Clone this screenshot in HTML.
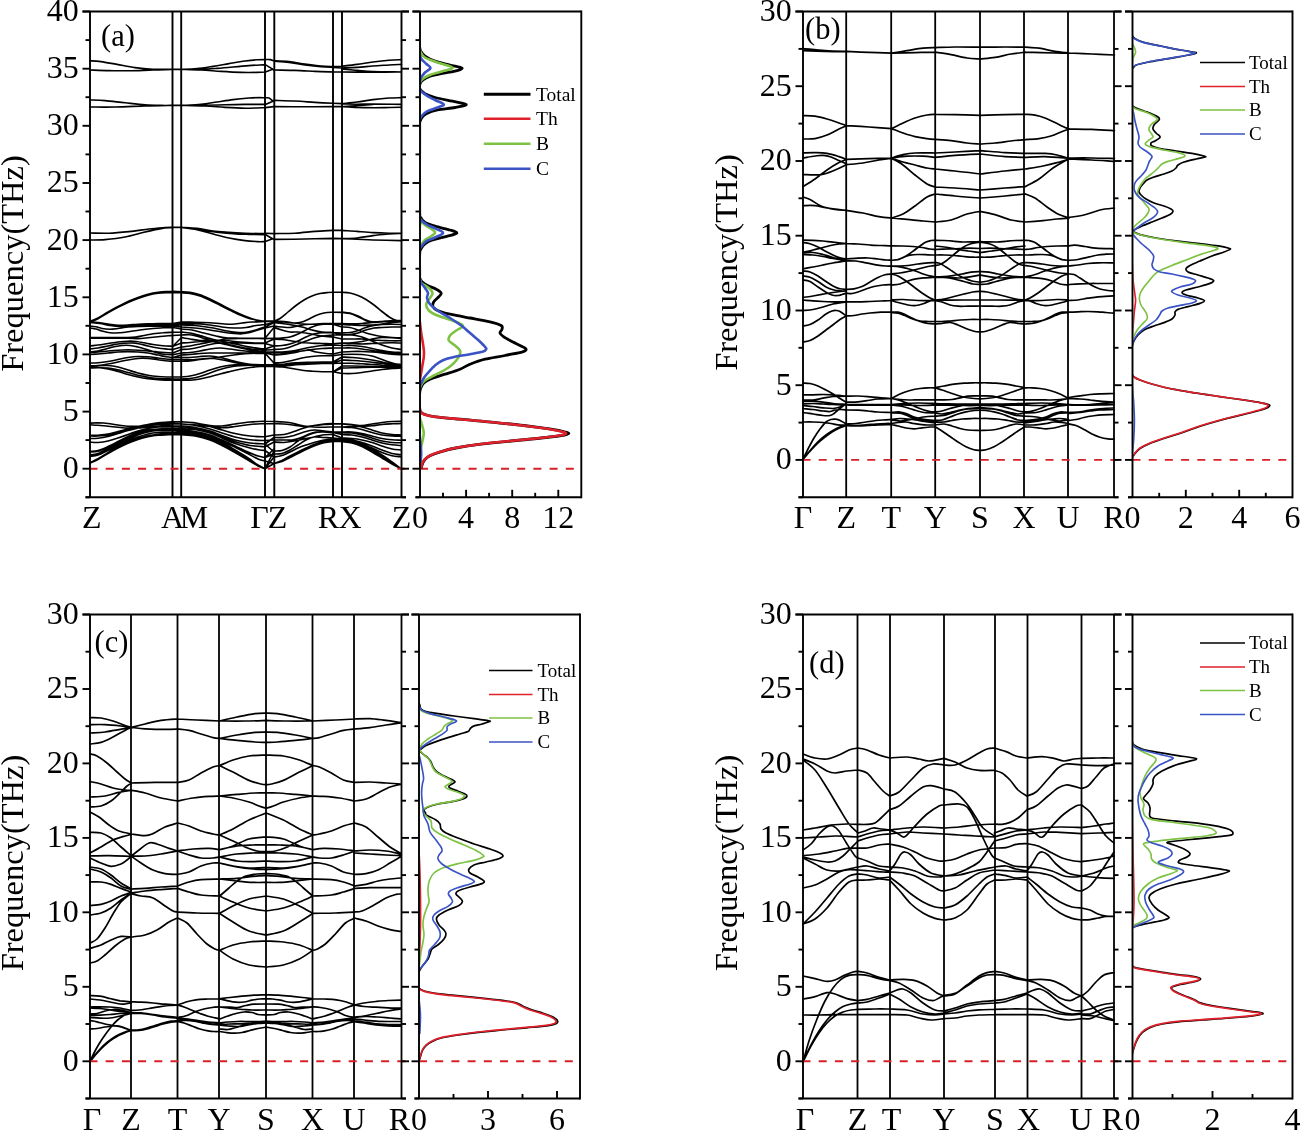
<!DOCTYPE html>
<html lang="en"><head><meta charset="utf-8"><title>Phonon dispersion and DOS</title>
<style>html,body{margin:0;padding:0;background:#fff}svg{display:block}</style></head>
<body>
<svg width="1300" height="1133" viewBox="0 0 1300 1133" font-family='"Liberation Serif", "DejaVu Serif", serif' fill="#000">
<rect width="1300" height="1133" fill="#fff"/>
<path d="M90 60.8C91.8 60.9 96.5 61 101 61.6C105.5 62.2 111.3 63.4 117 64.4C122.7 65.4 129 66.8 135 67.6C141 68.4 146.7 68.9 153 69.2C159.3 69.5 169.3 69.4 172.6 69.4M90 70C93.2 70.1 102.5 70.5 109 70.6C115.5 70.7 121.7 70.9 129 70.8C136.3 70.7 145.7 70.2 153 70C160.3 69.8 169.3 69.5 172.6 69.4M172.6 69.4L181.6 69.4M181.6 69.4C184.2 69.3 191.8 69.1 197 68.6C202.2 68.1 207.7 67.2 213 66.4C218.3 65.6 223.7 64.5 229 63.6C234.3 62.7 240.3 61.6 245 61C249.7 60.4 253.6 60 257 59.8C260.4 59.6 264 59.6 265.4 59.6M181.6 69.4C184.8 69.4 195.1 69.6 201 69.4C206.9 69.2 211.7 68.8 217 68.4C222.3 68 227.7 67.5 233 67C238.3 66.5 243.6 66 249 65.6C254.4 65.2 262.7 64.8 265.4 64.6M181.6 69.4C184.8 69.5 194.4 69.7 201 70C207.6 70.3 214.3 71 221 71.4C227.7 71.8 235 72.2 241 72.4C247 72.6 252.9 72.5 257 72.4C261.1 72.3 264 72.1 265.4 72M265.4 59.6C266.2 59.6 268.6 59.4 270 59.6C271.4 59.8 273 60.6 273.6 60.8M265.4 64.6C266.6 65.4 271.2 68.3 272.6 69.2C274 70.1 273.4 69.9 273.6 70M265.4 72L272.6 69.2M90 100C92.5 100.1 99.2 100.1 105 100.6C110.8 101.1 118.3 102.1 125 102.8C131.7 103.5 139 104.4 145 104.8C151 105.2 156.4 105.3 161 105.4C165.6 105.5 170.7 105.4 172.6 105.4M90 107C94.2 107 105.8 107.2 115 107C124.2 106.8 135.4 106.3 145 106C154.6 105.7 168 105.5 172.6 105.4M172.6 105.4L181.6 105.4M181.6 105.4C184.8 105.2 195.1 105 201 104.4C206.9 103.8 211.7 102.8 217 102C222.3 101.2 227.7 100.3 233 99.6C238.3 98.9 244.7 98.3 249 98C253.3 97.7 256.3 97.6 259 97.6C261.7 97.6 264.3 97.8 265.4 97.8M181.6 105.4C185.5 105.4 197.8 105.3 205 105.2C212.2 105.1 218.3 104.9 225 104.8C231.7 104.7 238.3 104.5 245 104.4C251.7 104.3 262 104.4 265.4 104.4M181.6 105.4C185.5 105.5 197.8 105.7 205 106C212.2 106.3 218.3 107 225 107.4C231.7 107.8 238.3 108.2 245 108.2C251.7 108.2 262 107.7 265.4 107.6M265.4 97.8C266 97.8 267.7 97.4 269 98C270.3 98.6 272.2 100.8 273 101.2C273.8 101.6 273.5 100.7 273.6 100.6M265.4 104.4L273 101.2M265.4 107.6L273.6 106.6M90 233C93.2 233 102.5 233.4 109 233.2C115.5 233 122.3 232.3 129 231.6C135.7 230.9 143 229.7 149 229C155 228.3 161.1 227.9 165 227.6C168.9 227.3 171.3 227.4 172.6 227.4M90 240C92.5 239.9 99.2 240.1 105 239.6C110.8 239.1 118.3 238.3 125 237C131.7 235.7 139 233.4 145 232C151 230.6 156.4 229.3 161 228.6C165.6 227.9 170.7 227.8 172.6 227.6M172.6 227.4L181.6 227.4M181.6 227.4C184.2 227.6 191.8 227.8 197 228.4C202.2 229 207.7 230.3 213 231C218.3 231.7 223.7 232 229 232.4C234.3 232.8 238.9 233 245 233.2C251.1 233.4 262 233.5 265.4 233.6M181.6 227.4C184.2 227.6 191.8 228.1 197 228.8C202.2 229.5 207 230.8 213 231.6C219 232.4 227 233.1 233 233.6C239 234.1 243.6 234.2 249 234.4C254.4 234.6 262.7 234.6 265.4 234.6M181.6 227.4C184.2 227.8 191.8 228.5 197 229.6C202.2 230.7 207.7 232.6 213 234C218.3 235.4 223.7 236.9 229 238C234.3 239.1 240.3 240 245 240.6C249.7 241.2 253.6 241.4 257 241.6C260.4 241.8 264 241.6 265.4 241.6M265.4 233.2L273.6 233.6M265.4 234.6C266.6 235.3 271.2 238 272.6 238.8C274 239.6 273.4 239.1 273.6 239.2M265.4 241.6L272.6 238.8M274.4 60.8C276.8 60.9 283.9 61.1 289 61.6C294.1 62.1 299.7 63.3 305 64C310.3 64.7 316.3 65.6 321 66C325.7 66.4 331 66.5 333 66.6M274.4 61.2C276.8 61.4 283.9 61.8 289 62.4C294.1 63 299.7 64.3 305 65C310.3 65.7 316.3 66.4 321 66.8C325.7 67.2 331 67.3 333 67.4M274.4 70C277.8 70.1 288.2 70.2 295 70.4C301.8 70.6 308.7 71.1 315 71.4C321.3 71.7 330 71.9 333 72M333 66.6L342 66.2M333 67.4L342 68M333 72L342 72M342 66.2C344.5 65.9 351.8 65.1 357 64.4C362.2 63.7 367.7 62.7 373 62C378.3 61.3 384.3 60.6 389 60.2C393.7 59.8 399.3 59.7 401.4 59.6M342 68C344.5 67.9 351.8 67.7 357 67.4C362.2 67.1 367.7 66.4 373 66C378.3 65.6 384.3 65.3 389 65C393.7 64.7 399.3 64.5 401.4 64.4M342 69C344.5 69.2 351.8 70 357 70.4C362.2 70.8 365.6 71.3 373 71.6C380.4 71.9 396.7 71.9 401.4 72M342 72C345.8 72 357.8 72.2 365 72.2C372.2 72.2 378.9 72.2 385 72.2C391.1 72.2 398.7 72 401.4 72M274.4 100.4C277.8 100.5 288.2 100.7 295 101C301.8 101.3 308.7 102 315 102.4C321.3 102.8 330 103.1 333 103.2M274.4 106.6C279.5 106.6 295.2 106.8 305 106.8C314.8 106.8 328.3 106.6 333 106.6M333 103.2L342 103.6M333 106.6L342 106.6M342 103.6C344.5 103.3 351.8 102.7 357 102C362.2 101.3 367.7 100.3 373 99.6C378.3 98.9 384.3 98.3 389 98C393.7 97.7 399.3 97.7 401.4 97.6M342 104C344.5 104 351.8 104.2 357 104.2C362.2 104.2 365.6 104 373 104C380.4 104 396.7 104.3 401.4 104.4M342 106.6C345.8 106.8 357.8 107.4 365 107.6C372.2 107.8 378.9 107.7 385 107.6C391.1 107.5 398.7 107.3 401.4 107.2M342 106.6C344.5 106.4 351.8 106 357 105.6C362.2 105.2 370.3 104.6 373 104.4M274.4 233.6C277.8 233.5 288.2 233.6 295 233.2C301.8 232.8 308.7 231.9 315 231.4C321.3 230.9 330 230.6 333 230.4M274.4 239.4C279.5 239.3 295.2 239.2 305 239C314.8 238.8 328.3 238.5 333 238.4M333 230.4L342 230.4M333 238.4L342 238.6M342 230.4C344.5 230.6 351.8 231 357 231.4C362.2 231.8 367.7 232.3 373 232.6C378.3 232.9 384.3 233.1 389 233.2C393.7 233.3 399.3 233.2 401.4 233.2M342 238.6C344.5 238.7 351.8 239 357 239.2C362.2 239.4 365.6 239.8 373 240C380.4 240.2 396.7 240.5 401.4 240.6M342 238.6C344.5 238.5 351.8 238.5 357 238C362.2 237.5 367.7 236.3 373 235.6C378.3 234.9 384.3 234.4 389 234C393.7 233.6 399.3 233.5 401.4 233.4M89.8 321.5C91.2 320.9 95 319.6 98 318C101 316.4 104.7 313.9 108 312C111.3 310.1 114.7 308.2 118 306.5C121.3 304.8 124.7 303 128 301.5C131.3 300 134.7 298.7 138 297.5C141.3 296.3 144.7 295.1 148 294.2C151.3 293.3 155 292.6 158 292.2C161 291.8 163.5 291.6 166 291.5C168.5 291.4 171.7 291.4 172.8 291.4M89.8 322C91.2 321.4 95 320.2 98 318.7C101 317.2 104.7 314.7 108 312.8C111.3 310.9 114.7 309 118 307.3C121.3 305.6 124.7 303.9 128 302.4C131.3 300.9 134.7 299.6 138 298.4C141.3 297.2 144.7 296.1 148 295.2C151.3 294.3 155 293.6 158 293.2C161 292.8 163.5 292.7 166 292.6C168.5 292.5 171.7 292.5 172.8 292.5M89.8 322C91.2 322.1 95 322.2 98 322.5C101 322.8 104.7 323.6 108 324C111.3 324.4 114.7 325 118 325.2C121.3 325.4 124.7 325.2 128 325C131.3 324.8 134.7 324.4 138 324.2C141.3 324 144.7 323.9 148 323.8C151.3 323.7 153.9 323.7 158 323.6C162.1 323.6 170.3 323.5 172.8 323.5M89.8 322.5C91.5 322.7 96.6 323 100 323.5C103.4 324 106.5 325 110 325.5C113.5 326 117.2 326.4 121 326.5C124.8 326.6 128.5 326.1 133 325.8C137.5 325.6 143 325.2 148 325C153 324.8 158.9 324.8 163 324.8C167.1 324.8 171.2 324.8 172.8 324.8M89.8 326C90.8 326.1 94 326.4 96 326.8C98 327.2 99.7 328.1 102 328.5C104.3 328.9 107.3 329.2 110 329.2C112.7 329.2 115.3 328.8 118 328.5C120.7 328.2 122.7 327.5 126 327.2C129.3 326.9 133.5 326.7 138 326.5C142.5 326.3 147.2 326.3 153 326.2C158.8 326.1 169.5 326 172.8 326M89.8 328C90.8 328.2 94 328.5 96 329C98 329.5 99.7 330.4 102 331C104.3 331.6 107 332.4 110 332.7C113 333 116.7 333 120 332.8C123.3 332.6 126.7 332 130 331.5C133.3 331 136.2 330.5 140 330C143.8 329.5 149.2 328.9 153 328.5C156.8 328.1 159.7 328 163 327.8C166.3 327.6 171.2 327.6 172.8 327.5M89.8 337.5C92.8 337.5 101.6 337.5 108 337.5C114.4 337.5 123.3 337.6 128 337.5C132.7 337.4 133.3 337.3 136 337C138.7 336.7 141.2 336 144 335.5C146.8 335 149.8 334.3 153 333.8C156.2 333.3 159.7 332.9 163 332.7C166.3 332.4 171.2 332.4 172.8 332.3M89.8 338.2C92.8 338.2 101.6 338.2 108 338.2C114.4 338.2 123 338.1 128 338.2C133 338.3 134.7 338.7 138 338.6C141.3 338.5 144.7 338.1 148 337.8C151.3 337.5 154.7 337.1 158 336.8C161.3 336.5 165.5 336 168 335.8C170.5 335.6 172 335.6 172.8 335.5M89.8 346C91.2 345.8 95 345.4 98 345C101 344.6 104.7 344 108 343.5C111.3 343 114.7 342.4 118 342C121.3 341.6 125 341.3 128 341.2C131 341.1 133.3 341.2 136 341.5C138.7 341.8 141.2 342.3 144 342.8C146.8 343.3 149.8 344 153 344.5C156.2 345 159.7 345.5 163 345.8C166.3 346.1 171.2 346.1 172.8 346.2M89.8 349C91.2 348.8 95 348.5 98 348C101 347.5 105 346.6 108 346C111 345.4 113.3 344.7 116 344.2C118.7 343.7 121.3 343.4 124 343.2C126.7 343 129.3 342.9 132 343C134.7 343.1 137.3 343.5 140 344C142.7 344.5 145 345.3 148 346C151 346.7 154.7 347.5 158 348C161.3 348.5 165.5 348.9 168 349.2C170.5 349.4 172 349.4 172.8 349.5M89.8 352C91.2 351.8 95.3 351.5 98 351C100.7 350.5 103.3 349.7 106 349C108.7 348.3 111.3 347.4 114 346.8C116.7 346.2 119.3 345.7 122 345.5C124.7 345.3 127.3 345.2 130 345.5C132.7 345.8 135.3 346.4 138 347C140.7 347.6 143.3 348.4 146 349.2C148.7 350 151.3 351.2 154 352C156.7 352.8 158.9 353.5 162 354C165.1 354.5 171 354.7 172.8 354.8M89.8 352.5C91.2 352.4 95 352.2 98 352C101 351.8 104.7 351.3 108 351C111.3 350.7 114.7 350.4 118 350.2C121.3 350 124.7 349.8 128 349.8C131.3 349.8 134.7 350 138 350.2C141.3 350.4 144.7 350.7 148 351C151.3 351.3 153.9 351.7 158 352C162.1 352.3 170.3 352.8 172.8 353M89.8 354.5C91.2 354.4 95 354.2 98 354C101 353.8 104.7 353.3 108 353C111.3 352.7 114.7 352.2 118 352C121.3 351.8 124.7 351.6 128 351.6C131.3 351.6 134.7 351.8 138 352C141.3 352.2 144.7 352.5 148 353C151.3 353.5 155 354.4 158 355C161 355.6 163.5 356.4 166 356.8C168.5 357.2 171.7 357.4 172.8 357.5M89.8 363C91.2 363 95 363.1 98 362.8C101 362.6 104.7 362.1 108 361.5C111.3 360.9 114.7 360.2 118 359.5C121.3 358.8 124.7 358 128 357.5C131.3 357 134.7 356.6 138 356.5C141.3 356.4 144.7 356.6 148 356.8C151.3 357.1 154.7 357.6 158 358C161.3 358.4 165.5 358.9 168 359.2C170.5 359.4 172 359.4 172.8 359.5M89.8 366C91.2 365.9 95 365.8 98 365.5C101 365.2 104.7 364.6 108 364C111.3 363.4 114.7 362.7 118 362C121.3 361.3 124.7 360.6 128 360C131.3 359.4 134.7 358.8 138 358.5C141.3 358.2 144.7 358.3 148 358.5C151.3 358.7 154.7 359.4 158 359.8C161.3 360.2 165.5 360.8 168 361C170.5 361.2 172 361.2 172.8 361.2M89.8 366.5C91.2 366.4 95 366 98 365.8C101 365.6 104.7 365.3 108 365.5C111.3 365.7 114.7 366.2 118 367C121.3 367.8 124.7 369 128 370C131.3 371 134.7 372.1 138 373C141.3 373.9 144.7 374.6 148 375.2C151.3 375.8 154.7 376.2 158 376.5C161.3 376.8 165.5 376.9 168 377C170.5 377.1 172 377 172.8 377M89.8 367.5C91.2 367.5 95 367.2 98 367.5C101 367.8 104.7 368.3 108 369C111.3 369.7 114.7 370.6 118 371.5C121.3 372.4 124.7 373.6 128 374.5C131.3 375.4 134.7 376.3 138 377C141.3 377.7 144.7 378.3 148 378.8C151.3 379.3 154.7 379.6 158 379.8C161.3 380 165.5 380.1 168 380.2C170.5 380.3 172 380.2 172.8 380.2M89.8 368C91.2 368 95 367.8 98 367.8C101 367.8 104.7 367.7 108 368C111.3 368.3 114.7 369.1 118 369.8C121.3 370.6 124.7 371.6 128 372.5C131.3 373.4 134.7 374.4 138 375.2C141.3 376 144.7 376.6 148 377.2C151.3 377.8 153.9 378.2 158 378.5C162.1 378.8 170.3 378.9 172.8 379M181.5 291.8C182.9 291.9 186.9 291.7 190 292.2C193.1 292.7 196.7 293.7 200 294.8C203.3 295.9 206.7 297.5 210 299C213.3 300.5 216.7 302.3 220 304C223.3 305.7 226.7 307.5 230 309.2C233.3 310.9 236.7 312.5 240 314C243.3 315.5 247.2 317 250 318C252.8 319 254.5 319.7 257 320.2C259.5 320.7 263.7 320.9 265 321M181.5 292.8C182.9 292.9 186.9 292.9 190 293.4C193.1 293.9 196.7 294.9 200 296C203.3 297.1 206.7 298.7 210 300.2C213.3 301.7 216.7 303.5 220 305.2C223.3 306.9 226.7 308.6 230 310.2C233.3 311.8 236.7 313.6 240 315C243.3 316.4 245.8 317.7 250 318.8C254.2 319.9 262.5 321.1 265 321.5M181.5 322C183.8 322 190.2 322.1 195 322.2C199.8 322.3 205.5 322.5 210 322.8C214.5 323.1 218.3 323.6 222 323.8C225.7 324 228.7 324.3 232 324.2C235.3 324.1 238.7 323.4 242 323C245.3 322.6 248.2 322.2 252 322C255.8 321.8 262.8 321.6 265 321.5M181.5 323.5C183.8 323.6 190.2 323.6 195 323.8C199.8 324.1 205.5 324.5 210 325C214.5 325.5 218 326.5 222 327C226 327.5 230 327.9 234 328C238 328.1 242.3 327.9 246 327.5C249.7 327.1 252.8 326 256 325.5C259.2 325 263.5 324.7 265 324.5M181.5 324.8C183.8 324.9 190.2 325.1 195 325.5C199.8 325.9 205.5 326.8 210 327.5C214.5 328.2 218 329.2 222 330C226 330.8 230.3 331.6 234 332C237.7 332.4 241 332.7 244 332.5C247 332.3 249.3 331.7 252 331C254.7 330.3 257.8 329.2 260 328.5C262.2 327.8 264.2 327.2 265 327M181.5 327C183.8 327.2 190.2 327.5 195 328C199.8 328.5 205.5 329.3 210 330C214.5 330.7 218 331.4 222 332C226 332.6 230.7 333.2 234 333.5C237.3 333.8 239.3 334 242 333.8C244.7 333.6 247.3 333.1 250 332.5C252.7 331.9 255.5 330.8 258 330C260.5 329.2 263.8 328.3 265 328M181.5 329C183.2 329.2 188.2 329.3 192 330C195.8 330.7 200 332 204 333C208 334 212.3 335.2 216 336C219.7 336.8 222 337.4 226 337.8C230 338.2 235.2 338.1 240 338.2C244.8 338.3 250.8 338.2 255 338.2C259.2 338.2 263.3 338.2 265 338.2M181.5 332C182.9 332.2 186.9 332.4 190 333C193.1 333.6 196.7 334.6 200 335.5C203.3 336.4 206.7 337.6 210 338.5C213.3 339.4 216.7 340.2 220 341C223.3 341.8 226.7 342.3 230 343C233.3 343.7 236.7 344.3 240 345C243.3 345.7 246.7 346.4 250 347C253.3 347.6 257.5 348.2 260 348.5C262.5 348.8 264.2 348.9 265 349M181.5 335C182.9 335 187.2 334.6 190 334.8C192.8 335.1 195.3 335.8 198 336.5C200.7 337.2 203 338.1 206 339C209 339.9 212.7 341.1 216 342C219.3 342.9 222.7 343.7 226 344.5C229.3 345.3 232.7 346.2 236 347C239.3 347.8 242.7 348.3 246 349C249.3 349.7 252.8 350.5 256 351C259.2 351.5 263.5 351.7 265 351.8M181.5 337.5C182.9 337.8 186.9 338.5 190 339C193.1 339.5 197 340.2 200 340.5C203 340.8 205.3 340.6 208 340.5C210.7 340.4 213 340 216 340C219 340 222 340.2 226 340.5C230 340.8 235.2 341.6 240 342C244.8 342.4 250.8 342.8 255 343C259.2 343.2 263.3 343 265 343M181.5 343C182.9 342.9 186.9 342.8 190 342.5C193.1 342.2 197 341.8 200 341.5C203 341.2 205.3 340.9 208 341C210.7 341.1 213 341.5 216 342C219 342.5 222 343.2 226 344C230 344.8 235.2 346.1 240 347C244.8 347.9 250.8 349 255 349.5C259.2 350 263.3 350.1 265 350.2M181.5 347C182.9 346.8 186.9 346.5 190 346C193.1 345.5 196.7 344.7 200 344C203.3 343.3 207 342.6 210 342C213 341.4 215.3 341 218 340.5C220.7 340 222.3 339.3 226 339C229.7 338.7 233.5 338.6 240 338.5C246.5 338.4 260.8 338.6 265 338.6M181.5 349.5C182.9 349.4 186.9 349.4 190 349C193.1 348.6 196.7 347.8 200 347C203.3 346.2 206.7 345.2 210 344.5C213.3 343.8 216.7 343.3 220 343C223.3 342.7 226.7 342.8 230 342.8C233.3 342.8 235.8 342.9 240 343C244.2 343.1 250.8 343.3 255 343.4C259.2 343.5 263.3 343.5 265 343.5M181.5 353C182.9 352.9 186.9 352.8 190 352.5C193.1 352.2 196.7 351.6 200 351C203.3 350.4 206.7 349.5 210 349C213.3 348.5 216.7 348 220 348C223.3 348 226.7 348.6 230 349C233.3 349.4 236.7 350.1 240 350.5C243.3 350.9 245.8 351.2 250 351.5C254.2 351.8 262.5 351.9 265 352M181.5 355C182.9 354.9 186.9 354.8 190 354.5C193.1 354.2 196.7 353.8 200 353.5C203.3 353.2 206.7 353.1 210 353C213.3 352.9 216.7 353 220 353C223.3 353 226.7 353 230 353C233.3 353 236.7 353 240 353C243.3 353 245.8 353 250 353C254.2 353 262.5 353 265 353M181.5 357.5C182.9 357.5 186.9 357.7 190 357.5C193.1 357.3 196.7 356.8 200 356.5C203.3 356.2 206.7 355.8 210 356C213.3 356.2 216.7 356.8 220 357.5C223.3 358.2 226.7 359.2 230 360C233.3 360.8 236.7 361.8 240 362.5C243.3 363.2 246.7 363.8 250 364.2C253.3 364.6 257.5 365 260 365.2C262.5 365.4 264.2 365.4 265 365.5M181.5 359.5C182.9 359.6 186.9 359.9 190 359.8C193.1 359.7 196.7 359.3 200 359C203.3 358.7 206.7 358.1 210 358.2C213.3 358.3 216.7 358.9 220 359.5C223.3 360.1 226.7 360.8 230 361.5C233.3 362.2 236.7 362.9 240 363.5C243.3 364.1 245.8 364.4 250 364.8C254.2 365.2 262.5 365.6 265 365.8M181.5 361.2C182.9 361.2 186.9 361.3 190 361C193.1 360.7 196.7 359.9 200 359.5C203.3 359.1 206.7 358.9 210 358.5C213.3 358.1 216.7 357.5 220 357C223.3 356.5 226.7 356 230 355.5C233.3 355 236.7 354.5 240 354.2C243.3 353.9 245.8 353.7 250 353.5C254.2 353.3 262.5 353.2 265 353.2M181.5 377C182.9 376.8 186.9 376.6 190 376C193.1 375.4 196.7 374.5 200 373.5C203.3 372.5 206.7 371.1 210 370C213.3 368.9 216.7 367.8 220 367C223.3 366.2 226.7 365.6 230 365.2C233.3 364.8 236.7 364.6 240 364.5C243.3 364.4 245.8 364.4 250 364.5C254.2 364.6 262.5 364.8 265 364.8M181.5 379C182.9 378.9 186.9 378.9 190 378.5C193.1 378.1 196.7 377.4 200 376.5C203.3 375.6 206.7 374.2 210 373C213.3 371.8 216.7 370.5 220 369.5C223.3 368.5 226.7 367.6 230 367C233.3 366.4 236.7 366.1 240 365.8C243.3 365.5 245.8 365.3 250 365.2C254.2 365.1 262.5 365.2 265 365.2M181.5 380.2C182.9 380.2 186.9 380.4 190 380.2C193.1 380 196.7 379.6 200 379C203.3 378.4 206.7 377.6 210 376.8C213.3 376 216.7 374.9 220 374C223.3 373.1 226.7 372.3 230 371.5C233.3 370.7 236.7 369.9 240 369.2C243.3 368.5 246.7 367.9 250 367.5C253.3 367.1 257.5 366.7 260 366.5C262.5 366.3 264.2 366.2 265 366.2M274 321C275 320.6 277.7 320 280 318.5C282.3 317 285.3 314.2 288 312C290.7 309.8 293.3 307.5 296 305.5C298.7 303.5 301.3 301.6 304 300C306.7 298.4 309.3 297.1 312 296C314.7 294.9 317.3 294.1 320 293.5C322.7 292.9 325.8 292.7 328 292.5C330.2 292.3 332.2 292.3 333 292.3M333 292.3L342 292.3M342 292.3C343.3 292.4 347.3 292.5 350 293C352.7 293.5 355.3 294.4 358 295.5C360.7 296.6 363.3 297.9 366 299.5C368.7 301.1 371.3 303 374 305C376.7 307 379.3 309.4 382 311.5C384.7 313.6 387.7 316 390 317.5C392.3 319 394.2 319.8 396 320.5C397.8 321.2 400.2 321.3 401 321.5M274 321.5C275.7 321.6 280.7 321.8 284 322C287.3 322.2 291 323 294 323C297 323 299.7 322.6 302 322C304.3 321.4 305.7 320.6 308 319.5C310.3 318.4 313.3 316.6 316 315.5C318.7 314.4 321.2 313.6 324 313C326.8 312.4 331.5 312.3 333 312.2M333 312.2L342 312M342 312C343.3 312.2 347.3 312.3 350 313C352.7 313.7 355.3 314.8 358 316C360.7 317.2 363.7 319 366 320C368.3 321 369.7 321.6 372 321.8C374.3 322.1 377 321.7 380 321.5C383 321.3 386.5 321 390 320.8C393.5 320.6 399.2 320.6 401 320.5M342 312.5C343.3 312.7 347.3 312.9 350 313.6C352.7 314.3 355.3 315.5 358 316.7C360.7 317.9 363.7 319.8 366 320.7C368.3 321.6 369.7 322.1 372 322.3C374.3 322.5 377 322.2 380 322C383 321.8 386.5 321.5 390 321.3C393.5 321.1 399.2 321.1 401 321M274 321.5C275.7 321.5 280.7 321.2 284 321.5C287.3 321.8 290.7 322.6 294 323C297.3 323.4 300.7 323.8 304 324C307.3 324.2 310.7 324.3 314 324.2C317.3 324.1 320.8 323.6 324 323.5C327.2 323.4 331.5 323.5 333 323.5M274 322.5C275.3 322.7 279 323.1 282 323.5C285 323.9 288.7 324.4 292 325C295.3 325.6 298.7 326.2 302 327C305.3 327.8 308.7 329.2 312 330C315.3 330.8 318.5 331.6 322 332C325.5 332.4 331.2 332.4 333 332.5M274 326C275.3 326.2 279.3 326.8 282 327C284.7 327.2 287.3 327.7 290 327.5C292.7 327.3 295.3 326.5 298 326C300.7 325.5 303 324.8 306 324.5C309 324.2 311.5 324.1 316 324C320.5 323.9 330.2 324.2 333 324.2M274 327.5C275.3 327.9 279.3 329.2 282 330C284.7 330.8 287.3 331.7 290 332C292.7 332.3 295.3 331.8 298 332C300.7 332.2 303 332.5 306 333C309 333.5 312.7 334.4 316 335C319.3 335.6 323.2 336.2 326 336.5C328.8 336.8 331.8 336.9 333 337M274 338.2C275.3 338.2 279.3 338.2 282 338C284.7 337.8 287.3 337.7 290 337C292.7 336.3 295.3 335.2 298 334C300.7 332.8 303.7 331.2 306 330C308.3 328.8 310 327.8 312 327C314 326.2 315.7 325.5 318 325C320.3 324.5 323.5 324.2 326 324C328.5 323.8 331.8 323.8 333 323.8M274 339C275.3 339.1 279 339.2 282 339.5C285 339.8 288.7 340.5 292 341C295.3 341.5 298.7 342.1 302 342.5C305.3 342.9 308.7 343 312 343.2C315.3 343.4 318.5 343.4 322 343.5C325.5 343.6 331.2 343.8 333 343.8M274 346C275.3 345.9 279.3 345.8 282 345.5C284.7 345.2 287.3 344.8 290 344C292.7 343.2 295.3 342.2 298 341C300.7 339.8 303.3 338.2 306 337C308.7 335.8 311.3 334.7 314 334C316.7 333.3 318.8 333.1 322 332.8C325.2 332.6 331.2 332.6 333 332.5M274 349.5C275.3 349.4 279.3 349.4 282 349C284.7 348.6 287.3 347.8 290 347C292.7 346.2 295.3 345 298 344C300.7 343 303.3 342 306 341C308.7 340 311.3 338.8 314 338C316.7 337.2 318.8 336.5 322 336C325.2 335.5 331.2 335.2 333 335M274 352C275.3 352 279 352.2 282 352C285 351.8 288.7 351.5 292 351C295.3 350.5 298.7 349.7 302 349C305.3 348.3 308.7 347.6 312 347C315.3 346.4 318.5 345.8 322 345.5C325.5 345.2 331.2 345.1 333 345M274 353C275.3 353 279 353.1 282 353C285 352.9 288.7 352.5 292 352.2C295.3 351.9 298.7 351.4 302 351C305.3 350.6 308.7 349.9 312 349.5C315.3 349.1 318.5 348.8 322 348.5C325.5 348.2 331.2 348.1 333 348M274 355C275.3 354.9 279 354.8 282 354.5C285 354.2 288.7 353.6 292 353C295.3 352.4 299.3 351.5 302 351C304.7 350.5 305.7 349.8 308 350C310.3 350.2 313 351.4 316 352C319 352.6 323.2 353.2 326 353.5C328.8 353.8 331.8 353.9 333 354M274 363C275.3 362.9 279 362.9 282 362.5C285 362.1 288.7 361.2 292 360.5C295.3 359.8 298.7 358.7 302 358C305.3 357.3 308.7 356.9 312 356.5C315.3 356.1 318.5 355.9 322 355.8C325.5 355.7 331.2 355.8 333 355.8M274 364.5C275.3 364.5 279 364.8 282 364.5C285 364.2 288.7 363.3 292 363C295.3 362.7 298.7 362.6 302 362.5C305.3 362.4 308.7 362.3 312 362.2C315.3 362.1 318.5 362 322 362C325.5 362 331.2 362 333 362M274 366C275.3 366 279 366.1 282 366C285 365.9 288.7 365.4 292 365.2C295.3 364.9 298.7 364.7 302 364.5C305.3 364.3 308.7 364.2 312 364C315.3 363.8 318.5 363.6 322 363.5C325.5 363.4 331.2 363.5 333 363.5M274 366.5C275.3 366.6 279 366.7 282 367C285 367.3 288.7 368 292 368.5C295.3 369 298.7 369.8 302 370.2C305.3 370.6 308.7 370.9 312 371.2C315.3 371.4 318.5 371.6 322 371.7C325.5 371.8 331.2 371.8 333 371.8M274 365.5C277 365.3 285.7 364.6 292 364.2C298.3 363.8 305.2 363.2 312 363C318.8 362.8 329.5 363 333 363M342 323.5C343.7 323.6 348.7 323.8 352 323.8C355.3 323.8 358.7 323.7 362 323.5C365.3 323.3 368.7 322.8 372 322.5C375.3 322.2 378.7 321.8 382 321.5C385.3 321.2 388.8 321 392 320.8C395.2 320.6 399.5 320.6 401 320.5M342 324.5C343.7 324.6 348.7 324.8 352 325C355.3 325.2 358.7 325.5 362 325.5C365.3 325.5 368.7 325.2 372 325C375.3 324.8 378.7 324.4 382 324C385.3 323.6 388.8 322.9 392 322.5C395.2 322.1 399.5 321.9 401 321.8M342 327C343.3 327.1 347.3 327 350 327.5C352.7 328 355.3 329.1 358 330C360.7 330.9 363.3 332.2 366 333C368.7 333.8 371.3 334.4 374 335C376.7 335.6 379 336.1 382 336.5C385 336.9 388.8 337.3 392 337.5C395.2 337.7 399.5 337.8 401 337.8M342 333C343.3 332.9 347.3 332.9 350 332.5C352.7 332.1 355.3 331.3 358 330.5C360.7 329.7 363.3 328.3 366 327.5C368.7 326.7 371.3 326 374 325.5C376.7 325 379 324.7 382 324.5C385 324.3 388.8 324.2 392 324.2C395.2 324.2 399.5 324.4 401 324.5M342 335C343.7 335 348.7 334.7 352 335C355.3 335.3 358.7 336 362 337C365.3 338 368.7 339.7 372 341C375.3 342.3 378.7 343.8 382 345C385.3 346.2 388.8 347.2 392 348C395.2 348.8 399.5 349.2 401 349.5M342 335C343.3 334.9 347.3 334.8 350 334.5C352.7 334.2 355.3 333.8 358 333C360.7 332.2 363.3 330.8 366 330C368.7 329.2 371.3 328.4 374 328C376.7 327.6 379 327.7 382 327.5C385 327.3 388.8 327.1 392 327C395.2 326.9 399.5 327 401 327M342 339C343.7 339 348.7 339 352 339C355.3 339 358.7 338.8 362 339C365.3 339.2 368.7 339.8 372 340C375.3 340.2 378.7 340.4 382 340.5C385.3 340.6 388.8 340.8 392 340.8C395.2 340.9 399.5 340.8 401 340.8M342 343C343.7 343 348.7 343.1 352 342.8C355.3 342.6 358.7 342.1 362 341.5C365.3 340.9 368.7 339.7 372 339C375.3 338.3 378.7 337.7 382 337.5C385.3 337.3 388.8 337.6 392 337.8C395.2 338 399.5 338.4 401 338.5M342 343C343.7 343.1 348.7 343.3 352 343.5C355.3 343.7 358.7 344 362 344C365.3 344 368.7 343.7 372 343.5C375.3 343.3 378.7 343.1 382 343C385.3 342.9 388.8 342.8 392 342.8C395.2 342.8 399.5 343 401 343M342 345.5C343.7 345.5 348.7 345.3 352 345.5C355.3 345.7 358.7 346 362 346.5C365.3 347 368.7 347.8 372 348.5C375.3 349.2 378.7 349.9 382 350.5C385.3 351.1 388.8 351.7 392 352C395.2 352.3 399.5 352.4 401 352.5M342 348C343.7 348 348.7 347.8 352 348C355.3 348.2 358.7 348.6 362 349C365.3 349.4 368.7 350 372 350.5C375.3 351 378.7 351.6 382 352C385.3 352.4 388.8 352.8 392 353C395.2 353.2 399.5 353.4 401 353.5M342 352C343.7 351.9 348.7 351.6 352 351.5C355.3 351.4 358.7 351.4 362 351.5C365.3 351.6 368.7 351.8 372 352C375.3 352.2 378.7 352.6 382 353C385.3 353.4 388.8 353.9 392 354.2C395.2 354.5 399.5 354.7 401 354.8M342 354.5C343.7 354.4 348.7 354.2 352 354.2C355.3 354.2 358.7 354.2 362 354.5C365.3 354.8 369.3 355.4 372 356C374.7 356.6 375.7 357.2 378 358C380.3 358.8 383.3 360.1 386 361C388.7 361.9 391.5 362.9 394 363.5C396.5 364.1 399.8 364.3 401 364.5M342 357C343.7 357.1 348.7 357.2 352 357.5C355.3 357.8 358.7 358.1 362 358.5C365.3 358.9 368.7 359.4 372 360C375.3 360.6 378.7 361.3 382 362C385.3 362.7 388.8 363.5 392 364C395.2 364.5 399.5 365 401 365.2M342 360C343.7 360.1 348.7 360.3 352 360.5C355.3 360.7 358.7 360.9 362 361.2C365.3 361.5 368.7 361.8 372 362.2C375.3 362.6 378.7 363.1 382 363.5C385.3 363.9 388.8 364.4 392 364.8C395.2 365.2 399.5 365.6 401 365.8M342 363C343.7 363 348.7 363.1 352 363.2C355.3 363.3 358.7 363.6 362 363.8C365.3 364 368.7 364.3 372 364.5C375.3 364.7 378.7 364.9 382 365.2C385.3 365.4 388.8 365.8 392 366C395.2 366.2 399.5 366.4 401 366.5M342 366C343.7 366 348.7 366 352 366C355.3 366 358.7 366.1 362 366.2C365.3 366.3 368.7 366.4 372 366.5C375.3 366.6 378.7 366.7 382 366.8C385.3 366.9 388.8 366.9 392 367C395.2 367.1 399.5 367.2 401 367.2M342 368C343.7 368 348.7 367.9 352 367.8C355.3 367.7 358.7 367.6 362 367.5C365.3 367.4 368.7 367.3 372 367.3C375.3 367.3 378.7 367.3 382 367.3C385.3 367.3 388.8 367.3 392 367.3C395.2 367.3 399.5 367.5 401 367.5M342 373.5C343.7 373.5 348.7 373.7 352 373.5C355.3 373.3 358.7 372.9 362 372.5C365.3 372.1 368.7 371.5 372 371C375.3 370.5 378.7 369.9 382 369.5C385.3 369.1 388.8 368.8 392 368.5C395.2 368.2 399.5 368.1 401 368M89.8 423.2C91.2 423.1 95 422.8 98 422.8C101 422.9 104.7 423.1 108 423.5C111.3 423.9 114.7 424.6 118 425C121.3 425.4 124.7 426 128 426.2C131.3 426.4 134.7 426.5 138 426.2C141.3 425.9 144.7 425 148 424.5C151.3 424 153.9 423.4 158 423C162.1 422.6 170.3 422.3 172.8 422.2M89.8 424.8C91.2 424.9 95 425 98 425.2C101 425.4 104.7 425.9 108 426.2C111.3 426.5 114.7 426.9 118 427.2C121.3 427.5 124.7 427.9 128 428C131.3 428.1 134.7 428.2 138 428C141.3 427.8 144.7 427.3 148 427C151.3 426.7 153.9 426.4 158 426.2C162.1 426 170.3 425.9 172.8 425.8M89.8 435.5C91.2 435.4 95 435.4 98 435.2C101 434.9 104.7 434.6 108 434C111.3 433.4 114.7 432.3 118 431.5C121.3 430.7 124.7 429.8 128 429C131.3 428.2 134.7 427.2 138 426.5C141.3 425.8 144.7 425.1 148 424.5C151.3 423.9 154.7 423.2 158 422.8C161.3 422.4 165.5 422.2 168 422C170.5 421.8 172 421.8 172.8 421.8M89.8 436C91.2 436 95 436.2 98 436C101 435.8 104.7 435.5 108 435C111.3 434.5 114.7 433.6 118 432.8C121.3 432 124.7 430.9 128 430C131.3 429.1 134.7 428.4 138 427.6C141.3 426.9 144.7 426.1 148 425.5C151.3 424.9 153.9 424.4 158 424C162.1 423.6 170.3 423.3 172.8 423.2M89.8 438.5C91.2 438.4 95 438.5 98 438.2C101 437.9 104.7 437.3 108 436.5C111.3 435.7 114.7 434.5 118 433.5C121.3 432.5 124.7 431.4 128 430.5C131.3 429.6 134.7 428.8 138 428C141.3 427.2 144.7 426.4 148 425.8C151.3 425.2 153.9 424.8 158 424.5C162.1 424.2 170.3 424.1 172.8 424M89.8 442.2C91.2 442.2 95 442.7 98 442.5C101 442.3 104.7 441.8 108 441C111.3 440.2 114.7 439.1 118 438C121.3 436.9 124.7 435.7 128 434.5C131.3 433.3 134.7 432 138 431C141.3 430 144.7 429.2 148 428.5C151.3 427.8 153.9 427.3 158 427C162.1 426.7 170.3 426.6 172.8 426.5M89.8 451.5C91.2 451.3 95 451.3 98 450.5C101 449.7 104.7 448 108 446.5C111.3 445 114.7 443.2 118 441.5C121.3 439.8 124.7 438 128 436.5C131.3 435 134.7 433.6 138 432.5C141.3 431.4 144.7 430.6 148 430C151.3 429.4 153.9 429.2 158 429C162.1 428.8 170.3 428.6 172.8 428.5M89.8 452C91.2 451.9 95 451.9 98 451.2C101 450.4 104.7 448.9 108 447.5C111.3 446.1 114.7 444.1 118 442.5C121.3 440.9 124.7 439.2 128 437.8C131.3 436.4 134.7 434.9 138 433.8C141.3 432.7 144.7 431.9 148 431.2C151.3 430.5 153.9 430.1 158 429.8C162.1 429.5 170.3 429.3 172.8 429.2M89.8 455C91.2 454.8 95 454.5 98 453.5C101 452.5 104.7 450.6 108 449C111.3 447.4 114.7 445.6 118 444C121.3 442.4 124.7 441 128 439.5C131.3 438 134.7 436.2 138 435C141.3 433.8 144.7 432.8 148 432C151.3 431.2 153.9 430.8 158 430.5C162.1 430.2 170.3 430.1 172.8 430M89.8 456.5C91.2 456.2 95 456 98 455C101 454 104.7 452.1 108 450.5C111.3 448.9 114.7 447.1 118 445.5C121.3 443.9 124.7 442.4 128 441C131.3 439.6 134.7 438.2 138 437C141.3 435.8 144.7 434.8 148 434C151.3 433.2 153.9 432.8 158 432.5C162.1 432.2 170.3 432.1 172.8 432M89.8 463.2C91.2 462.6 95 461.1 98 459.5C101 457.9 104.7 455.4 108 453.5C111.3 451.6 114.7 449.7 118 448C121.3 446.3 124.7 444.6 128 443.2C131.3 441.8 134.7 440.6 138 439.5C141.3 438.4 144.7 437.5 148 436.8C151.3 436.1 154.7 435.5 158 435.2C161.3 434.9 165.5 434.9 168 434.8C170.5 434.7 172 434.8 172.8 434.8M89.8 462.8C91.2 462.1 95 460.5 98 458.8C101 457.1 104.7 454.7 108 452.7C111.3 450.7 114.7 448.8 118 447C121.3 445.2 124.7 443.6 128 442.2C131.3 440.8 134.7 439.6 138 438.5C141.3 437.4 144.7 436.5 148 435.8C151.3 435.1 154.7 434.6 158 434.2C161.3 433.8 165.5 433.8 168 433.7C170.5 433.6 172 433.6 172.8 433.6M181.5 421.8C183.8 422 190.2 422.4 195 423C199.8 423.6 205.5 425 210 425.5C214.5 426 217.8 426.2 222 426C226.2 425.8 230.3 424.7 235 424C239.7 423.3 245 422.5 250 422C255 421.5 262.5 421.3 265 421.2M181.5 424C183.8 424.1 190.2 424.4 195 424.8C199.8 425.2 205.5 426 210 426.5C214.5 427 217.8 427.8 222 427.8C226.2 427.8 230.3 427.1 235 426.5C239.7 425.9 245 425 250 424.5C255 424 262.5 423.7 265 423.5M181.5 421.8C183.8 422 190.2 422 195 422.8C199.8 423.6 205.5 425.3 210 426.5C214.5 427.7 217.8 428.8 222 430C226.2 431.2 230.3 432.5 235 433.5C239.7 434.5 245 435.4 250 436C255 436.6 262.5 436.7 265 436.8M181.5 424C183.8 424.2 190.2 424.7 195 425.5C199.8 426.3 205.5 427.8 210 429C214.5 430.2 217.8 431.7 222 433C226.2 434.3 230.3 435.9 235 437C239.7 438.1 245 439.2 250 439.8C255 440.4 262.5 440.4 265 440.5M181.5 426C183.8 426.2 190.2 426.7 195 427.5C199.8 428.3 205.5 429.7 210 431C214.5 432.3 217.8 434 222 435.5C226.2 437 230.3 438.8 235 440C239.7 441.2 245 442.3 250 443C255 443.7 262.5 443.8 265 444M181.5 427C183.8 427.2 190.2 427.7 195 428.5C199.8 429.3 205.5 430.6 210 432C214.5 433.4 217.8 435.2 222 436.8C226.2 438.4 230.3 440.4 235 441.8C239.7 443.2 245 444.7 250 445.5C255 446.3 262.5 446.6 265 446.8M181.5 428.5C183.8 428.7 190.2 428.8 195 429.5C199.8 430.2 205.5 431.6 210 433C214.5 434.4 217.8 436.2 222 438C226.2 439.8 230.3 441.8 235 443.5C239.7 445.2 245.8 446.9 250 448C254.2 449.1 257.5 449.6 260 450C262.5 450.4 264.2 450.4 265 450.5M181.5 430C183.8 430.2 190.2 430.7 195 431.5C199.8 432.3 205.5 433.6 210 435C214.5 436.4 217.8 438.2 222 440C226.2 441.8 230.7 444 235 446C239.3 448 244.2 450.3 248 452C251.8 453.7 255.2 455.1 258 456C260.8 456.9 263.8 457.2 265 457.5M181.5 431C183.8 431.2 190.2 431.7 195 432.5C199.8 433.3 205.5 434.6 210 436C214.5 437.4 217.8 439.1 222 441C226.2 442.9 230.7 445.1 235 447.2C239.3 449.3 244.2 451.8 248 453.8C251.8 455.8 255.2 457.8 258 459C260.8 460.2 263.8 460.7 265 461M181.5 432C183.8 432.2 190.2 432.6 195 433.5C199.8 434.4 205.5 436 210 437.5C214.5 439 217.8 440.4 222 442.5C226.2 444.6 230.7 447.4 235 450C239.3 452.6 244.2 455.5 248 458C251.8 460.5 255.2 463.2 258 465C260.8 466.8 263.8 468.1 265 468.7M181.5 434.8C183.8 435 190.2 435.1 195 436C199.8 436.9 205.5 438.4 210 440C214.5 441.6 217.8 443.4 222 445.5C226.2 447.6 230.7 450.1 235 452.5C239.3 454.9 244.2 457.8 248 460C251.8 462.2 255.2 464.6 258 466C260.8 467.4 263.8 468.2 265 468.7M181.5 433.5C183.8 433.7 190.2 433.9 195 434.8C199.8 435.7 205.5 437.3 210 438.8C214.5 440.3 217.8 441.9 222 444C226.2 446.1 230.7 448.7 235 451.2C239.3 453.7 244.2 456.6 248 459C251.8 461.4 255.2 463.9 258 465.5C260.8 467.1 263.8 468.2 265 468.7M265 468.7L274 463.5M265 468.7L274 457M265 468.7L274 451M265 457.5L274 454M265 461L274 463.5M265 450.5L274 457M265 444L274 452M265 446.8L274 442M265 457.5L274 449M265 421.2L274 421.5M265 423.5L274 423.7M265 436.8L274 435M265 440.5L274 440M265 444L274 437.5M274 421.5C275.7 421.6 280.7 421.7 284 422C287.3 422.3 290.7 422.8 294 423.5C297.3 424.2 300.7 425.4 304 426C307.3 426.6 310.7 426.8 314 427C317.3 427.2 320.8 427.2 324 427.2C327.2 427.2 331.5 427 333 427M274 423.7C275.7 423.8 280.7 423.8 284 424C287.3 424.2 290.7 424.8 294 425.2C297.3 425.6 300.7 426.4 304 426.5C307.3 426.6 310.7 425.8 314 425.5C317.3 425.2 320.8 424.8 324 424.5C327.2 424.2 331.5 424.1 333 424M274 435C275.7 434.9 280.7 435.1 284 434.5C287.3 433.9 290.7 432.6 294 431.5C297.3 430.4 300.7 429 304 428C307.3 427 310.7 426.2 314 425.5C317.3 424.8 320.8 424.3 324 424C327.2 423.7 331.5 423.6 333 423.5M274 437.5C275.7 437.5 280.7 437.8 284 437.5C287.3 437.2 290.7 436.4 294 435.5C297.3 434.6 300.7 432.9 304 432C307.3 431.1 310.7 430.2 314 430C317.3 429.8 320.8 430.7 324 431C327.2 431.3 331.5 431.8 333 432M274 440C275.7 440 281 440 284 440C287 440 289.3 440.3 292 440C294.7 439.7 297.3 438.9 300 438C302.7 437.1 305.3 435.5 308 434.5C310.7 433.5 313.3 432.5 316 432C318.7 431.5 321.2 431.5 324 431.5C326.8 431.5 331.5 431.9 333 432M274 442C275.7 442.1 280.7 442.7 284 442.5C287.3 442.3 290.7 441.6 294 441C297.3 440.4 300.7 439.7 304 439C307.3 438.3 310.7 437.7 314 437C317.3 436.3 320.8 435.2 324 434.8C327.2 434.4 331.5 434.6 333 434.5M274 451C275.3 450.9 279.3 451.2 282 450.5C284.7 449.8 287.3 448.6 290 447C292.7 445.4 295.3 442.8 298 441C300.7 439.2 303.3 437.3 306 436C308.7 434.7 311.3 433.7 314 433C316.7 432.3 318.8 432.1 322 432C325.2 431.9 331.2 432.4 333 432.5M274 454C275.3 453.9 279.3 454.2 282 453.5C284.7 452.8 287.3 451.4 290 450C292.7 448.6 295.3 446.7 298 445C300.7 443.3 303.3 441.3 306 440C308.7 438.7 311 437.4 314 437C317 436.6 320.8 437.3 324 437.5C327.2 437.7 331.5 437.9 333 438M274 457C275.3 456.8 279.3 456.3 282 455.5C284.7 454.7 287.3 453.2 290 452C292.7 450.8 295.3 449.2 298 448C300.7 446.8 303.3 445.9 306 445C308.7 444.1 311 443.3 314 442.5C317 441.7 320.8 440.6 324 440C327.2 439.4 331.5 439.2 333 439M274 463.5C275.3 463.2 279.3 462.5 282 461.5C284.7 460.5 287.3 458.8 290 457.5C292.7 456.2 295.3 454.8 298 453.5C300.7 452.2 303.3 450.8 306 449.5C308.7 448.2 311 447.1 314 446C317 444.9 320.8 443.6 324 442.8C327.2 442.1 331.5 441.7 333 441.5M274 463.5C275.3 463 279.3 461.8 282 460.5C284.7 459.2 287.3 457.4 290 456C292.7 454.6 295.3 453.3 298 452C300.7 450.7 303.3 449.2 306 448C308.7 446.8 311 445.6 314 444.5C317 443.4 320.8 442.2 324 441.5C327.2 440.8 331.5 440.7 333 440.5M342 423.7C343.7 423.8 348.7 424.2 352 424.5C355.3 424.8 358.7 425.6 362 425.5C365.3 425.4 368.7 424.5 372 424C375.3 423.5 378.7 422.9 382 422.5C385.3 422.1 388.8 421.7 392 421.5C395.2 421.3 399.5 421.2 401 421.2M342 427C343.7 426.9 348.7 426.6 352 426.5C355.3 426.4 358.7 426.3 362 426.2C365.3 426.1 368.7 426.1 372 425.8C375.3 425.5 378.7 424.8 382 424.5C385.3 424.2 388.8 424 392 423.8C395.2 423.6 399.5 423.6 401 423.5M342 424C343.7 424.2 348.7 424.5 352 425C355.3 425.5 358.7 426.2 362 427C365.3 427.8 368.7 429 372 430C375.3 431 378.7 432.2 382 433C385.3 433.8 388.8 434.2 392 434.5C395.2 434.8 399.5 434.9 401 435M342 427C343.7 427.1 348.7 427.1 352 427.5C355.3 427.9 358.7 428.7 362 429.5C365.3 430.3 368.7 431.6 372 432.5C375.3 433.4 378.7 434.4 382 435C385.3 435.6 388.8 435.8 392 436C395.2 436.2 399.5 436.2 401 436.2M342 432C343.7 432 348.7 431.8 352 432C355.3 432.2 358.7 432.8 362 433.5C365.3 434.2 368.7 435.2 372 436C375.3 436.8 378.7 437.9 382 438.5C385.3 439.1 388.8 439.5 392 439.8C395.2 440.1 399.5 440.1 401 440.2M342 432.5C343.7 432.6 348.7 432.6 352 433C355.3 433.4 358.7 434.2 362 435C365.3 435.8 368.7 437 372 438C375.3 439 378.7 440.2 382 441C385.3 441.8 388.8 442.2 392 442.5C395.2 442.8 399.5 442.8 401 442.8M342 434.5C343.7 434.6 348.7 434.6 352 435C355.3 435.4 358.7 436.2 362 437C365.3 437.8 368.7 439 372 440C375.3 441 378.7 442.2 382 443C385.3 443.8 388.8 444.4 392 444.8C395.2 445.2 399.5 445.4 401 445.5M342 438C343.7 438.1 348.7 438.2 352 438.5C355.3 438.8 358.7 439.3 362 440C365.3 440.7 368.7 441.5 372 442.5C375.3 443.5 378.7 444.9 382 446C385.3 447.1 388.8 448.3 392 449C395.2 449.7 399.5 449.8 401 450M342 439C343.7 439.2 348.7 439.4 352 440C355.3 440.6 358.7 441.5 362 442.5C365.3 443.5 368.7 444.8 372 446C375.3 447.2 378.7 448.8 382 450C385.3 451.2 388.8 452.7 392 453.5C395.2 454.3 399.5 454.6 401 454.8M342 440.5C343.7 440.7 348.7 440.9 352 441.5C355.3 442.1 358.7 442.9 362 444C365.3 445.1 368.7 446.6 372 448C375.3 449.4 378.7 451.2 382 452.5C385.3 453.8 388.8 455.1 392 455.8C395.2 456.5 399.5 456.6 401 456.8M342 441.5C343.7 441.7 348.7 441.8 352 442.5C355.3 443.2 358.7 444.2 362 445.5C365.3 446.8 368.7 448.7 372 450.5C375.3 452.3 378.7 454.4 382 456.5C385.3 458.6 388.8 461 392 463C395.2 465 399.5 467.8 401 468.7M342 441.5C343.7 441.8 348.7 442.2 352 443C355.3 443.8 358.7 445 362 446.5C365.3 448 368.7 450.1 372 452C375.3 453.9 378.7 456 382 458C385.3 460 388.8 462.2 392 464C395.2 465.8 399.5 467.9 401 468.7M342 440.5C343.7 440.8 348.7 441.2 352 442C355.3 442.8 358.7 443.8 362 445C365.3 446.2 368.7 447.8 372 449.5C375.3 451.2 378.7 452.9 382 455C385.3 457.1 388.8 459.7 392 462C395.2 464.3 399.5 467.6 401 468.7M172.8 291.4L181.5 291.8M172.8 292.5L181.5 292.8M172.8 323.5L181.5 322M172.8 324.8L181.5 323.5M172.8 326L181.5 324.8M172.8 326L181.5 327M172.8 327.5L181.5 329M172.8 332.3L181.5 332M172.8 335.5L181.5 335M172.8 346.2L181.5 337.5M172.8 346.2L181.5 343M172.8 349.5L181.5 347M172.8 353L181.5 349.5M172.8 354.8L181.5 353M172.8 357.5L181.5 355M172.8 357.5L181.5 357.5M172.8 359.5L181.5 359.5M172.8 361.2L181.5 361.2M172.8 377L181.5 377M172.8 379L181.5 379M172.8 380.2L181.5 380.2M172.8 421.8L181.5 421.8M172.8 422.2L181.5 421.8M172.8 423.2L181.5 424M172.8 424L181.5 424M172.8 425.8L181.5 426M172.8 426.5L181.5 427M172.8 428.5L181.5 428.5M172.8 429.2L181.5 430M172.8 430L181.5 431M172.8 432L181.5 432M172.8 433.6L181.5 433.5M172.8 434.8L181.5 434.8M265 321L274 321M265 321.5L274 321.5M265 321.5L274 321.5M265 324.5L274 322.5M265 327L274 322.5M265 328L274 326M265 338.2L274 327.5M265 338.6L274 338.2M265 343L274 339M265 343.5L274 346M265 349L274 346M265 350.2L274 349.5M265 351.8L274 352M265 352L274 353M265 353L274 355M265 353.2L274 363M265 364.8L274 364.5M265 365.2L274 364.5M265 365.5L274 365.5M265 365.8L274 366M265 366.2L274 366.5M333 292.3L342 292.3M333 292.3L342 292.3M333 312.2L342 312M333 312.2L342 312M333 312.2L342 312.5M333 323.5L342 323.5M333 323.8L342 324.5M333 324.2L342 327M333 332.5L342 333M333 332.5L342 335M333 335L342 335M333 337L342 339M333 343.8L342 343M333 343.8L342 343M333 345L342 345.5M333 348L342 348M333 354L342 352M333 355.8L342 354.5M333 362L342 357M333 363L342 360M333 363.5L342 363M333 371.8L342 366M333 371.8L342 368M333 371.8L342 373.5M333 423.5L342 423.7M333 424L342 424M333 427L342 427M333 427L342 427M333 432L342 432M333 432L342 432.5M333 432.5L342 434.5M333 434.5L342 438M333 438L342 439M333 439L342 440.5M333 439L342 440.5M333 440.5L342 441.5M333 441.5L342 441.5" fill="none" stroke="#000" stroke-width="1.6" stroke-linejoin="round" stroke-linecap="round"/>
<line x1="172.5" y1="11.5" x2="172.5" y2="497.3" stroke="#000" stroke-width="1.9"/>
<line x1="181.2" y1="11.5" x2="181.2" y2="497.3" stroke="#000" stroke-width="1.9"/>
<line x1="265" y1="11.5" x2="265" y2="497.3" stroke="#000" stroke-width="1.9"/>
<line x1="274.3" y1="11.5" x2="274.3" y2="497.3" stroke="#000" stroke-width="1.9"/>
<line x1="333" y1="11.5" x2="333" y2="497.3" stroke="#000" stroke-width="1.9"/>
<line x1="342" y1="11.5" x2="342" y2="497.3" stroke="#000" stroke-width="1.9"/>
<line x1="89.5" y1="468.7" x2="405.5" y2="468.7" stroke="#d8202a" stroke-width="1.9" stroke-dasharray="8 8.2"/>
<line x1="420" y1="468.7" x2="581.3" y2="468.7" stroke="#d8202a" stroke-width="1.9" stroke-dasharray="8 8.2"/>
<clipPath id="cpa"><rect x="420.8" y="11.5" width="161.3" height="485.8"/></clipPath>
<g clip-path="url(#cpa)">
<path d="M419.7 47.5C419.9 48.1 419.9 49.8 420.8 51.2C421.6 52.7 422.6 54.6 425 56.2C427.4 57.9 430.8 59.8 435 61.2C439.2 62.7 445.5 63.9 450 65C454.5 66.1 461.2 67 462 68C462.8 69 458.7 70.3 455 71.2C451.3 72.2 444.2 72.9 440 73.8C435.8 74.6 432.8 75.2 430 76.2C427.2 77.3 424.7 78.6 423 80C421.3 81.4 420.2 83 419.7 84.5C419.1 86 418.8 87.2 419.7 88.8C420.6 90.3 422.4 92.3 425 93.8C427.6 95.2 430.4 96.2 435 97.5C439.6 98.8 447.3 100.1 452.5 101.2C457.7 102.4 465.8 103.5 466.2 104.5C466.7 105.5 459.8 106.6 455 107.5C450.2 108.4 442.3 109 437.5 110C432.7 111 428.8 112.5 426.2 113.8C423.7 115 423.1 116 422 117.5C420.9 119 420.1 120.4 419.7 122.5C419.3 124.6 419.7 115.4 419.7 130C419.7 144.6 419.5 195.4 419.7 210C419.9 224.6 419.9 215.4 420.8 217.5C421.6 219.6 422.6 221 425 222.5C427.4 224 430.8 225 435 226.2C439.2 227.5 446.4 228.9 450 230C453.6 231.1 457.2 232 456.8 233C456.3 234 451.5 235.1 447.5 236.2C443.5 237.4 436.2 238.8 432.5 240C428.8 241.2 426.9 242.3 425 243.8C423.1 245.2 421.9 247.1 421 248.8C420.1 250.4 419.9 249.4 419.7 253.8C419.5 258.1 419.7 271 419.7 275C419.7 279 419.3 276.9 419.7 278C420.1 279.1 420.7 280.5 422 281.8C423.3 283 425.1 284.2 427.5 285.5C429.9 286.8 434 288 436.2 289.2C438.5 290.5 440.8 291.8 441.2 293C441.7 294.2 440 295.3 438.8 296.8C437.5 298.2 434.7 300.1 433.8 301.8C432.8 303.4 432.4 305.3 433 306.8C433.6 308.2 434.7 309.2 437.5 310.5C440.3 311.8 444.6 313 450 314.2C455.4 315.5 463.3 316.8 470 318C476.7 319.2 484.8 320.5 490 321.8C495.2 323 499.2 324.2 501.2 325.5C503.2 326.8 502.2 328 502 329.2C501.8 330.5 499.7 331.8 500 333C500.3 334.2 501.7 335.3 503.8 336.8C505.8 338.2 509.4 340.1 512.5 341.8C515.6 343.4 520.2 345.5 522.5 346.8C524.8 348 526.2 348.4 526.2 349.2C526.2 350.1 526 350.7 522.5 351.8C519 352.8 511.2 354.2 505 355.5C498.8 356.8 490.8 357.8 485 359.2C479.2 360.7 474.2 362.6 470 364.2C465.8 365.9 464.2 367.6 460 369.2C455.8 370.9 450 372.6 445 374.2C440 375.9 433.5 377.8 430 379.2C426.5 380.7 425.2 381.6 423.8 383C422.2 384.4 421.7 385.8 421 387.5C420.3 389.2 419.9 389.6 419.7 393C419.5 396.4 419.5 404.9 419.7 408C419.9 411.1 420 410.7 420.8 411.8C421.5 412.8 421.8 413.4 424.2 414.2C426.7 415.1 429.5 415.9 435.5 416.8C441.5 417.6 451.8 418.4 460.5 419.2C469.2 420.1 477.5 420.7 488 421.8C498.5 422.8 513.2 424.2 523.8 425.5C534.3 426.8 544.5 428.2 551.2 429.2C558 430.3 561.6 431.1 564.5 431.8C567.4 432.4 568.8 432.7 568.8 433.2C568.8 433.8 568.2 434.3 564.5 435C560.8 435.7 554.3 436.6 546.2 437.5C538.2 438.4 526.9 439.4 516 440.5C505.1 441.6 490.8 443 480.8 444.2C470.7 445.5 462.5 446.8 455.8 448C449 449.2 444.7 450.5 440.5 451.8C436.3 453 433 454.2 430.5 455.5C428 456.8 426.5 458 425.2 459.2C424 460.5 423.5 461.5 422.8 463C422 464.5 421.3 467.6 421 468.5" fill="none" stroke="#000" stroke-width="2.8" stroke-linejoin="round"/>
<path d="M419.7 48.8C419.9 49.4 419.9 51 420.8 52.5C421.6 54 422.2 55.8 425 57.5C427.8 59.2 432.9 60.8 437.5 62.5C442.1 64.2 451.7 66 452.5 67.5C453.3 69 446.2 70 442.5 71.2C438.8 72.5 433.2 73.8 430 75C426.8 76.2 424.7 77.4 423 78.8C421.3 80.1 420.2 81.5 419.7 83C419.1 84.5 419.7 65.5 419.7 87.5C419.7 109.5 419.5 192.9 419.7 215C419.9 237.1 420.1 218.3 421 220C421.9 221.7 423.3 223.5 425 225C426.7 226.5 429.6 227.5 431.2 228.8C432.9 230 435 231.2 435 232.5C435 233.8 432.9 235 431.2 236.2C429.6 237.5 426.7 238.5 425 240C423.3 241.5 422.1 243.3 421.2 245C420.4 246.7 420 245 419.7 250C419.4 255 419.7 270.3 419.7 275C419.7 279.7 419.4 276.7 419.7 278C420 279.3 420 281.3 421.5 283C423 284.7 426.9 286.3 428.8 288C430.6 289.7 432.3 291.3 432.5 293C432.7 294.7 431 296.1 430 298C429 299.9 426.5 302.2 426.2 304.2C426 306.3 426.9 308.6 428.8 310.5C430.6 312.4 433.5 313.8 437.5 315.5C441.5 317.2 448.5 319 452.5 320.5C456.5 322 459.6 323.2 461.2 324.2C462.9 325.3 463.3 325.7 462.5 326.8C461.7 327.8 458.3 329 456.2 330.5C454.2 332 451.2 333.8 450 335.5C448.8 337.2 447.9 338.8 448.8 340.5C449.6 342.2 453.1 343.8 455 345.5C456.9 347.2 459.2 348.8 460 350.5C460.8 352.2 460.1 353.8 459.5 355.5C458.9 357.2 457.6 358.8 456.2 360.5C454.9 362.2 453.3 363.8 451.2 365.5C449.2 367.2 446.7 368.8 443.8 370.5C440.8 372.2 436.9 373.8 433.8 375.5C430.6 377.2 427.1 379 425 380.5C422.9 382 422.1 383.1 421.2 384.8C420.4 386.4 420 385.4 419.7 390.5C419.4 395.6 419.4 410.1 419.7 415.5C420 420.9 420.8 420.1 421.5 423C422.2 425.9 423.7 429.7 423.8 433C423.8 436.3 422.7 439.7 422 443C421.3 446.3 420.1 451.3 419.7 453" fill="none" stroke="#7dc242" stroke-width="2.6" stroke-linejoin="round"/>
<path d="M419.7 53.8C420 54.6 420.2 57.1 421.2 58.8C422.3 60.4 424.7 62.2 426.2 63.8C427.8 65.3 430.7 66.5 430.5 68C430.3 69.5 426.5 70.9 425 72.5C423.5 74.1 422.1 75.8 421.2 77.5C420.4 79.2 420 80.8 419.7 82.5C419.4 84.2 419.5 86 419.7 87.5C419.9 89 419.7 89.8 421 91.2C422.3 92.7 425.2 94.8 427.5 96.2C429.8 97.7 432.3 98.6 435 100C437.7 101.4 443.3 103.2 443.8 104.5C444.2 105.8 440.2 106.4 437.5 107.5C434.8 108.6 430 110 427.5 111.2C425 112.5 423.8 113.5 422.5 115C421.2 116.5 420.2 118.3 419.7 120C419.2 121.7 419.7 109.2 419.7 125C419.7 140.8 419.5 199.2 419.7 215C419.9 230.8 419.7 218.3 421 220C422.3 221.7 425 223.5 427.5 225C430 226.5 433.7 227.4 436.2 228.8C438.8 230.1 443.2 231.5 443 233C442.8 234.5 437.8 236.1 435 237.5C432.2 238.9 428.5 239.8 426.2 241.2C424 242.7 422.6 244.6 421.5 246.2C420.4 247.9 420 246.5 419.7 251.2C419.4 256 419.7 270.5 419.7 275C419.7 279.5 419.4 276.7 419.7 278C420 279.3 420.4 281.3 421.2 283C422.1 284.7 423.9 286.3 425 288C426.1 289.7 427.7 291.3 428 293C428.3 294.7 426.7 296.1 427 298C427.3 299.9 428.2 302.2 430 304.2C431.8 306.3 434.2 308.2 437.5 310.5C440.8 312.8 446 315.5 450 318C454 320.5 457.9 323 461.2 325.5C464.6 328 467.1 330.5 470 333C472.9 335.5 476.2 338.2 478.8 340.5C481.2 342.8 483.8 345.3 485 346.8C486.2 348.2 486.7 348.4 486.2 349.2C485.8 350.1 485.2 350.9 482.5 351.8C479.8 352.6 474.6 353.4 470 354.2C465.4 355.1 459.6 355.7 455 356.8C450.4 357.8 445.8 359 442.5 360.5C439.2 362 437.3 363.6 435 365.5C432.7 367.4 430.6 369.7 428.8 371.8C426.9 373.8 425 376 423.8 378C422.5 380 421.9 381.6 421.2 383.5C420.6 385.4 420 381 419.7 389.2C419.4 397.5 419.4 422.4 419.7 433C420 443.6 421.2 447.1 421.2 453C421.2 458.9 420 465.9 419.7 468.5" fill="none" stroke="#3a53c5" stroke-width="2.6" stroke-linejoin="round"/>
<path d="M419.7 320.5C420 322.6 420.5 327.6 421.2 333C422 338.4 423.9 347.2 424 353C424.1 358.8 422.7 363 422 368C421.3 373 420.1 376.3 419.7 383C419.3 389.7 419.5 403.2 419.7 408C419.9 412.8 420.1 410.7 420.8 411.8C421.4 412.8 421.4 413.4 423.8 414.2C426.1 415.1 429 415.9 435 416.8C441 417.6 451.2 418.4 460 419.2C468.8 420.1 477.1 420.7 487.5 421.8C497.9 422.8 512.1 424.2 522.5 425.5C532.9 426.8 543.3 428.2 550 429.2C556.7 430.3 559.8 431.1 562.5 431.8C565.2 432.4 566.2 432.7 566.2 433.2C566.2 433.8 566 434.3 562.5 435C559 435.7 552.9 436.6 545 437.5C537.1 438.4 525.8 439.4 515 440.5C504.2 441.6 490 443 480 444.2C470 445.5 461.7 446.8 455 448C448.3 449.2 444.2 450.5 440 451.8C435.8 453 432.5 454.2 430 455.5C427.5 456.8 426.2 458 425 459.2C423.8 460.5 423.2 461.5 422.5 463C421.8 464.5 421 467.6 420.8 468.5" fill="none" stroke="#e0202a" stroke-width="2.6" stroke-linejoin="round"/>
</g>
<line x1="90" y1="11.5" x2="90" y2="497.3" stroke="#000" stroke-width="1.9"/>
<line x1="401.5" y1="11.5" x2="401.5" y2="497.3" stroke="#000" stroke-width="1.9"/>
<line x1="82.5" y1="11.5" x2="409" y2="11.5" stroke="#000" stroke-width="1.9"/>
<line x1="85.5" y1="497.3" x2="406" y2="497.3" stroke="#000" stroke-width="1.9"/>
<line x1="420" y1="11.5" x2="420" y2="497.3" stroke="#000" stroke-width="1.9"/>
<line x1="581.3" y1="10.6" x2="581.3" y2="498.2" stroke="#000" stroke-width="1.9"/>
<line x1="412.5" y1="11.5" x2="581.3" y2="11.5" stroke="#000" stroke-width="1.9"/>
<line x1="415.5" y1="497.3" x2="581.3" y2="497.3" stroke="#000" stroke-width="1.9"/>
<line x1="82.5" y1="11.5" x2="90" y2="11.5" stroke="#000" stroke-width="1.9"/>
<line x1="401.5" y1="11.5" x2="409" y2="11.5" stroke="#000" stroke-width="1.9"/>
<line x1="412.5" y1="11.5" x2="420" y2="11.5" stroke="#000" stroke-width="1.9"/>
<text x="78.8" y="20.9" font-size="32" text-anchor="end">40</text>
<line x1="85.5" y1="40.1" x2="90" y2="40.1" stroke="#000" stroke-width="1.9"/>
<line x1="401.5" y1="40.1" x2="406" y2="40.1" stroke="#000" stroke-width="1.9"/>
<line x1="415.5" y1="40.1" x2="420" y2="40.1" stroke="#000" stroke-width="1.9"/>
<line x1="82.5" y1="68.7" x2="90" y2="68.7" stroke="#000" stroke-width="1.9"/>
<line x1="401.5" y1="68.7" x2="409" y2="68.7" stroke="#000" stroke-width="1.9"/>
<line x1="412.5" y1="68.7" x2="420" y2="68.7" stroke="#000" stroke-width="1.9"/>
<text x="78.8" y="78.1" font-size="32" text-anchor="end">35</text>
<line x1="85.5" y1="97.2" x2="90" y2="97.2" stroke="#000" stroke-width="1.9"/>
<line x1="401.5" y1="97.2" x2="406" y2="97.2" stroke="#000" stroke-width="1.9"/>
<line x1="415.5" y1="97.2" x2="420" y2="97.2" stroke="#000" stroke-width="1.9"/>
<line x1="82.5" y1="125.8" x2="90" y2="125.8" stroke="#000" stroke-width="1.9"/>
<line x1="401.5" y1="125.8" x2="409" y2="125.8" stroke="#000" stroke-width="1.9"/>
<line x1="412.5" y1="125.8" x2="420" y2="125.8" stroke="#000" stroke-width="1.9"/>
<text x="78.8" y="135.2" font-size="32" text-anchor="end">30</text>
<line x1="85.5" y1="154.4" x2="90" y2="154.4" stroke="#000" stroke-width="1.9"/>
<line x1="401.5" y1="154.4" x2="406" y2="154.4" stroke="#000" stroke-width="1.9"/>
<line x1="415.5" y1="154.4" x2="420" y2="154.4" stroke="#000" stroke-width="1.9"/>
<line x1="82.5" y1="183" x2="90" y2="183" stroke="#000" stroke-width="1.9"/>
<line x1="401.5" y1="183" x2="409" y2="183" stroke="#000" stroke-width="1.9"/>
<line x1="412.5" y1="183" x2="420" y2="183" stroke="#000" stroke-width="1.9"/>
<text x="78.8" y="192.4" font-size="32" text-anchor="end">25</text>
<line x1="85.5" y1="211.5" x2="90" y2="211.5" stroke="#000" stroke-width="1.9"/>
<line x1="401.5" y1="211.5" x2="406" y2="211.5" stroke="#000" stroke-width="1.9"/>
<line x1="415.5" y1="211.5" x2="420" y2="211.5" stroke="#000" stroke-width="1.9"/>
<line x1="82.5" y1="240.1" x2="90" y2="240.1" stroke="#000" stroke-width="1.9"/>
<line x1="401.5" y1="240.1" x2="409" y2="240.1" stroke="#000" stroke-width="1.9"/>
<line x1="412.5" y1="240.1" x2="420" y2="240.1" stroke="#000" stroke-width="1.9"/>
<text x="78.8" y="249.5" font-size="32" text-anchor="end">20</text>
<line x1="85.5" y1="268.7" x2="90" y2="268.7" stroke="#000" stroke-width="1.9"/>
<line x1="401.5" y1="268.7" x2="406" y2="268.7" stroke="#000" stroke-width="1.9"/>
<line x1="415.5" y1="268.7" x2="420" y2="268.7" stroke="#000" stroke-width="1.9"/>
<line x1="82.5" y1="297.3" x2="90" y2="297.3" stroke="#000" stroke-width="1.9"/>
<line x1="401.5" y1="297.3" x2="409" y2="297.3" stroke="#000" stroke-width="1.9"/>
<line x1="412.5" y1="297.3" x2="420" y2="297.3" stroke="#000" stroke-width="1.9"/>
<text x="78.8" y="306.7" font-size="32" text-anchor="end">15</text>
<line x1="85.5" y1="325.8" x2="90" y2="325.8" stroke="#000" stroke-width="1.9"/>
<line x1="401.5" y1="325.8" x2="406" y2="325.8" stroke="#000" stroke-width="1.9"/>
<line x1="415.5" y1="325.8" x2="420" y2="325.8" stroke="#000" stroke-width="1.9"/>
<line x1="82.5" y1="354.4" x2="90" y2="354.4" stroke="#000" stroke-width="1.9"/>
<line x1="401.5" y1="354.4" x2="409" y2="354.4" stroke="#000" stroke-width="1.9"/>
<line x1="412.5" y1="354.4" x2="420" y2="354.4" stroke="#000" stroke-width="1.9"/>
<text x="78.8" y="363.8" font-size="32" text-anchor="end">10</text>
<line x1="85.5" y1="383" x2="90" y2="383" stroke="#000" stroke-width="1.9"/>
<line x1="401.5" y1="383" x2="406" y2="383" stroke="#000" stroke-width="1.9"/>
<line x1="415.5" y1="383" x2="420" y2="383" stroke="#000" stroke-width="1.9"/>
<line x1="82.5" y1="411.6" x2="90" y2="411.6" stroke="#000" stroke-width="1.9"/>
<line x1="401.5" y1="411.6" x2="409" y2="411.6" stroke="#000" stroke-width="1.9"/>
<line x1="412.5" y1="411.6" x2="420" y2="411.6" stroke="#000" stroke-width="1.9"/>
<text x="78.8" y="421" font-size="32" text-anchor="end">5</text>
<line x1="85.5" y1="440.1" x2="90" y2="440.1" stroke="#000" stroke-width="1.9"/>
<line x1="401.5" y1="440.1" x2="406" y2="440.1" stroke="#000" stroke-width="1.9"/>
<line x1="415.5" y1="440.1" x2="420" y2="440.1" stroke="#000" stroke-width="1.9"/>
<line x1="82.5" y1="468.7" x2="90" y2="468.7" stroke="#000" stroke-width="1.9"/>
<line x1="401.5" y1="468.7" x2="409" y2="468.7" stroke="#000" stroke-width="1.9"/>
<line x1="412.5" y1="468.7" x2="420" y2="468.7" stroke="#000" stroke-width="1.9"/>
<text x="78.8" y="478.1" font-size="32" text-anchor="end">0</text>
<line x1="85.5" y1="497.3" x2="90" y2="497.3" stroke="#000" stroke-width="1.9"/>
<line x1="401.5" y1="497.3" x2="406" y2="497.3" stroke="#000" stroke-width="1.9"/>
<line x1="415.5" y1="497.3" x2="420" y2="497.3" stroke="#000" stroke-width="1.9"/>
<text x="420" y="528.3" font-size="32" text-anchor="middle">0</text>
<line x1="466.1" y1="497.3" x2="466.1" y2="489.8" stroke="#000" stroke-width="1.9"/>
<text x="466.1" y="528.3" font-size="32" text-anchor="middle">4</text>
<line x1="512.2" y1="497.3" x2="512.2" y2="489.8" stroke="#000" stroke-width="1.9"/>
<text x="512.2" y="528.3" font-size="32" text-anchor="middle">8</text>
<line x1="558.3" y1="497.3" x2="558.3" y2="489.8" stroke="#000" stroke-width="1.9"/>
<text x="558.3" y="528.3" font-size="32" text-anchor="middle">12</text>
<line x1="443" y1="497.3" x2="443" y2="492.8" stroke="#000" stroke-width="1.9"/>
<line x1="489.1" y1="497.3" x2="489.1" y2="492.8" stroke="#000" stroke-width="1.9"/>
<line x1="535.2" y1="497.3" x2="535.2" y2="492.8" stroke="#000" stroke-width="1.9"/>
<text x="91.7" y="528.3" font-size="32" text-anchor="middle">Z</text>
<text x="172.6" y="528.3" font-size="32" text-anchor="middle">A</text>
<text x="194" y="528.3" font-size="32" text-anchor="middle">M</text>
<text x="259.5" y="528.3" font-size="32" text-anchor="middle">Γ</text>
<text x="277.5" y="528.3" font-size="32" text-anchor="middle">Z</text>
<text x="328.5" y="528.3" font-size="32" text-anchor="middle">R</text>
<text x="350" y="528.3" font-size="32" text-anchor="middle">X</text>
<text x="401.5" y="528.3" font-size="32" text-anchor="middle">Z</text>
<text x="23.3" y="263.5" font-size="32.5" text-anchor="middle" transform="rotate(-90 23.3 263.5)">Frequency(THz)</text>
<text x="101" y="46" font-size="30.5" text-anchor="start">(a)</text>
<line x1="483.8" y1="94.2" x2="530.5" y2="94.2" stroke="#000" stroke-width="3.0"/>
<text x="536" y="100.7" font-size="19.5" text-anchor="start">Total</text>
<line x1="483.8" y1="118.8" x2="530.5" y2="118.8" stroke="#e0202a" stroke-width="2.6"/>
<text x="536" y="125.2" font-size="19.5" text-anchor="start">Th</text>
<line x1="483.8" y1="143.8" x2="530.5" y2="143.8" stroke="#7dc242" stroke-width="2.6"/>
<text x="536" y="150.2" font-size="19.5" text-anchor="start">B</text>
<line x1="483.8" y1="168.8" x2="530.5" y2="168.8" stroke="#3a53c5" stroke-width="2.6"/>
<text x="536" y="175.2" font-size="19.5" text-anchor="start">C</text>
<path d="M803 48.6C806.7 48.9 817.7 50.1 825 50.6C832.3 51.1 843 51.3 846.6 51.4M803 50.6C806.7 50.7 817.7 51.2 825 51.4C832.3 51.6 843 51.6 846.6 51.6M846.6 51.4C850.3 51.6 861.5 52.1 869 52.4C876.5 52.7 887.8 53.1 891.6 53.2M891.6 53.2C894.2 52.8 901.8 51.4 907 50.6C912.2 49.8 918.3 48.7 923 48.2C927.7 47.7 933.3 47.7 935.4 47.6M891.6 53.2C895.5 53.1 907.7 52.8 915 52.6C922.3 52.4 932 52.3 935.4 52.2M935.4 47.6C938.7 47.5 947.5 47.1 955 47C962.5 46.9 976.2 47.2 980.4 47.2M935.4 52.2C938 52.6 945.7 53.6 951 54.6C956.3 55.6 962.1 57.3 967 58C971.9 58.7 978.2 58.8 980.4 59M980.4 47.2C984.5 47.2 997.5 47 1005 47C1012.5 47 1022 47.2 1025.4 47.2M980.4 59C982.8 58.7 989.9 58.2 995 57.4C1000.1 56.6 1005.9 54.9 1011 54C1016.1 53.1 1023 52.5 1025.4 52.2M1025.4 47.2C1027.7 47.4 1034.1 47.5 1039 48.2C1043.9 48.9 1050 50.6 1055 51.4C1060 52.2 1066.7 52.7 1069 53M1025.4 52.2C1030.3 52.3 1047.7 52.8 1055 53C1062.3 53.2 1066.7 53.2 1069 53.2M803 115.6C805 115.7 811 115.6 815 116.2C819 116.8 823 117.9 827 119C831 120.1 835.7 121.9 839 123C842.3 124.1 845.3 125.2 846.6 125.6M803 139C805 138.9 811 139.3 815 138.6C819 137.9 823 136.6 827 135C831 133.4 835.7 130.5 839 129C842.3 127.5 845.3 126.3 846.6 125.8M846.6 125.6C850.3 125.8 861.5 126.5 869 127C876.5 127.5 887.8 128.3 891.6 128.6M891.6 128.6C893.5 127.7 899.1 124.8 903 123C906.9 121.2 911 119.3 915 118C919 116.7 923.6 115.6 927 115C930.4 114.4 934 114.5 935.4 114.4M891.6 128.6C893.5 129.3 899.1 131.7 903 133C906.9 134.3 911 135.7 915 136.6C919 137.5 923.6 138.1 927 138.6C930.4 139.1 934 139.3 935.4 139.4M935.4 114.4C938.7 114.4 947.5 114.4 955 114.6C962.5 114.8 976.2 115.3 980.4 115.4M935.4 139.4C938 139.6 945.7 140 951 140.6C956.3 141.2 962.1 142.4 967 143C971.9 143.6 978.2 143.8 980.4 144M980.4 115.4C984.5 115.3 997.5 114.8 1005 114.6C1012.5 114.4 1022 114.4 1025.4 114.4M980.4 144C982.8 143.8 989.9 143.5 995 143C1000.1 142.5 1005.9 141.6 1011 141C1016.1 140.4 1023 139.8 1025.4 139.6M1025.4 114.4C1027 114.5 1031.7 114.6 1035 115.2C1038.3 115.8 1041.7 116.8 1045 118C1048.3 119.2 1052 121.2 1055 122.6C1058 124 1060.7 125.5 1063 126.6C1065.3 127.7 1068 128.6 1069 129M1025.4 139.6C1027.7 139.4 1034.7 139.2 1039 138.6C1043.3 138 1047.3 137.1 1051 136C1054.7 134.9 1058 133.2 1061 132C1064 130.8 1067.7 129.5 1069 129M803 153C805 152.9 811 152.5 815 152.6C819 152.7 823 152.7 827 153.4C831 154.1 835.7 155.6 839 156.6C842.3 157.6 845.3 158.9 846.6 159.4M803 158C805 157.7 811.7 156.4 815 156C818.3 155.6 820.3 155.2 823 155.4C825.7 155.6 828.3 156.1 831 157C833.7 157.9 836.4 159.4 839 160.6C841.6 161.8 845.3 163.4 846.6 164M803 174.6C806 174.6 815.7 175.4 821 174.6C826.3 173.8 830.7 171.7 835 170C839.3 168.3 844.7 165.5 846.6 164.6M803 186.6C805 185.3 811 181.8 815 179C819 176.2 823 172.7 827 170C831 167.3 835.7 164.4 839 162.6C842.3 160.8 845.3 159.9 846.6 159.4M846.6 159.4C850.3 159.3 861.5 158.8 869 158.6C876.5 158.4 887.8 158.1 891.6 158M846.6 164.6C849.3 164.3 857.6 163.8 863 163C868.4 162.2 874.2 160.8 879 160C883.8 159.2 889.5 158.7 891.6 158.4M891.6 158C893.5 157.4 899.1 155.4 903 154.6C906.9 153.8 909.6 153.3 915 153C920.4 152.7 932 153 935.4 153M891.6 158C894.2 157.7 901.8 156.5 907 156.2C912.2 155.9 918.3 156 923 156.2C927.7 156.4 933.3 157.2 935.4 157.4M891.6 158.4C893.5 159 899.1 160.9 903 162C906.9 163.1 911 164 915 165C919 166 923.6 167.3 927 168C930.4 168.7 934 168.8 935.4 169M891.6 158.4C893.5 159.5 899.1 162.2 903 165C906.9 167.8 911 171.8 915 175C919 178.2 923.6 182 927 184C930.4 186 934 186.5 935.4 187M935.4 153C938.7 152.8 947.5 152.4 955 152C962.5 151.6 976.2 150.8 980.4 150.6M935.4 157.4C938.7 157.1 947.5 156 955 155.4C962.5 154.8 976.2 154.2 980.4 154M935.4 169C938.7 169.3 947.5 170.2 955 171C962.5 171.8 976.2 173.5 980.4 174M935.4 187C938.7 187.2 947.5 187.5 955 188C962.5 188.5 976.2 189.7 980.4 190M980.4 150.6C984.5 150.9 997.5 152.1 1005 152.6C1012.5 153.1 1022 153.3 1025.4 153.4M980.4 154C984.5 154.4 997.5 156 1005 156.6C1012.5 157.2 1022 157.3 1025.4 157.4M980.4 174C984.5 173.5 997.5 171.8 1005 171C1012.5 170.2 1022 169.3 1025.4 169M980.4 190C984.5 189.7 997.5 188.6 1005 188C1012.5 187.4 1022 186.8 1025.4 186.6M1025.4 153.4C1028.7 153.4 1039.7 153.1 1045 153.4C1050.3 153.7 1053 154.1 1057 155C1061 155.9 1067 158 1069 158.6M1025.4 157.4C1028.7 157.3 1037.7 156.4 1045 156.6C1052.3 156.8 1065 158.1 1069 158.4M1025.4 169C1028.3 168.5 1037.7 167.1 1043 166C1048.3 164.9 1052.7 163.8 1057 162.6C1061.3 161.4 1067 159.6 1069 159M1025.4 186.6C1027.7 185.3 1034.4 182.1 1039 179C1043.6 175.9 1049 170.8 1053 168C1057 165.2 1060.3 163.5 1063 162C1065.7 160.5 1068 159.5 1069 159M803 197C804.3 197.5 808 198.5 811 200C814 201.5 817 204.4 821 206C825 207.6 830.7 208.7 835 209.4C839.3 210.1 844.7 210.2 846.6 210.4M803 205.6C805 205.6 811 205.2 815 205.6C819 206 821.7 207.2 827 208C832.3 208.8 843.3 210 846.6 210.4M846.6 210.4C849.3 210.8 857.6 212 863 213C868.4 214 874.2 215.8 879 216.6C883.8 217.4 889.5 217.8 891.6 218M891.6 218C893.5 217.3 899.1 216 903 214C906.9 212 911 208.8 915 206C919 203.2 923.6 199 927 197C930.4 195 934 194.5 935.4 194M891.6 218C894.2 218.2 901.8 218.9 907 219.4C912.2 219.9 918.3 220.6 923 221C927.7 221.4 933.3 221.8 935.4 222M935.4 194C938.7 194.3 947.5 195.3 955 196C962.5 196.7 976.2 197.7 980.4 198M935.4 222C938 221.7 945.7 221.3 951 220C956.3 218.7 962.1 215.4 967 214C971.9 212.6 978.2 211.8 980.4 211.4M980.4 198C984.5 197.7 997.5 196.7 1005 196C1012.5 195.3 1022 194.3 1025.4 194M980.4 211.4C982.8 211.9 989.9 213.2 995 214.6C1000.1 216 1005.9 218.8 1011 220C1016.1 221.2 1023 221.7 1025.4 222M1025.4 194C1027 194.7 1031.4 195.8 1035 198C1038.6 200.2 1043 204.2 1047 207C1051 209.8 1055.3 212.8 1059 214.6C1062.7 216.4 1067.3 217.4 1069 218M1025.4 222C1028.3 221.8 1037.7 221.1 1043 220.6C1048.3 220.1 1052.7 219.4 1057 219C1061.3 218.6 1067 218.3 1069 218.2M1069 53C1072.8 53.2 1084.4 53.7 1092 54C1099.6 54.3 1110.7 54.8 1114.4 55M1069 129C1072.8 129.1 1084.4 129.1 1092 129.4C1099.6 129.7 1110.7 130.4 1114.4 130.6M1069 158C1072.8 158 1084.4 157.9 1092 158C1099.6 158.1 1110.7 158.5 1114.4 158.6M1069 159C1072.8 159.2 1084.4 159.6 1092 160C1099.6 160.4 1110.7 161.2 1114.4 161.4M1069 217.4C1071.5 217 1078.8 216.2 1084 215C1089.2 213.8 1094.9 211.2 1100 210C1105.1 208.8 1112 208.3 1114.4 208M802.8 240.2C804.5 240.2 809.6 240.2 813 240.3C816.4 240.4 819.7 240.7 823 241C826.3 241.3 829.1 241.8 833 242.2C836.9 242.6 844.1 243.3 846.3 243.5M802.8 242.5C804 242.7 807.5 243.1 810 243.8C812.5 244.6 815.3 245.7 818 247C820.7 248.3 823.3 250.1 826 251.5C828.7 252.9 831.7 254.4 834 255.5C836.3 256.6 838 257.2 840 257.8C842 258.4 845.2 258.8 846.3 259M802.8 252.5C804.5 252.1 809.6 250.8 813 250C816.4 249.2 819.7 248.3 823 247.5C826.3 246.7 830 245.6 833 245C836 244.4 838.8 244.1 841 243.8C843.2 243.6 845.4 243.6 846.3 243.5M802.8 252.8C804.5 252.8 809.6 252.2 813 252.5C816.4 252.8 819.7 253.7 823 254.5C826.3 255.3 829.1 256.5 833 257.5C836.9 258.5 844.1 260 846.3 260.5M802.8 254.5C804.5 254.6 809.6 254.7 813 255C816.4 255.3 819.7 255.9 823 256.5C826.3 257.1 829.1 257.8 833 258.5C836.9 259.2 844.1 260.4 846.3 260.8M802.8 268.8C804.5 268.5 809.6 267.6 813 267C816.4 266.4 819.7 265.7 823 265C826.3 264.3 829.1 263.7 833 263C836.9 262.3 844.1 261.2 846.3 260.8M802.8 271C804 271.2 807.5 271.2 810 272C812.5 272.8 815.3 274.4 818 276C820.7 277.6 823.3 279.8 826 281.5C828.7 283.2 831.7 285.3 834 286.5C836.3 287.7 838 288.3 840 288.8C842 289.3 845.2 289.4 846.3 289.5M802.8 276C804 276.2 807.5 276.3 810 277.2C812.5 278.1 815.3 279.9 818 281.5C820.7 283.1 823.3 285.6 826 287C828.7 288.4 831.7 289.4 834 290C836.3 290.6 838 290.6 840 290.8C842 291 845.2 291 846.3 291M802.8 280C804 280.2 807.5 280.3 810 281.5C812.5 282.7 815.3 285.2 818 287C820.7 288.8 823.7 290.9 826 292.2C828.3 293.5 830 294.4 832 295C834 295.6 836.3 295.6 838 295.5C839.7 295.4 840.6 294.9 842 294.5C843.4 294.1 845.6 293.4 846.3 293.2M802.8 297.5C804.5 297.2 809.6 296.6 813 296C816.4 295.4 819.7 294.8 823 294.2C826.3 293.6 829.1 293 833 292.5C836.9 292 844.1 291.2 846.3 291M802.8 300C804.5 300.1 809.6 300.6 813 300.8C816.4 301.1 819.7 301.3 823 301.5C826.3 301.7 829.1 301.8 833 301.8C836.9 301.9 844.1 301.8 846.3 301.8M802.8 310.5C804.5 310.3 809.6 310.1 813 309.5C816.4 308.9 819.7 307.9 823 307C826.3 306.1 829.1 304.9 833 304C836.9 303.1 844.1 302.2 846.3 301.8M802.8 326C804 325.8 807.5 325.5 810 324.5C812.5 323.5 815.3 321.8 818 320C820.7 318.2 823.7 315.5 826 314C828.3 312.5 830.3 311.6 832 311C833.7 310.4 834.7 310.4 836 310.5C837.3 310.6 838.3 310.6 840 311.5C841.7 312.4 845.2 315.2 846.3 316M802.8 342C804 341.8 807.5 341.5 810 340.5C812.5 339.5 815.3 337.8 818 336C820.7 334.2 823.3 332 826 330C828.7 328 831.7 325.8 834 324C836.3 322.2 838 320.8 840 319.5C842 318.2 845.2 316.6 846.3 316M846.3 243.5C848.2 243.6 854 243.8 858 244C862 244.2 866.2 244.8 870 245C873.8 245.2 877.5 245.4 881 245.5C884.5 245.6 889.6 245.8 891.3 245.8M846.3 259C848.2 258.9 854.4 258.4 858 258.2C861.6 258 864.7 257.9 868 258C871.3 258.1 875 258.7 878 259C881 259.3 883.8 259.8 886 260C888.2 260.2 890.4 260.2 891.3 260.3M846.3 260.8C847.9 260.8 852.7 260.7 856 261C859.3 261.3 862.7 262.2 866 262.8C869.3 263.4 872.7 264.3 876 264.8C879.3 265.3 883.5 265.8 886 266C888.5 266.2 890.4 266.2 891.3 266.2M846.3 289.5C847.6 289.4 851.4 289.3 854 288.8C856.6 288.3 859.3 287.6 862 286.5C864.7 285.4 867.3 283.5 870 282C872.7 280.5 875.5 278.7 878 277.5C880.5 276.3 882.8 275.4 885 274.8C887.2 274.2 890.2 274.1 891.3 274M846.3 293.2C847.2 293.2 850 293.7 852 293.5C854 293.3 855.7 292.8 858 292C860.3 291.2 863.3 289.9 866 289C868.7 288.1 871.2 287.2 874 286.5C876.8 285.8 880.1 285.3 883 285C885.9 284.7 889.9 284.6 891.3 284.5M846.3 301.8C848.2 301.8 854 301.9 858 301.8C862 301.8 866.2 301.6 870 301.5C873.8 301.4 877.5 301.2 881 301C884.5 300.8 889.6 300.6 891.3 300.5M846.3 316C847.6 315.9 851.4 315.8 854 315.5C856.6 315.2 859.3 314.4 862 314C864.7 313.6 866.8 313.3 870 313C873.2 312.7 877.5 312.4 881 312.2C884.5 312 889.6 312 891.3 312M891.3 245.8C893.2 245.8 899.4 245.9 903 246C906.6 246.1 909.8 246.2 913 246.5C916.2 246.8 919.2 247.1 922 247.5C924.8 247.9 927.8 248.7 930 249C932.2 249.3 934.2 249.4 935 249.5M1025 249.5C1025.8 249.4 1027.8 249.3 1030 249C1032.2 248.7 1035.2 247.9 1038 247.5C1040.8 247.1 1043.8 246.8 1047 246.5C1050.2 246.2 1053.4 246.1 1057 246C1060.6 245.9 1066.8 245.8 1068.7 245.8M891.3 260.3C892.4 260.2 895.5 260.2 898 259.5C900.5 258.8 903.3 257.5 906 256C908.7 254.5 911.7 252.2 914 250.5C916.3 248.8 918 247.4 920 246C922 244.6 924.2 242.9 926 242C927.8 241.1 929.5 240.8 931 240.5C932.5 240.2 934.3 240.3 935 240.3M1025 240.3C1025.7 240.3 1027.5 240.2 1029 240.5C1030.5 240.8 1032.2 241.1 1034 242C1035.8 242.9 1038 244.6 1040 246C1042 247.4 1043.7 248.8 1046 250.5C1048.3 252.2 1051.3 254.5 1054 256C1056.7 257.5 1059.5 258.8 1062 259.5C1064.5 260.2 1067.6 260.2 1068.7 260.3M891.3 260.3C892.4 260.2 895.9 260.2 898 259.7C900.1 259.2 902 257.9 904 257.2C906 256.4 907.7 255.6 910 255.2C912.3 254.8 915 254.6 918 254.5C921 254.4 925.2 254.7 928 254.8C930.8 254.9 933.8 255 935 255M1025 255C1026.2 255 1029.2 254.9 1032 254.8C1034.8 254.7 1039 254.4 1042 254.5C1045 254.6 1047.7 254.8 1050 255.2C1052.3 255.6 1054 256.4 1056 257.2C1058 257.9 1059.9 259.2 1062 259.7C1064.1 260.2 1067.6 260.2 1068.7 260.3M891.3 266C892.8 266 897.2 266.1 900 266C902.8 265.9 905 265.8 908 265.5C911 265.2 914.7 264.4 918 264C921.3 263.6 925.2 263.1 928 262.8C930.8 262.6 933.8 262.6 935 262.5M1025 262.5C1026.2 262.6 1029.2 262.6 1032 262.8C1034.8 263.1 1038.7 263.6 1042 264C1045.3 264.4 1049 265.2 1052 265.5C1055 265.8 1057.2 265.9 1060 266C1062.8 266.1 1067.2 266 1068.7 266M891.3 266C892.8 266.1 897.2 266.3 900 266.8C902.8 267.3 905.3 268.1 908 268.8C910.7 269.5 913.3 270.3 916 271.2C918.7 272.1 921.5 273.4 924 274.2C926.5 275 929.2 275.8 931 276.2C932.8 276.6 934.3 276.7 935 276.8M1025 276.8C1025.7 276.7 1027.2 276.6 1029 276.2C1030.8 275.8 1033.5 275 1036 274.2C1038.5 273.4 1041.3 272.1 1044 271.2C1046.7 270.3 1049.3 269.5 1052 268.8C1054.7 268.1 1057.2 267.3 1060 266.8C1062.8 266.3 1067.2 266.1 1068.7 266M891.3 274C892.8 273.8 897.2 273.4 900 273C902.8 272.6 905.3 272.1 908 271.5C910.7 270.9 913.3 270.2 916 269.5C918.7 268.8 921.5 268.1 924 267.5C926.5 266.9 929.2 266.3 931 266C932.8 265.7 934.3 265.6 935 265.5M1025 265.5C1025.7 265.6 1027.2 265.7 1029 266C1030.8 266.3 1033.5 266.9 1036 267.5C1038.5 268.1 1041.3 268.8 1044 269.5C1046.7 270.2 1049.3 270.9 1052 271.5C1054.7 272.1 1057.2 272.6 1060 273C1062.8 273.4 1067.2 273.8 1068.7 274M891.3 274C892.4 274.3 895.5 274.8 898 276C900.5 277.2 903.3 279.2 906 281C908.7 282.8 911.3 285 914 287C916.7 289 919.3 291.2 922 293C924.7 294.8 927.8 296.8 930 298C932.2 299.2 934.2 299.7 935 300M1025 300C1025.8 299.7 1027.8 299.2 1030 298C1032.2 296.8 1035.3 294.8 1038 293C1040.7 291.2 1043.3 289 1046 287C1048.7 285 1051.3 282.8 1054 281C1056.7 279.2 1059.5 277.2 1062 276C1064.5 274.8 1067.6 274.3 1068.7 274M891.3 285C892.8 284.8 897.2 284.7 900 284C902.8 283.3 905.3 281.9 908 281C910.7 280.1 913.3 279.3 916 278.8C918.7 278.3 920.8 278.1 924 277.8C927.2 277.5 933.2 277.3 935 277.2M1025 277.2C1026.8 277.3 1032.8 277.5 1036 277.8C1039.2 278.1 1041.3 278.3 1044 278.8C1046.7 279.3 1049.3 280.1 1052 281C1054.7 281.9 1057.2 283.3 1060 284C1062.8 284.7 1067.2 284.8 1068.7 285M891.3 300.5C892.4 300.8 895.2 301.8 898 302.5C900.8 303.2 905 304.5 908 305C911 305.5 913.3 305.8 916 305.5C918.7 305.2 921.7 304.2 924 303.5C926.3 302.8 928.2 301.6 930 301C931.8 300.4 934.2 300.2 935 300M1025 300C1025.8 300.2 1028.2 300.4 1030 301C1031.8 301.6 1033.7 302.8 1036 303.5C1038.3 304.2 1041.3 305.2 1044 305.5C1046.7 305.8 1049 305.5 1052 305C1055 304.5 1059.2 303.2 1062 302.5C1064.8 301.8 1067.6 300.8 1068.7 300.5M891.3 300C893.2 299.9 898.5 299.4 903 299.5C907.5 299.6 912.7 300.3 918 300.5C923.3 300.7 932.2 300.5 935 300.5M1025 300.5C1027.8 300.5 1036.7 300.7 1042 300.5C1047.3 300.3 1052.5 299.6 1057 299.5C1061.5 299.4 1066.8 299.9 1068.7 300M891.3 312C892.4 312 895.9 311.9 898 312.2C900.1 312.5 901.7 313 904 314C906.3 315 909.3 316.8 912 318C914.7 319.2 917.3 320.6 920 321.5C922.7 322.4 925.5 323.1 928 323.5C930.5 323.9 933.8 323.9 935 324M1025 324C1026.2 323.9 1029.5 323.9 1032 323.5C1034.5 323.1 1037.3 322.4 1040 321.5C1042.7 320.6 1045.3 319.2 1048 318C1050.7 316.8 1053.7 315 1056 314C1058.3 313 1059.9 312.5 1062 312.2C1064.1 311.9 1067.6 312 1068.7 312M891.3 312.5C892.4 312.6 895.9 312.8 898 313.2C900.1 313.6 901.7 314.3 904 315.2C906.3 316.1 909.3 317.8 912 318.8C914.7 319.8 917.3 320.6 920 321C922.7 321.4 925.5 321.4 928 321.5C930.5 321.6 933.8 321.5 935 321.5M1025 321.5C1026.2 321.5 1029.5 321.6 1032 321.5C1034.5 321.4 1037.3 321.4 1040 321C1042.7 320.6 1045.3 319.8 1048 318.8C1050.7 317.8 1053.7 316.1 1056 315.2C1058.3 314.3 1059.9 313.6 1062 313.2C1064.1 312.8 1067.6 312.6 1068.7 312.5M935 240.3C936.5 240.3 941 240.3 944 240.5C947 240.7 949.8 240.9 953 241.2C956.2 241.4 959.7 241.9 963 242C966.3 242.1 970.2 241.9 973 241.8C975.8 241.7 978.8 241.6 980 241.5M980 241.5C981.2 241.6 984.2 241.7 987 241.8C989.8 241.9 993.7 242.1 997 242C1000.3 241.9 1003.8 241.4 1007 241.2C1010.2 240.9 1013 240.7 1016 240.5C1019 240.3 1023.5 240.3 1025 240.3M935 265.5C935.8 265.3 938.2 265.2 940 264.5C941.8 263.8 943.7 262.7 946 261C948.3 259.3 951.3 256.7 954 254.5C956.7 252.3 959.3 249.8 962 248C964.7 246.2 967 245 970 244C973 243 978.3 242.5 980 242.2M980 242.2C981.7 242.5 987 243 990 244C993 245 995.3 246.2 998 248C1000.7 249.8 1003.3 252.3 1006 254.5C1008.7 256.7 1011.7 259.3 1014 261C1016.3 262.7 1018.2 263.8 1020 264.5C1021.8 265.2 1024.2 265.3 1025 265.5M935 246C937.2 246.2 944.2 246.9 948 247.5C951.8 248.1 954.7 248.9 958 249.5C961.3 250.1 964.3 250.5 968 251C971.7 251.5 978 252.2 980 252.5M980 252.5C982 252.2 988.3 251.5 992 251C995.7 250.5 998.7 250.1 1002 249.5C1005.3 248.9 1008.2 248.1 1012 247.5C1015.8 246.9 1022.8 246.2 1025 246M935 249.5C937.2 249.4 943.8 249.2 948 249C952.2 248.8 956.3 248.6 960 248.5C963.7 248.4 966.7 248.2 970 248.2C973.3 248.2 978.3 248.4 980 248.5M980 248.5C981.7 248.4 986.7 248.2 990 248.2C993.3 248.2 996.3 248.4 1000 248.5C1003.7 248.6 1007.8 248.8 1012 249C1016.2 249.2 1022.8 249.4 1025 249.5M935 255C936.5 255 940.8 254.9 944 255C947.2 255.1 950.7 255.2 954 255.5C957.3 255.8 960.8 256.2 964 256.5C967.2 256.8 970.3 257.1 973 257.2C975.7 257.3 978.8 257.2 980 257.2M980 257.2C981.2 257.2 984.3 257.3 987 257.2C989.7 257.1 992.8 256.8 996 256.5C999.2 256.2 1002.7 255.8 1006 255.5C1009.3 255.2 1012.8 255.1 1016 255C1019.2 254.9 1023.5 255 1025 255M935 262.5C935.8 262.7 938.2 262.8 940 263.5C941.8 264.2 944 265.8 946 267C948 268.2 950 269.7 952 271C954 272.3 956 273.8 958 275C960 276.2 961.7 277 964 278C966.3 279 969.3 280.3 972 281C974.7 281.7 978.7 282 980 282.2M980 282.2C981.3 282 985.3 281.7 988 281C990.7 280.3 993.7 279 996 278C998.3 277 1000 276.2 1002 275C1004 273.8 1006 272.3 1008 271C1010 269.7 1012 268.2 1014 267C1016 265.8 1018.2 264.2 1020 263.5C1021.8 262.8 1024.2 262.7 1025 262.5M935 276.8C936.5 276.8 941 276.7 944 276.5C947 276.3 950 275.9 953 275.5C956 275.1 959 274.6 962 274C965 273.4 968 272.6 971 272.2C974 271.8 978.5 271.6 980 271.5M980 271.5C981.5 271.6 986 271.8 989 272.2C992 272.6 995 273.4 998 274C1001 274.6 1004 275.1 1007 275.5C1010 275.9 1013 276.3 1016 276.5C1019 276.7 1023.5 276.8 1025 276.8M935 277.2C936.5 277.2 940.8 277.2 944 277.5C947.2 277.8 950.7 278.3 954 279C957.3 279.7 960.8 280.7 964 281.5C967.2 282.3 970.3 283.5 973 284C975.7 284.5 978.8 284.4 980 284.5M980 284.5C981.2 284.4 984.3 284.5 987 284C989.7 283.5 992.8 282.3 996 281.5C999.2 280.7 1002.7 279.7 1006 279C1009.3 278.3 1012.8 277.8 1016 277.5C1019.2 277.2 1023.5 277.2 1025 277.2M935 277C937.2 277 944.2 277 948 277.2C951.8 277.4 954.7 278 958 278C961.3 278 964.3 277.7 968 277.2C971.7 276.7 978 275.4 980 275M980 275C982 275.4 988.3 276.7 992 277.2C995.7 277.7 998.7 278 1002 278C1005.3 278 1008.2 277.4 1012 277.2C1015.8 277 1022.8 277 1025 277M935 300C936.5 299.8 940.8 299.6 944 299C947.2 298.4 950.7 297.3 954 296.5C957.3 295.7 960.8 294.8 964 294C967.2 293.2 970.3 292.4 973 292C975.7 291.6 978.8 291.4 980 291.3M980 291.3C981.2 291.4 984.3 291.6 987 292C989.7 292.4 992.8 293.2 996 294C999.2 294.8 1002.7 295.7 1006 296.5C1009.3 297.3 1012.8 298.4 1016 299C1019.2 299.6 1023.5 299.8 1025 300M935 300.5C937.2 300.4 943.2 300.3 948 300.2C952.8 300.1 958.7 300 964 300C969.3 300 977.3 300 980 300M980 300C982.7 300 990.7 300 996 300C1001.3 300 1007.2 300.1 1012 300.2C1016.8 300.3 1022.8 300.4 1025 300.5M935 300.5C936.2 300.8 939.5 301.2 942 302C944.5 302.8 947.3 304.3 950 305C952.7 305.7 955 306 958 306.2C961 306.4 964.3 306.2 968 306.2C971.7 306.2 978 306 980 306M980 306C982 306 988.3 306.2 992 306.2C995.7 306.2 999 306.4 1002 306.2C1005 306 1007.3 305.7 1010 305C1012.7 304.3 1015.5 302.8 1018 302C1020.5 301.2 1023.8 300.8 1025 300.5M935 321.5C936.2 321.5 939.5 321.6 942 321.5C944.5 321.4 947 321.2 950 321C953 320.8 956.7 320.2 960 320C963.3 319.8 966.7 319.6 970 319.5C973.3 319.4 978.3 319.5 980 319.5M980 319.5C981.7 319.5 986.7 319.4 990 319.5C993.3 319.6 996.7 319.8 1000 320C1003.3 320.2 1007 320.8 1010 321C1013 321.2 1015.5 321.4 1018 321.5C1020.5 321.6 1023.8 321.5 1025 321.5M935 324C936.2 323.9 939.5 323.8 942 323.5C944.5 323.2 947.3 322.2 950 322.5C952.7 322.8 955.3 324 958 325C960.7 326 963.3 327.5 966 328.5C968.7 329.5 971.7 330.6 974 331.2C976.3 331.8 979 331.9 980 332M980 332C981 331.9 983.7 331.8 986 331.2C988.3 330.6 991.3 329.5 994 328.5C996.7 327.5 999.3 326 1002 325C1004.7 324 1007.3 322.8 1010 322.5C1012.7 322.2 1015.5 323.2 1018 323.5C1020.5 323.8 1023.8 323.9 1025 324M1069 245.8C1070 245.7 1072.3 245.1 1075 245.2C1077.7 245.3 1081.5 246 1085 246.5C1088.5 247 1091.2 247.8 1096 248.2C1100.8 248.6 1111 248.7 1114 248.8M1069 260.3C1070.5 260.2 1074.8 260 1078 259.5C1081.2 259 1084.7 257.9 1088 257.2C1091.3 256.4 1095 255.5 1098 255C1101 254.5 1103.3 254.4 1106 254.2C1108.7 254 1112.7 254 1114 254M1069 266C1070.5 265.8 1074.8 265.4 1078 265C1081.2 264.6 1084.7 263.9 1088 263.5C1091.3 263.1 1093.7 262.9 1098 262.8C1102.3 262.7 1111.3 262.8 1114 262.8M1069 274C1069.8 274.1 1072.2 273.8 1074 274.5C1075.8 275.2 1078 276.8 1080 278C1082 279.2 1084 280.8 1086 282C1088 283.2 1089.7 284.3 1092 285.5C1094.3 286.7 1097.3 288.2 1100 289C1102.7 289.8 1105.7 290.2 1108 290.5C1110.3 290.8 1113 290.9 1114 291M1069 284.5C1070.8 284.4 1076.5 284 1080 283.8C1083.5 283.6 1086.7 283.6 1090 283.5C1093.3 283.4 1096 283.5 1100 283.5C1104 283.5 1111.7 283.5 1114 283.5M1069 300.5C1070.5 300.4 1074.8 300.4 1078 300C1081.2 299.6 1084.7 298.7 1088 298.2C1091.3 297.7 1093.7 297.2 1098 296.8C1102.3 296.4 1111.3 296 1114 295.8M1069 312.2C1070.5 312.1 1074.8 311.9 1078 311.8C1081.2 311.7 1084.7 311.5 1088 311.5C1091.3 311.5 1095 311.6 1098 311.8C1101 312 1103.3 312.3 1106 312.5C1108.7 312.7 1112.7 313.1 1114 313.2M802.8 383C804 383.1 807.5 383 810 383.5C812.5 384 815.3 384.9 818 386C820.7 387.1 823.3 388.6 826 390C828.7 391.4 831.7 393.1 834 394.5C836.3 395.9 838 397.2 840 398.5C842 399.8 845.2 401.6 846.3 402.2M802.8 394.8C804.5 394.8 809.6 394.9 813 394.8C816.4 394.8 819.7 394.5 823 394.5C826.3 394.5 829.1 394.5 833 394.8C836.9 395.1 844.1 396 846.3 396.2M802.8 400C804.5 400 809.6 400.3 813 400C816.4 399.7 819.7 398.8 823 398.2C826.3 397.6 829.1 396.8 833 396.5C836.9 396.2 844.1 396.2 846.3 396.2M802.8 401.5C804.5 401.4 809.6 401.1 813 401.2C816.4 401.3 819.7 401.8 823 402.2C826.3 402.6 829.1 403.1 833 403.5C836.9 403.9 844.1 404.3 846.3 404.5M802.8 404C804.5 403.9 809.6 403.5 813 403.5C816.4 403.5 819.7 403.8 823 404C826.3 404.2 829.1 404.3 833 404.5C836.9 404.7 844.1 404.9 846.3 405M802.8 405.5C804.5 405.7 809.6 406.1 813 406.5C816.4 406.9 819.7 407.5 823 407.8C826.3 408.1 830.2 408.6 833 408.5C835.8 408.4 837.8 407.8 840 407C842.2 406.2 845.2 404.1 846.3 403.5M802.8 408.5C804.5 408.7 809.6 409.1 813 409.5C816.4 409.9 820.2 410.7 823 411C825.8 411.3 828 411.7 830 411.5C832 411.3 833.2 410.3 835 410C836.8 409.7 839.1 409.5 841 409.5C842.9 409.5 845.4 409.9 846.3 410M802.8 412.5C804.5 412.8 809.6 413.5 813 414C816.4 414.5 820.2 415.2 823 415.5C825.8 415.8 828.2 415.8 830 415.5C831.8 415.2 832.7 414.4 834 413.5C835.3 412.6 836.5 411.2 838 410C839.5 408.8 841.6 407.1 843 406C844.4 404.9 845.8 403.9 846.3 403.5M802.8 422C804.5 422 809.6 421.9 813 422C816.4 422.1 820 422.2 823 422.5C826 422.8 828.5 423.1 831 423.5C833.5 423.9 835.5 424.5 838 424.8C840.5 425.1 844.9 425.1 846.3 425.2M802.8 459.8C803.7 458 806.1 452.6 808 449C809.9 445.4 812 441.3 814 438C816 434.7 818 431.7 820 429C822 426.3 824.2 423.6 826 422C827.8 420.4 829.3 420 831 419.5C832.7 419 834.3 418.9 836 419.2C837.7 419.4 839.3 420.2 841 421C842.7 421.8 845.4 423.5 846.3 424M802.8 459.8C803.7 458.7 806.1 455.3 808 453C809.9 450.7 812 448.2 814 446C816 443.8 818 441.8 820 440C822 438.2 824 436.5 826 435C828 433.5 830 432.2 832 431C834 429.8 835.6 428.8 838 427.8C840.4 426.8 844.9 425.3 846.3 424.8M802.8 459.8C803.7 458.8 806.1 455.6 808 453.5C809.9 451.4 812 449.1 814 447C816 444.9 818 443 820 441.2C822 439.4 824 437.7 826 436.2C828 434.7 830 433.2 832 432C834 430.8 835.6 429.9 838 428.8C840.4 427.7 844.9 426.1 846.3 425.5M846.3 396.2C848.2 396.2 854 395.9 858 396C862 396.1 866.2 396.5 870 396.8C873.8 397.1 877.5 397.5 881 397.8C884.5 398.1 889.6 398.4 891.3 398.5M846.3 402.2C848.2 402.1 854.4 402.1 858 401.8C861.6 401.5 864.7 401 868 400.5C871.3 400 874.1 399.3 878 399C881.9 398.7 889.1 398.6 891.3 398.5M846.3 404.5C848.2 404.5 854 404.5 858 404.5C862 404.5 864.5 404.5 870 404.5C875.5 404.5 887.8 404.5 891.3 404.5M846.3 405C848.2 405 854 405.2 858 405.2C862 405.2 864.5 405.2 870 405.2C875.5 405.2 887.8 405 891.3 405M846.3 410C848.2 410 854.4 410 858 410.2C861.6 410.4 864.7 410.7 868 411C871.3 411.3 874.1 411.8 878 412C881.9 412.2 889.1 412.4 891.3 412.5M846.3 424C847.9 423.9 852.7 423.8 856 423.5C859.3 423.2 862.7 422.5 866 422C869.3 421.5 872.7 420.9 876 420.5C879.3 420.1 883.5 420 886 419.8C888.5 419.6 890.4 419.6 891.3 419.5M846.3 425.2C847.9 425.2 852.7 425.6 856 425.5C859.3 425.4 862.7 425.1 866 424.8C869.3 424.6 872.7 424.2 876 424C879.3 423.8 883.5 423.6 886 423.5C888.5 423.4 890.4 423.5 891.3 423.5M846.3 425.5C848.2 425.6 854.4 426 858 426C861.6 426 864.7 425.7 868 425.5C871.3 425.3 874.1 425 878 424.8C881.9 424.6 889.1 424.6 891.3 424.5M891.3 398.5C892.8 397.8 896.9 395.3 900 394C903.1 392.7 906.7 391.4 910 390.5C913.3 389.6 917 388.9 920 388.5C923 388.1 925.5 387.9 928 387.8C930.5 387.7 933.8 387.8 935 387.8M1025 387.8C1026.2 387.8 1029.5 387.7 1032 387.8C1034.5 387.9 1037 388.1 1040 388.5C1043 388.9 1046.7 389.6 1050 390.5C1053.3 391.4 1056.9 392.7 1060 394C1063.1 395.3 1067.2 397.8 1068.7 398.5M891.3 398.5C892.8 398.7 896.9 399.2 900 399.5C903.1 399.8 906.7 399.9 910 400C913.3 400.1 915.8 399.8 920 399.8C924.2 399.8 932.5 399.8 935 399.8M1025 399.8C1027.5 399.8 1035.8 399.8 1040 399.8C1044.2 399.8 1046.7 400.1 1050 400C1053.3 399.9 1056.9 399.8 1060 399.5C1063.1 399.2 1067.2 398.7 1068.7 398.5M891.3 398.5C892.8 398.8 897.2 399.7 900 400.5C902.8 401.3 905.3 402.4 908 403.5C910.7 404.6 913.3 405.9 916 407C918.7 408.1 921.7 409.2 924 410C926.3 410.8 928.2 411.2 930 411.5C931.8 411.8 934.2 411.8 935 411.8M1025 411.8C1025.8 411.8 1028.2 411.8 1030 411.5C1031.8 411.2 1033.7 410.8 1036 410C1038.3 409.2 1041.3 408.1 1044 407C1046.7 405.9 1049.3 404.6 1052 403.5C1054.7 402.4 1057.2 401.3 1060 400.5C1062.8 399.7 1067.2 398.8 1068.7 398.5M891.3 404.5C893.2 404.3 898.5 403.8 903 403.5C907.5 403.2 912.7 403 918 403C923.3 403 932.2 403.4 935 403.5M1025 403.5C1027.8 403.4 1036.7 403 1042 403C1047.3 403 1052.5 403.2 1057 403.5C1061.5 403.8 1066.8 404.3 1068.7 404.5M891.3 405C893.2 405 898.5 404.9 903 405C907.5 405.1 912.7 405.5 918 405.5C923.3 405.5 932.2 405.1 935 405M1025 405C1027.8 405.1 1036.7 405.5 1042 405.5C1047.3 405.5 1052.5 405.1 1057 405C1061.5 404.9 1066.8 405 1068.7 405M891.3 405C892.8 405.2 897.2 405.5 900 406C902.8 406.5 905.3 407.2 908 408C910.7 408.8 913.3 409.8 916 410.5C918.7 411.2 920.8 412.1 924 412.5C927.2 412.9 933.2 412.9 935 413M1025 413C1026.8 412.9 1032.8 412.9 1036 412.5C1039.2 412.1 1041.3 411.2 1044 410.5C1046.7 409.8 1049.3 408.8 1052 408C1054.7 407.2 1057.2 406.5 1060 406C1062.8 405.5 1067.2 405.2 1068.7 405M891.3 412.5C892.8 412.4 897.5 411.8 900 412C902.5 412.2 903.7 412.7 906 413.5C908.3 414.3 911.3 416.1 914 417C916.7 417.9 919.3 418.5 922 419C924.7 419.5 927.8 419.8 930 420C932.2 420.2 934.2 420.4 935 420.5M1025 420.5C1025.8 420.4 1027.8 420.2 1030 420C1032.2 419.8 1035.3 419.5 1038 419C1040.7 418.5 1043.3 417.9 1046 417C1048.7 416.1 1051.7 414.3 1054 413.5C1056.3 412.7 1057.5 412.2 1060 412C1062.5 411.8 1067.2 412.4 1068.7 412.5M891.3 413C892.8 413 897.5 412.9 900 413.2C902.5 413.5 903.7 414.1 906 415C908.3 415.9 911.3 417.6 914 418.5C916.7 419.4 919.3 420 922 420.5C924.7 421 927.8 421.2 930 421.5C932.2 421.8 934.2 421.9 935 422M1025 422C1025.8 421.9 1027.8 421.8 1030 421.5C1032.2 421.2 1035.3 421 1038 420.5C1040.7 420 1043.3 419.4 1046 418.5C1048.7 417.6 1051.7 415.9 1054 415C1056.3 414.1 1057.5 413.5 1060 413.2C1062.5 412.9 1067.2 413 1068.7 413M891.3 419.5C892.8 419.3 897.2 418.6 900 418.5C902.8 418.4 905.3 418.8 908 419C910.7 419.2 913.3 419.6 916 420C918.7 420.4 920.8 421 924 421.5C927.2 422 933.2 422.8 935 423M1025 423C1026.8 422.8 1032.8 422 1036 421.5C1039.2 421 1041.3 420.4 1044 420C1046.7 419.6 1049.3 419.2 1052 419C1054.7 418.8 1057.2 418.4 1060 418.5C1062.8 418.6 1067.2 419.3 1068.7 419.5M891.3 423.5C892.4 423.3 895.5 422.8 898 422.5C900.5 422.2 903.3 421.8 906 422C908.7 422.2 911 423 914 423.5C917 424 920.5 424.6 924 424.8C927.5 425.1 933.2 425 935 425M1025 425C1026.8 425 1032.5 425.1 1036 424.8C1039.5 424.6 1043 424 1046 423.5C1049 423 1051.3 422.2 1054 422C1056.7 421.8 1059.5 422.2 1062 422.5C1064.5 422.8 1067.6 423.3 1068.7 423.5M891.3 424.5C892.4 424.8 895.5 425.4 898 426C900.5 426.6 903.3 427.5 906 428C908.7 428.5 911.3 428.8 914 428.8C916.7 428.8 919.3 428.1 922 427.8C924.7 427.5 927.8 427.2 930 427C932.2 426.8 934.2 426.8 935 426.8M1025 426.8C1025.8 426.8 1027.8 426.8 1030 427C1032.2 427.2 1035.3 427.5 1038 427.8C1040.7 428.1 1043.3 428.8 1046 428.8C1048.7 428.8 1051.3 428.5 1054 428C1056.7 427.5 1059.5 426.6 1062 426C1064.5 425.4 1067.6 424.8 1068.7 424.5M891.3 420C892.8 420.2 897.2 421 900 421C902.8 421 905 420.5 908 420C911 419.5 914.7 418.6 918 418C921.3 417.4 925.2 416.8 928 416.5C930.8 416.2 933.8 416.2 935 416.2M1025 416.2C1026.2 416.2 1029.2 416.2 1032 416.5C1034.8 416.8 1038.7 417.4 1042 418C1045.3 418.6 1049 419.5 1052 420C1055 420.5 1057.2 421 1060 421C1062.8 421 1067.2 420.2 1068.7 420M935 387.8C936.5 387.5 940.8 386.6 944 386C947.2 385.4 950.7 384.7 954 384.2C957.3 383.7 960.8 383.4 964 383.2C967.2 383 970.3 382.9 973 382.8C975.7 382.7 978.8 382.8 980 382.8M980 382.8C981.2 382.8 984.3 382.7 987 382.8C989.7 382.9 992.8 383 996 383.2C999.2 383.4 1002.7 383.7 1006 384.2C1009.3 384.7 1012.8 385.4 1016 386C1019.2 386.6 1023.5 387.5 1025 387.8M935 387.8C936.2 388.2 939.5 389.2 942 390C944.5 390.8 947.3 391.9 950 392.8C952.7 393.7 955.3 394.7 958 395.5C960.7 396.3 963.3 397 966 397.5C968.7 398 971.7 398.3 974 398.5C976.3 398.7 979 398.8 980 398.8M980 398.8C981 398.8 983.7 398.7 986 398.5C988.3 398.3 991.3 398 994 397.5C996.7 397 999.3 396.3 1002 395.5C1004.7 394.7 1007.3 393.7 1010 392.8C1012.7 391.9 1015.5 390.8 1018 390C1020.5 389.2 1023.8 388.2 1025 387.8M935 399.8C936.5 399.8 941.2 399.9 944 399.8C946.8 399.8 949.3 399.8 952 399.5C954.7 399.2 957.3 398.4 960 397.8C962.7 397.2 965.7 396.5 968 396.2C970.3 395.9 972 395.8 974 395.8C976 395.8 979 396 980 396M980 396C981 396 984 395.8 986 395.8C988 395.8 989.7 395.9 992 396.2C994.3 396.5 997.3 397.2 1000 397.8C1002.7 398.4 1005.3 399.2 1008 399.5C1010.7 399.8 1013.2 399.8 1016 399.8C1018.8 399.9 1023.5 399.8 1025 399.8M935 403.5C937.2 403.6 943.2 403.7 948 403.8C952.8 403.9 958.7 404 964 404C969.3 404 977.3 404 980 404M980 404C982.7 404 990.7 404 996 404C1001.3 404 1007.2 403.9 1012 403.8C1016.8 403.7 1022.8 403.6 1025 403.5M935 405C937.2 405 943.2 405.1 948 405.2C952.8 405.3 958.7 405.4 964 405.5C969.3 405.6 977.3 405.5 980 405.5M980 405.5C982.7 405.5 990.7 405.6 996 405.5C1001.3 405.4 1007.2 405.3 1012 405.2C1016.8 405.1 1022.8 405 1025 405M935 411.8C936.2 411.7 939.5 411.6 942 411C944.5 410.4 947.3 409.2 950 408.5C952.7 407.8 955.3 407.1 958 406.5C960.7 405.9 962.3 405.4 966 405.2C969.7 404.9 977.7 405 980 405M980 405C982.3 405 990.3 404.9 994 405.2C997.7 405.4 999.3 405.9 1002 406.5C1004.7 407.1 1007.3 407.8 1010 408.5C1012.7 409.2 1015.5 410.4 1018 411C1020.5 411.6 1023.8 411.7 1025 411.8M935 413C936.2 413.2 939.5 414.1 942 414C944.5 413.9 947.3 413.1 950 412.5C952.7 411.9 955 411.2 958 410.5C961 409.8 964.3 409 968 408.5C971.7 408 978 407.7 980 407.5M980 407.5C982 407.7 988.3 408 992 408.5C995.7 409 999 409.8 1002 410.5C1005 411.2 1007.3 411.9 1010 412.5C1012.7 413.1 1015.5 413.9 1018 414C1020.5 414.1 1023.8 413.2 1025 413M935 416.2C936.5 416.1 941.2 416 944 415.5C946.8 415 949.3 413.8 952 413C954.7 412.2 957.3 411.2 960 410.5C962.7 409.8 964.7 409.4 968 409C971.3 408.6 978 408.2 980 408M980 408C982 408.2 988.7 408.6 992 409C995.3 409.4 997.3 409.8 1000 410.5C1002.7 411.2 1005.3 412.2 1008 413C1010.7 413.8 1013.2 415 1016 415.5C1018.8 416 1023.5 416.1 1025 416.2M935 420.5C936.2 420.4 939.5 420.6 942 420C944.5 419.4 947.3 418 950 417C952.7 416 955.3 414.9 958 414C960.7 413.1 963.3 412.4 966 411.8C968.7 411.2 971.7 410.8 974 410.5C976.3 410.2 979 410.2 980 410.2M980 410.2C981 410.2 983.7 410.2 986 410.5C988.3 410.8 991.3 411.2 994 411.8C996.7 412.4 999.3 413.1 1002 414C1004.7 414.9 1007.3 416 1010 417C1012.7 418 1015.5 419.4 1018 420C1020.5 420.6 1023.8 420.4 1025 420.5M935 422C936.5 422 941.2 422.2 944 422C946.8 421.8 949 421 952 420.5C955 420 958.7 419.3 962 419C965.3 418.7 969 418.6 972 418.5C975 418.4 978.7 418.5 980 418.5M980 418.5C981.3 418.5 985 418.4 988 418.5C991 418.6 994.7 418.7 998 419C1001.3 419.3 1005 420 1008 420.5C1011 421 1013.2 421.8 1016 422C1018.8 422.2 1023.5 422 1025 422M935 425C936.5 424.8 941.2 423.8 944 424C946.8 424.2 949.3 425.2 952 426C954.7 426.8 957.3 427.8 960 428.5C962.7 429.2 964.7 429.7 968 430C971.3 430.3 978 430.4 980 430.5M980 430.5C982 430.4 988.7 430.3 992 430C995.3 429.7 997.3 429.2 1000 428.5C1002.7 427.8 1005.3 426.8 1008 426C1010.7 425.2 1013.2 424.2 1016 424C1018.8 423.8 1023.5 424.8 1025 425M935 426.8C936.2 427.5 939.5 429.4 942 431C944.5 432.6 947.3 434.7 950 436.5C952.7 438.3 955.3 440.3 958 442C960.7 443.7 963.3 445.5 966 446.8C968.7 448.1 971.7 449.2 974 449.8C976.3 450.4 979 450.4 980 450.5M980 450.5C981 450.4 983.7 450.4 986 449.8C988.3 449.2 991.3 448.1 994 446.8C996.7 445.5 999.3 443.7 1002 442C1004.7 440.3 1007.3 438.3 1010 436.5C1012.7 434.7 1015.5 432.6 1018 431C1020.5 429.4 1023.8 427.5 1025 426.8M1069 397.5C1070.8 397.2 1076.5 396.3 1080 395.8C1083.5 395.3 1086.7 394.8 1090 394.5C1093.3 394.2 1096 394 1100 393.8C1104 393.6 1111.7 393.6 1114 393.5M1069 398.5C1070.8 398.6 1076.5 398.8 1080 399C1083.5 399.2 1086.7 399.6 1090 400C1093.3 400.4 1096 400.8 1100 401.2C1104 401.6 1111.7 402 1114 402.2M1069 404.5C1070.8 404.6 1076.5 404.8 1080 404.8C1083.5 404.8 1086.7 404.7 1090 404.5C1093.3 404.3 1096 403.8 1100 403.5C1104 403.2 1111.7 402.7 1114 402.5M1069 405C1070.8 405 1074.8 405.2 1080 405.2C1085.2 405.2 1094.3 405.1 1100 405C1105.7 404.9 1111.7 404.6 1114 404.5M1069 412.5C1070.8 412.4 1076.5 412.2 1080 411.8C1083.5 411.4 1086.7 410.5 1090 410C1093.3 409.5 1096 409.1 1100 408.8C1104 408.5 1111.7 408.1 1114 408M1069 413.5C1070.8 413.3 1076.5 412.9 1080 412.5C1083.5 412.1 1086.7 411.4 1090 411C1093.3 410.6 1096 410.2 1100 410C1104 409.8 1111.7 409.6 1114 409.5M1069 420.5C1070.2 420.3 1073.5 420 1076 419.5C1078.5 419 1081.3 418.1 1084 417.5C1086.7 416.9 1089 416.4 1092 416C1095 415.6 1098.3 415.1 1102 414.8C1105.7 414.6 1112 414.6 1114 414.5M1069 424C1070.2 424.2 1073.5 424.6 1076 425.5C1078.5 426.4 1081.3 428.1 1084 429.5C1086.7 430.9 1089.3 432.7 1092 434C1094.7 435.3 1097.3 436.4 1100 437.2C1102.7 438 1105.7 438.5 1108 438.8C1110.3 439.1 1113 439.1 1114 439.2" fill="none" stroke="#000" stroke-width="1.7" stroke-linejoin="round" stroke-linecap="round"/>
<line x1="846.2" y1="11.5" x2="846.2" y2="497.3" stroke="#000" stroke-width="1.8"/>
<line x1="891.2" y1="11.5" x2="891.2" y2="497.3" stroke="#000" stroke-width="1.8"/>
<line x1="935.2" y1="11.5" x2="935.2" y2="497.3" stroke="#000" stroke-width="1.8"/>
<line x1="980" y1="11.5" x2="980" y2="497.3" stroke="#000" stroke-width="1.8"/>
<line x1="1024" y1="11.5" x2="1024" y2="497.3" stroke="#000" stroke-width="1.8"/>
<line x1="1068" y1="11.5" x2="1068" y2="497.3" stroke="#000" stroke-width="1.8"/>
<line x1="802.5" y1="459.9" x2="1118" y2="459.9" stroke="#d8202a" stroke-width="1.9" stroke-dasharray="8 8.2"/>
<line x1="1132.5" y1="459.9" x2="1292.5" y2="459.9" stroke="#d8202a" stroke-width="1.9" stroke-dasharray="8 8.2"/>
<clipPath id="cpb"><rect x="1133.3" y="11.5" width="160" height="485.8"/></clipPath>
<g clip-path="url(#cpb)">
<path d="M1132.2 33C1132.2 33.4 1131.6 34.4 1132.2 35.4C1132.8 36.4 1133.5 37.8 1135.6 39C1137.7 40.2 1140.4 41.4 1144.6 42.6C1148.8 43.8 1154.6 44.8 1160.6 46C1166.6 47.2 1175.2 49 1180.6 50C1186 51 1190.4 51.5 1193 52C1195.6 52.5 1196.9 52.5 1196.2 53C1195.5 53.5 1193.6 54.1 1189 55C1184.4 55.9 1175.3 57.4 1168.6 58.6C1161.9 59.8 1154 60.9 1148.6 62C1143.2 63.1 1139 64 1136.4 65C1133.8 66 1133.9 67 1133.2 68C1132.5 69 1132.4 65.2 1132.2 71C1132 76.8 1132.2 97.3 1132.2 103C1132.2 108.7 1131.6 104.2 1132.2 105C1132.8 105.8 1134 107 1136 108C1138 109 1141.3 110 1144 111C1146.7 112 1149.7 113 1152 114C1154.3 115 1156.8 116.1 1158 117C1159.2 117.9 1159.6 118.6 1159.4 119.4C1159.2 120.2 1157.9 121.1 1157 122C1156.1 122.9 1154.7 123.8 1154 125C1153.3 126.2 1152.7 127.7 1153 129C1153.3 130.3 1154.9 131.8 1156 133C1157.1 134.2 1159 135.2 1159.6 136C1160.2 136.8 1160.4 137.2 1159.6 138C1158.8 138.8 1156.4 140.2 1155 141C1153.6 141.8 1151.5 142.2 1151 143C1150.5 143.8 1150.5 145.1 1152 146C1153.5 146.9 1156 147.8 1160 148.6C1164 149.4 1170.7 150.2 1176 151C1181.3 151.8 1187.3 152.6 1192 153.4C1196.7 154.2 1201.8 155.4 1204 156C1206.2 156.6 1206.3 156.5 1205 157C1203.7 157.5 1199.5 158.2 1196 159C1192.5 159.8 1187 161 1184 162C1181 163 1179.3 164 1178 165C1176.7 166 1177 167 1176 168C1175 169 1174 170 1172 171C1170 172 1167 173 1164 174C1161 175 1156.8 176 1154 177C1151.2 178 1148.8 178.8 1147 180C1145.2 181.2 1144.2 182.7 1143 184C1141.8 185.3 1140.7 186.7 1140 188C1139.3 189.3 1138.8 190.8 1139 192C1139.2 193.2 1139.8 193.8 1141 195C1142.2 196.2 1143.8 197.7 1146 199C1148.2 200.3 1151 201.8 1154 203C1157 204.2 1161.2 205 1164 206C1166.8 207 1169.5 208.1 1171 209C1172.5 209.9 1173.2 210.5 1173 211.4C1172.8 212.3 1171.8 213.5 1170 214.6C1168.2 215.7 1165 216.8 1162 218C1159 219.2 1155.3 220.7 1152 222C1148.7 223.3 1144.8 224.8 1142 226C1139.2 227.2 1136.6 228.6 1135 229.4C1133.4 230.2 1132.4 230.6 1132.2 231C1132 231.4 1132.7 231.4 1134 232C1135.3 232.6 1136.3 233.6 1140 234.6C1143.7 235.6 1149.3 236.9 1156 238C1162.7 239.1 1172 240.4 1180 241.4C1188 242.4 1197.3 243.4 1204 244.2C1210.7 245 1215.8 245.5 1220 246.2C1224.2 246.9 1227.3 247.7 1229 248.2C1230.7 248.7 1230.8 248.8 1230 249.4C1229.2 250 1227 250.9 1224 252C1221 253.1 1216 254.5 1212 256C1208 257.5 1203.7 259.4 1200 261C1196.3 262.6 1192.3 264.1 1190 265.4C1187.7 266.7 1186.3 267.5 1186 268.6C1185.7 269.7 1186 270.9 1188 272C1190 273.1 1194.7 274 1198 275C1201.3 276 1205.4 277.1 1208 278C1210.6 278.9 1213.3 279.5 1213.6 280.4C1213.9 281.3 1212.6 282.3 1210 283.4C1207.4 284.5 1202 285.9 1198 287C1194 288.1 1188.7 289.1 1186 290C1183.3 290.9 1182 291.8 1182 292.6C1182 293.4 1183.3 294.1 1186 295C1188.7 295.9 1194.9 297.1 1198 298C1201.1 298.9 1204.1 299.7 1204.4 300.6C1204.7 301.5 1202.7 302.4 1200 303.4C1197.3 304.4 1191.7 305.6 1188 306.6C1184.3 307.6 1180.2 308.5 1178 309.4C1175.8 310.3 1175.5 311.1 1175 312C1174.5 312.9 1175.5 313.8 1175 315C1174.5 316.2 1173.8 317.7 1172 319C1170.2 320.3 1167 321.4 1164 322.6C1161 323.8 1157.3 324.8 1154 326C1150.7 327.2 1146.7 328.5 1144 330C1141.3 331.5 1139.6 333.3 1138 335C1136.4 336.7 1135.4 338.2 1134.4 340C1133.4 341.8 1132.6 344.2 1132.2 346C1131.8 347.8 1132.2 346.7 1132.2 351C1132.2 355.3 1132.2 368.1 1132.2 372C1132.2 375.9 1131.8 373.5 1132.2 374.4C1132.6 375.3 1133 376.2 1134.4 377.2C1135.8 378.2 1137.6 379 1140.6 380.2C1143.6 381.4 1147.2 382.7 1152.6 384.2C1158 385.7 1165.4 387.7 1172.8 389.2C1180.2 390.7 1188.8 391.9 1196.8 393.2C1204.8 394.5 1213 395.6 1221 396.8C1229 398 1238.3 399.2 1245 400.2C1251.7 401.2 1257.3 402.1 1261.2 402.8C1265.1 403.5 1267 404.1 1268.4 404.6C1269.8 405.1 1270.1 405.3 1269.6 406C1269.1 406.7 1268 407.8 1265.2 408.8C1262.4 409.8 1257.5 411 1252.8 412.2C1248.1 413.4 1242.2 414.9 1236.8 416.2C1231.4 417.5 1225.6 418.9 1220.6 420.2C1215.6 421.5 1210.9 422.9 1206.6 424.2C1202.3 425.5 1198.9 426.7 1194.6 428.2C1190.3 429.7 1185.6 431.5 1180.6 433.2C1175.6 434.9 1169.6 436.5 1164.6 438.2C1159.6 439.9 1154.4 441.5 1150.4 443.2C1146.4 444.9 1142.9 446.5 1140.4 448.2C1137.9 449.9 1136.6 451.5 1135.2 453.2C1133.8 454.9 1132.7 456.9 1132.2 458.2C1131.7 459.5 1132.2 460.5 1132.2 461" fill="none" stroke="#000" stroke-width="1.7" stroke-linejoin="round"/>
<path d="M1132.2 43C1132.8 44.5 1135.6 48.7 1135.6 52C1135.6 55.3 1132.8 54.3 1132.2 63C1131.6 71.7 1132.2 96.8 1132.2 104C1132.2 111.2 1131.6 105.2 1132.2 106C1132.8 106.8 1134 108.1 1136 109C1138 109.9 1141.3 110.6 1144 111.6C1146.7 112.6 1149.9 113.9 1152 115C1154.1 116.1 1155.6 117.2 1156.4 118C1157.2 118.8 1157.6 119.2 1157 120C1156.4 120.8 1154.2 122 1153 123C1151.8 124 1150.7 124.8 1150 126C1149.3 127.2 1148.7 128.7 1149 130C1149.3 131.3 1150.9 132.8 1151.6 134C1152.3 135.2 1153.4 136 1153 137C1152.6 138 1150.2 139 1149 140C1147.8 141 1146.1 142.2 1145.6 143C1145.1 143.8 1144.9 144.3 1146 145C1147.1 145.7 1149 146.6 1152 147.4C1155 148.2 1159.7 149.1 1164 150C1168.3 150.9 1174.7 151.8 1178 152.6C1181.3 153.4 1182.9 153.9 1184 154.6C1185.1 155.3 1185.4 155.9 1184.4 156.6C1183.4 157.3 1180.7 157.8 1178 158.6C1175.3 159.4 1170.7 160.5 1168 161.4C1165.3 162.3 1163.5 163.1 1162 164C1160.5 164.9 1160.2 165.8 1159 167C1157.8 168.2 1156.5 169.7 1155 171C1153.5 172.3 1151.7 173.7 1150 175C1148.3 176.3 1146.3 177.7 1145 179C1143.7 180.3 1143 181.5 1142 183C1141 184.5 1139.7 186.5 1139 188C1138.3 189.5 1137.7 190.7 1137.6 192C1137.5 193.3 1137.7 194.7 1138.4 196C1139.1 197.3 1140.7 198.5 1142 200C1143.3 201.5 1144.8 203.5 1146 205C1147.2 206.5 1148.7 207.7 1149 209C1149.3 210.3 1148.8 211.5 1148 213C1147.2 214.5 1145.7 216.3 1144 218C1142.3 219.7 1139.7 221.5 1138 223C1136.3 224.5 1135 225.9 1134 227C1133 228.1 1132.5 228.7 1132.2 229.4C1131.9 230.1 1131.7 230.4 1132.2 231C1132.7 231.6 1133 232.2 1135 233C1137 233.8 1139.8 234.8 1144 235.8C1148.2 236.8 1153.3 237.9 1160 239C1166.7 240.1 1176.3 241.5 1184 242.6C1191.7 243.7 1200.7 244.6 1206 245.4C1211.3 246.2 1214.1 246.8 1216 247.4C1217.9 248 1218.3 248.4 1217.6 249C1216.9 249.6 1214.9 250.1 1212 251C1209.1 251.9 1204.3 253.1 1200 254.6C1195.7 256.1 1190.7 258.2 1186 260C1181.3 261.8 1176.3 263.6 1172 265.4C1167.7 267.2 1163 269 1160 270.6C1157 272.2 1155.8 273.3 1154 275C1152.2 276.7 1150.7 279 1149 281C1147.3 283 1145.4 285 1144 287C1142.6 289 1141.2 291 1140.4 293C1139.6 295 1139.3 297 1139.4 299C1139.5 301 1140.2 303.2 1141 305C1141.8 306.8 1143.4 308.3 1144.4 310C1145.4 311.7 1146.6 313.5 1147 315C1147.4 316.5 1147.7 317.6 1147 319C1146.3 320.4 1144.5 321.7 1143 323.4C1141.5 325.1 1139.4 327.1 1138 329C1136.6 330.9 1135.4 333 1134.4 335C1133.4 337 1132.6 339 1132.2 341C1131.8 343 1132.2 346 1132.2 347" fill="none" stroke="#7dc242" stroke-width="1.65" stroke-linejoin="round"/>
<path d="M1132.2 33C1132.2 33.4 1131.7 34.4 1132.2 35.4C1132.7 36.4 1133 37.8 1135 39C1137 40.2 1139.8 41.4 1144 42.6C1148.2 43.8 1154 44.8 1160 46C1166 47.2 1174.7 49 1180 50C1185.3 51 1189.5 51.5 1192 52C1194.5 52.5 1195.7 52.5 1195 53C1194.3 53.5 1192.5 54.1 1188 55C1183.5 55.9 1174.7 57.4 1168 58.6C1161.3 59.8 1153.3 60.9 1148 62C1142.7 63.1 1138.6 64 1136 65C1133.4 66 1132.8 67 1132.2 68C1131.6 69 1132.2 64.8 1132.2 71C1132.2 77.2 1132 98 1132.2 105C1132.4 112 1133.1 110.3 1133.6 113C1134.1 115.7 1134.4 118.3 1135 121C1135.6 123.7 1136.3 126.3 1137 129C1137.7 131.7 1138.8 134.7 1139 137C1139.2 139.3 1137.8 141.3 1138 143C1138.2 144.7 1138.7 145.7 1140 147C1141.3 148.3 1144.2 149.7 1146 151C1147.8 152.3 1150 154 1151 155C1152 156 1152.2 156 1152 157C1151.8 158 1150.3 159.7 1149.6 161C1148.9 162.3 1148.6 163.5 1148 165C1147.4 166.5 1147 168.3 1146 170C1145 171.7 1143.3 173.5 1142 175C1140.7 176.5 1139.2 177.7 1138 179C1136.8 180.3 1135.7 181.5 1135 183C1134.3 184.5 1133.9 186.3 1134 188C1134.1 189.7 1134.6 191.3 1135.6 193C1136.6 194.7 1137.9 196.3 1140 198C1142.1 199.7 1145.5 201.3 1148 203C1150.5 204.7 1153.4 206.6 1155 208C1156.6 209.4 1157.4 210.2 1157.6 211.4C1157.8 212.6 1157.1 213.7 1156 215C1154.9 216.3 1153 217.7 1151 219C1149 220.3 1146.3 221.5 1144 223C1141.7 224.5 1139 226.5 1137 228C1135 229.5 1133 231.2 1132.2 232C1131.4 232.8 1131.6 232 1132.2 233C1132.8 234 1134.4 236.2 1136 238C1137.6 239.8 1139.7 241.8 1142 244C1144.3 246.2 1148.1 249 1150 251C1151.9 253 1153.1 254.3 1153.6 256C1154.1 257.7 1153.3 259.5 1153 261C1152.7 262.5 1151.8 263.7 1152 265C1152.2 266.3 1152.7 267.8 1154 269C1155.3 270.2 1157 271.2 1160 272C1163 272.8 1168 273.2 1172 274C1176 274.8 1180.5 275.8 1184 276.6C1187.5 277.4 1191.1 278.3 1193 279C1194.9 279.7 1195.8 280.2 1195.6 281C1195.4 281.8 1194.6 283 1192 284C1189.4 285 1183.2 286 1180 287C1176.8 288 1174.3 289.2 1173 290C1171.7 290.8 1171.2 291.2 1172 292C1172.8 292.8 1175 294 1178 295C1181 296 1186.9 297.1 1190 298C1193.1 298.9 1196.1 299.8 1196.4 300.6C1196.7 301.4 1194.7 302.2 1192 303C1189.3 303.8 1184 304.6 1180 305.4C1176 306.2 1171 307.1 1168 308C1165 308.9 1163.4 309.8 1162 311C1160.6 312.2 1160.6 313.5 1159.6 315C1158.6 316.5 1157.8 318.3 1156 320C1154.2 321.7 1151.3 323.3 1149 325C1146.7 326.7 1144 328.3 1142 330C1140 331.7 1138.3 333.3 1137 335C1135.7 336.7 1134.8 338.2 1134 340C1133.2 341.8 1132.5 344.2 1132.2 346C1131.9 347.8 1132.2 344.8 1132.2 351C1132.2 357.2 1132 374.7 1132.2 383C1132.4 391.3 1133.2 394.7 1133.6 401C1134 407.3 1134.4 414.3 1134.4 421C1134.4 427.7 1134 435.3 1133.6 441C1133.2 446.7 1132.4 452.7 1132.2 455" fill="none" stroke="#3a53c5" stroke-width="1.65" stroke-linejoin="round"/>
<path d="M1132.2 261C1132.4 264.3 1132.7 275.3 1133.2 281C1133.7 286.7 1134.6 291.7 1135 295C1135.4 298.3 1135.7 298.3 1135.6 301C1135.5 303.7 1134.8 307 1134.4 311C1134 315 1133.6 320.3 1133.2 325C1132.8 329.7 1132.4 331.2 1132.2 339C1132 346.8 1132.2 366.2 1132.2 372C1132.2 377.8 1131.9 373.2 1132.2 374C1132.5 374.8 1132.7 376 1134 377C1135.3 378 1137 378.8 1140 380C1143 381.2 1146.7 382.5 1152 384C1157.3 385.5 1164.7 387.5 1172 389C1179.3 390.5 1188 391.7 1196 393C1204 394.3 1212 395.4 1220 396.6C1228 397.8 1237.3 399 1244 400C1250.7 401 1256.2 401.8 1260 402.6C1263.8 403.4 1265.7 404 1267 404.6C1268.3 405.2 1268.5 405.3 1268 406C1267.5 406.7 1266.7 407.6 1264 408.6C1261.3 409.6 1256.7 410.8 1252 412C1247.3 413.2 1241.3 414.7 1236 416C1230.7 417.3 1225 418.7 1220 420C1215 421.3 1210.3 422.7 1206 424C1201.7 425.3 1198.3 426.5 1194 428C1189.7 429.5 1185 431.3 1180 433C1175 434.7 1169 436.3 1164 438C1159 439.7 1154 441.3 1150 443C1146 444.7 1142.5 446.3 1140 448C1137.5 449.7 1136.3 451.3 1135 453C1133.7 454.7 1132.7 456.7 1132.2 458C1131.7 459.3 1132.2 460.5 1132.2 461" fill="none" stroke="#e0202a" stroke-width="1.65" stroke-linejoin="round"/>
</g>
<line x1="803" y1="11.5" x2="803" y2="497.3" stroke="#000" stroke-width="1.9"/>
<line x1="1114" y1="11.5" x2="1114" y2="497.3" stroke="#000" stroke-width="1.8"/>
<line x1="795.5" y1="11.5" x2="1121.5" y2="11.5" stroke="#000" stroke-width="1.9"/>
<line x1="798.5" y1="497.3" x2="1118.5" y2="497.3" stroke="#000" stroke-width="1.9"/>
<line x1="1132.5" y1="11.5" x2="1132.5" y2="497.3" stroke="#000" stroke-width="1.9"/>
<line x1="1292.5" y1="10.6" x2="1292.5" y2="498.2" stroke="#000" stroke-width="1.9"/>
<line x1="1125" y1="11.5" x2="1292.5" y2="11.5" stroke="#000" stroke-width="1.9"/>
<line x1="1128" y1="497.3" x2="1292.5" y2="497.3" stroke="#000" stroke-width="1.9"/>
<line x1="795.5" y1="11.5" x2="803" y2="11.5" stroke="#000" stroke-width="1.9"/>
<line x1="1114" y1="11.5" x2="1121.5" y2="11.5" stroke="#000" stroke-width="1.9"/>
<line x1="1125" y1="11.5" x2="1132.5" y2="11.5" stroke="#000" stroke-width="1.9"/>
<text x="791.8" y="20.9" font-size="32" text-anchor="end">30</text>
<line x1="798.5" y1="48.9" x2="803" y2="48.9" stroke="#000" stroke-width="1.9"/>
<line x1="1114" y1="48.9" x2="1118.5" y2="48.9" stroke="#000" stroke-width="1.9"/>
<line x1="1128" y1="48.9" x2="1132.5" y2="48.9" stroke="#000" stroke-width="1.9"/>
<line x1="795.5" y1="86.2" x2="803" y2="86.2" stroke="#000" stroke-width="1.9"/>
<line x1="1114" y1="86.2" x2="1121.5" y2="86.2" stroke="#000" stroke-width="1.9"/>
<line x1="1125" y1="86.2" x2="1132.5" y2="86.2" stroke="#000" stroke-width="1.9"/>
<text x="791.8" y="95.6" font-size="32" text-anchor="end">25</text>
<line x1="798.5" y1="123.6" x2="803" y2="123.6" stroke="#000" stroke-width="1.9"/>
<line x1="1114" y1="123.6" x2="1118.5" y2="123.6" stroke="#000" stroke-width="1.9"/>
<line x1="1128" y1="123.6" x2="1132.5" y2="123.6" stroke="#000" stroke-width="1.9"/>
<line x1="795.5" y1="161" x2="803" y2="161" stroke="#000" stroke-width="1.9"/>
<line x1="1114" y1="161" x2="1121.5" y2="161" stroke="#000" stroke-width="1.9"/>
<line x1="1125" y1="161" x2="1132.5" y2="161" stroke="#000" stroke-width="1.9"/>
<text x="791.8" y="170.4" font-size="32" text-anchor="end">20</text>
<line x1="798.5" y1="198.3" x2="803" y2="198.3" stroke="#000" stroke-width="1.9"/>
<line x1="1114" y1="198.3" x2="1118.5" y2="198.3" stroke="#000" stroke-width="1.9"/>
<line x1="1128" y1="198.3" x2="1132.5" y2="198.3" stroke="#000" stroke-width="1.9"/>
<line x1="795.5" y1="235.7" x2="803" y2="235.7" stroke="#000" stroke-width="1.9"/>
<line x1="1114" y1="235.7" x2="1121.5" y2="235.7" stroke="#000" stroke-width="1.9"/>
<line x1="1125" y1="235.7" x2="1132.5" y2="235.7" stroke="#000" stroke-width="1.9"/>
<text x="791.8" y="245.1" font-size="32" text-anchor="end">15</text>
<line x1="798.5" y1="273.1" x2="803" y2="273.1" stroke="#000" stroke-width="1.9"/>
<line x1="1114" y1="273.1" x2="1118.5" y2="273.1" stroke="#000" stroke-width="1.9"/>
<line x1="1128" y1="273.1" x2="1132.5" y2="273.1" stroke="#000" stroke-width="1.9"/>
<line x1="795.5" y1="310.5" x2="803" y2="310.5" stroke="#000" stroke-width="1.9"/>
<line x1="1114" y1="310.5" x2="1121.5" y2="310.5" stroke="#000" stroke-width="1.9"/>
<line x1="1125" y1="310.5" x2="1132.5" y2="310.5" stroke="#000" stroke-width="1.9"/>
<text x="791.8" y="319.9" font-size="32" text-anchor="end">10</text>
<line x1="798.5" y1="347.8" x2="803" y2="347.8" stroke="#000" stroke-width="1.9"/>
<line x1="1114" y1="347.8" x2="1118.5" y2="347.8" stroke="#000" stroke-width="1.9"/>
<line x1="1128" y1="347.8" x2="1132.5" y2="347.8" stroke="#000" stroke-width="1.9"/>
<line x1="795.5" y1="385.2" x2="803" y2="385.2" stroke="#000" stroke-width="1.9"/>
<line x1="1114" y1="385.2" x2="1121.5" y2="385.2" stroke="#000" stroke-width="1.9"/>
<line x1="1125" y1="385.2" x2="1132.5" y2="385.2" stroke="#000" stroke-width="1.9"/>
<text x="791.8" y="394.6" font-size="32" text-anchor="end">5</text>
<line x1="798.5" y1="422.6" x2="803" y2="422.6" stroke="#000" stroke-width="1.9"/>
<line x1="1114" y1="422.6" x2="1118.5" y2="422.6" stroke="#000" stroke-width="1.9"/>
<line x1="1128" y1="422.6" x2="1132.5" y2="422.6" stroke="#000" stroke-width="1.9"/>
<line x1="795.5" y1="459.9" x2="803" y2="459.9" stroke="#000" stroke-width="1.9"/>
<line x1="1114" y1="459.9" x2="1121.5" y2="459.9" stroke="#000" stroke-width="1.9"/>
<line x1="1125" y1="459.9" x2="1132.5" y2="459.9" stroke="#000" stroke-width="1.9"/>
<text x="791.8" y="469.3" font-size="32" text-anchor="end">0</text>
<line x1="798.5" y1="497.3" x2="803" y2="497.3" stroke="#000" stroke-width="1.9"/>
<line x1="1114" y1="497.3" x2="1118.5" y2="497.3" stroke="#000" stroke-width="1.9"/>
<line x1="1128" y1="497.3" x2="1132.5" y2="497.3" stroke="#000" stroke-width="1.9"/>
<text x="1132.5" y="528.3" font-size="32" text-anchor="middle">0</text>
<line x1="1185.8" y1="497.3" x2="1185.8" y2="489.8" stroke="#000" stroke-width="1.9"/>
<text x="1185.8" y="528.3" font-size="32" text-anchor="middle">2</text>
<line x1="1239.2" y1="497.3" x2="1239.2" y2="489.8" stroke="#000" stroke-width="1.9"/>
<text x="1239.2" y="528.3" font-size="32" text-anchor="middle">4</text>
<text x="1292.5" y="528.3" font-size="32" text-anchor="middle">6</text>
<line x1="1159.2" y1="497.3" x2="1159.2" y2="492.8" stroke="#000" stroke-width="1.9"/>
<line x1="1212.5" y1="497.3" x2="1212.5" y2="492.8" stroke="#000" stroke-width="1.9"/>
<line x1="1265.8" y1="497.3" x2="1265.8" y2="492.8" stroke="#000" stroke-width="1.9"/>
<text x="803" y="528.3" font-size="32" text-anchor="middle">Γ</text>
<text x="846.2" y="528.3" font-size="32" text-anchor="middle">Z</text>
<text x="891.2" y="528.3" font-size="32" text-anchor="middle">T</text>
<text x="935.2" y="528.3" font-size="32" text-anchor="middle">Y</text>
<text x="980" y="528.3" font-size="32" text-anchor="middle">S</text>
<text x="1024" y="528.3" font-size="32" text-anchor="middle">X</text>
<text x="1068" y="528.3" font-size="32" text-anchor="middle">U</text>
<text x="1114" y="528.3" font-size="32" text-anchor="middle">R</text>
<text x="736.8" y="262.5" font-size="32.5" text-anchor="middle" transform="rotate(-90 736.8 262.5)">Frequency(THz)</text>
<text x="805" y="39" font-size="30.5" text-anchor="start">(b)</text>
<line x1="1200" y1="62.5" x2="1245" y2="62.5" stroke="#000" stroke-width="1.7"/>
<text x="1249" y="68.8" font-size="19" text-anchor="start">Total</text>
<line x1="1200" y1="86.5" x2="1245" y2="86.5" stroke="#e0202a" stroke-width="1.7"/>
<text x="1249" y="92.8" font-size="19" text-anchor="start">Th</text>
<line x1="1200" y1="110" x2="1245" y2="110" stroke="#7dc242" stroke-width="1.7"/>
<text x="1249" y="116.3" font-size="19" text-anchor="start">B</text>
<line x1="1200" y1="134" x2="1245" y2="134" stroke="#3a53c5" stroke-width="1.7"/>
<text x="1249" y="140.3" font-size="19" text-anchor="start">C</text>
<path d="M90 717.6C91.8 717.7 97.2 717.4 101 718C104.8 718.6 109 719.7 113 721C117 722.3 121.9 724.5 125 725.6C128.1 726.7 130.3 727.1 131.4 727.4M90 724.6C92.5 724.6 99.8 724.4 105 724.6C110.2 724.8 116.6 725.5 121 726C125.4 726.5 129.7 727.2 131.4 727.4M90 733C92.5 732.8 100.2 732.6 105 732C109.8 731.4 114.6 730.4 119 729.6C123.4 728.8 129.3 727.8 131.4 727.4M90 744C91.8 743.7 97.2 743.6 101 742.4C104.8 741.2 109 739 113 737C117 735 121.9 732 125 730.4C128.1 728.8 130.3 727.9 131.4 727.4M131.4 727.4C133.7 726.8 140.1 725.2 145 724C149.9 722.8 155.6 721.2 161 720.4C166.4 719.6 174.8 719.2 177.6 719M131.4 727.4C133.7 727.6 139.4 728.5 145 728.8C150.6 729.1 159.6 729.4 165 729.4C170.4 729.4 175.5 729.1 177.6 729M90 754C91.2 754.3 94.2 754.5 97 756C99.8 757.5 103.7 760.3 107 763C110.3 765.7 114 769.3 117 772C120 774.7 122.6 777.2 125 779C127.4 780.8 130.3 782.3 131.4 783M90 781.6C91.8 782 97.2 782.9 101 784C104.8 785.1 109 787 113 788C117 789 121.9 789.6 125 790C128.1 790.4 130.3 790.3 131.4 790.4M90 797C92.5 796.8 100.2 796.8 105 796C109.8 795.2 114.6 793.3 119 792.4C123.4 791.5 129.3 790.7 131.4 790.4M90 807C91.8 806.8 97.5 807 101 806C104.5 805 107.7 803.3 111 801C114.3 798.7 118.3 794.5 121 792C123.7 789.5 125.3 787.4 127 786C128.7 784.6 130.7 783.8 131.4 783.4M131.4 783C135.3 782.9 147.3 782.5 155 782.4C162.7 782.3 173.8 782.4 177.6 782.4M131.4 790.4C133.7 790.8 140.1 791.7 145 793C149.9 794.3 155.6 796.7 161 798C166.4 799.3 174.8 800.5 177.6 801M177.6 719C180.8 719.2 190 719.7 197 720C204 720.3 215.8 720.8 219.6 721M312.8 721C316.6 720.8 328.4 720.3 335.4 720C342.4 719.7 351.6 719.2 354.8 719M177.6 729C179.5 729.2 185.1 729.6 189 730.4C192.9 731.2 197 732.8 201 734C205 735.2 209.9 736.9 213 737.6C216.1 738.3 218.5 738.3 219.6 738.4M312.8 738.4C313.9 738.3 316.3 738.3 319.4 737.6C322.5 736.9 327.4 735.2 331.4 734C335.4 732.8 339.5 731.2 343.4 730.4C347.3 729.6 352.9 729.2 354.8 729M219.6 721C222.5 720.3 231.1 718.2 237 717C242.9 715.8 250.1 714.3 255 713.6C259.9 712.9 264.5 713.1 266.4 713M266 713C267.9 713.1 272.5 712.9 277.4 713.6C282.3 714.3 289.5 715.8 295.4 717C301.3 718.2 309.9 720.3 312.8 721M219.6 721C223.8 721 237.2 721.1 245 721C252.8 720.9 262.8 720.5 266.4 720.4M266 720.4C269.6 720.5 279.6 720.9 287.4 721C295.2 721.1 308.6 721 312.8 721M219.6 738.4C222.5 737.8 231.1 736 237 735C242.9 734 250.1 732.9 255 732.4C259.9 731.9 264.5 732.1 266.4 732M266 732C267.9 732.1 272.5 731.9 277.4 732.4C282.3 732.9 289.5 734 295.4 735C301.3 736 309.9 737.8 312.8 738.4M219.6 738.4C222.5 738.7 231.1 739.8 237 740.4C242.9 741 250.1 741.7 255 742C259.9 742.3 264.5 742.3 266.4 742.4M266 742.4C267.9 742.3 272.5 742.3 277.4 742C282.3 741.7 289.5 741 295.4 740.4C301.3 739.8 309.9 738.7 312.8 738.4M177.6 782.4C179.5 782 185.1 781.6 189 780C192.9 778.4 197 775.2 201 773C205 770.8 209.9 768.2 213 767C216.1 765.8 218.5 765.8 219.6 765.6M312.8 765.6C313.9 765.8 316.3 765.8 319.4 767C322.5 768.2 327.4 770.8 331.4 773C335.4 775.2 339.5 778.4 343.4 780C347.3 781.6 352.9 782 354.8 782.4M177.6 801C180.2 800.5 187.8 798.8 193 798C198.2 797.2 204.6 796.7 209 796.4C213.4 796.1 217.8 796.1 219.6 796M312.8 796C314.6 796.1 319 796.1 323.4 796.4C327.8 796.7 334.2 797.2 339.4 798C344.6 798.8 352.2 800.5 354.8 801M219.6 765.6C221.8 764.7 228.1 761.6 233 760C237.9 758.4 243.4 756.8 249 756C254.6 755.2 263.5 755.2 266.4 755M266 755C268.9 755.2 277.8 755.2 283.4 756C289 756.8 294.5 758.4 299.4 760C304.3 761.6 310.6 764.7 312.8 765.6M219.6 765.6C221.8 766.7 228.1 769.5 233 772C237.9 774.5 244.3 778.4 249 780.4C253.7 782.4 258.1 783.3 261 784C263.9 784.7 265.5 784.5 266.4 784.6M266 784.6C266.9 784.5 268.5 784.7 271.4 784C274.3 783.3 278.7 782.4 283.4 780.4C288.1 778.4 294.5 774.5 299.4 772C304.3 769.5 310.6 766.7 312.8 765.6M219.6 796C222.5 795.7 231.1 794.9 237 794.4C242.9 793.9 250.1 793.2 255 793C259.9 792.8 264.5 793 266.4 793M266 793C267.9 793 272.5 792.8 277.4 793C282.3 793.2 289.5 793.9 295.4 794.4C301.3 794.9 309.9 795.7 312.8 796M219.6 796C221.8 796.3 228.1 797 233 798C237.9 799 244.7 800.7 249 802C253.3 803.3 256.1 804.9 259 806C261.9 807.1 265.2 808 266.4 808.4M266 808.4C267.2 808 270.5 807.1 273.4 806C276.3 804.9 279.1 803.3 283.4 802C287.7 800.7 294.5 799 299.4 798C304.3 797 310.6 796.3 312.8 796M354.4 719C357 718.9 364.7 718.4 370 718.6C375.3 718.8 380.9 719.8 386 720.4C391.1 721 398 722.1 400.4 722.4M354.4 729C357 728.8 364.7 728.3 370 727.6C375.3 726.9 380.9 725.8 386 725C391.1 724.2 398 723.2 400.4 722.8M354.4 782.4C357 782.3 364.7 781.9 370 782C375.3 782.1 380.9 782.7 386 783C391.1 783.3 398 783.8 400.4 784M354.4 801C356.3 800.7 362.1 800.3 366 799C369.9 797.7 374 795 378 793C382 791 386.3 788.4 390 787C393.7 785.6 398.7 784.8 400.4 784.4M90 812C91.5 812.8 95.8 814.8 99 817C102.2 819.2 105.7 822.7 109 825C112.3 827.3 115.3 829.5 119 831C122.7 832.5 129.3 833.5 131.4 834M90 832.4C91.8 832.5 97.5 832.1 101 833C104.5 833.9 107.7 835.7 111 838C114.3 840.3 117.6 844 121 847C124.4 850 129.7 854.5 131.4 856M90 853C91.8 852 97.2 849.2 101 847C104.8 844.8 109 841.8 113 840C117 838.2 121.9 836.9 125 836C128.1 835.1 130.3 834.7 131.4 834.4M90 856C93.2 855.9 102.1 855.5 109 855.6C115.9 855.7 127.7 856.3 131.4 856.4M90 858C91.8 858.8 97.5 861.6 101 863C104.5 864.4 107.7 866.2 111 866.4C114.3 866.6 118.3 865.1 121 864C123.7 862.9 125.3 861.3 127 860C128.7 858.7 130.7 857 131.4 856.4M90 867C91.8 867.3 97.5 867.7 101 869C104.5 870.3 107.7 872.7 111 875C114.3 877.3 117.6 880.7 121 883C124.4 885.3 129.7 888 131.4 889M90 869C91.8 869.5 97.5 870.5 101 872C104.5 873.5 107.7 875.7 111 878C114.3 880.3 117.6 884.1 121 886C124.4 887.9 129.7 889 131.4 889.6M90 882C91.8 882 97.5 881.6 101 882C104.5 882.4 107.7 883.3 111 884.4C114.3 885.5 117.6 887.1 121 888.4C124.4 889.7 129.7 891.4 131.4 892M90 905.6C91.8 905.4 97.5 905.2 101 904.4C104.5 903.6 107.7 902.4 111 901C114.3 899.6 117.6 897.4 121 896C124.4 894.6 129.7 893 131.4 892.4M90 915C91.8 914.7 97.5 914.2 101 913C104.5 911.8 107.7 910.2 111 908C114.3 905.8 117.6 902.5 121 900C124.4 897.5 129.7 894.2 131.4 893M90 943C91.2 942.3 94.5 941.5 97 939C99.5 936.5 102.3 932.2 105 928C107.7 923.8 110.3 918.3 113 914C115.7 909.7 117.9 905.5 121 902C124.1 898.5 129.7 894.5 131.4 893M90 948.4C91.8 947.8 97.5 946.4 101 945C104.5 943.6 107.7 941.4 111 940C114.3 938.6 117.6 936.9 121 936.4C124.4 935.9 129.7 936.9 131.4 937M90 963C91.2 962.7 94.5 962.3 97 961C99.5 959.7 102 957.5 105 955C108 952.5 111.7 948.7 115 946C118.3 943.3 122.3 940.5 125 939C127.7 937.5 130.3 937.3 131.4 937M131.4 834C133.7 834.3 141.4 835.7 145 835.6C148.6 835.5 149.7 835 153 833.6C156.3 832.2 160.9 828.8 165 827C169.1 825.2 175.5 823.7 177.6 823M131.4 856C132.7 855 136.1 852.2 139 850C141.9 847.8 146 844 149 843C152 842 153.7 843.1 157 844C160.3 844.9 165.6 847.2 169 848.4C172.4 849.6 176.2 850.6 177.6 851M131.4 856C133.7 856 140.1 856.3 145 856C149.9 855.7 155.6 854.8 161 854C166.4 853.2 174.8 851.5 177.6 851M131.4 856.4C133 857.5 137.4 860.7 141 863C144.6 865.3 149 868.2 153 870C157 871.8 160.9 872.9 165 873.6C169.1 874.3 175.5 874.3 177.6 874.4M131.4 889C133.7 888.9 140.1 888.7 145 888.4C149.9 888.1 155.6 887.4 161 887C166.4 886.6 174.8 886.2 177.6 886M131.4 893C133.7 892.7 140.1 891.6 145 891C149.9 890.4 155.6 890 161 889.6C166.4 889.2 174.8 888.6 177.6 888.4M131.4 893.6C133 894 137.4 895.3 141 896C144.6 896.7 149 896.3 153 898C157 899.7 161.7 903.8 165 906C168.3 908.2 170.9 910 173 911C175.1 912 176.8 911.8 177.6 912M131.4 937C133.7 936.7 140.7 936.2 145 935C149.3 933.8 153 932.2 157 930C161 927.8 165.6 924 169 922C172.4 920 176.2 918.7 177.6 918M177.6 823C179.5 823.5 185.1 824.7 189 826C192.9 827.3 197 829.7 201 831C205 832.3 209.9 833.3 213 834C216.1 834.7 218.5 834.8 219.6 835M312.8 835C313.9 834.8 316.3 834.7 319.4 834C322.5 833.3 327.4 832.3 331.4 831C335.4 829.7 339.5 827.3 343.4 826C347.3 824.7 352.9 823.5 354.8 823M177.6 851C180.2 850.7 187.8 849.4 193 849C198.2 848.6 204.6 848.3 209 848.4C213.4 848.5 217.8 849.4 219.6 849.6M312.8 849.6C314.6 849.4 319 848.5 323.4 848.4C327.8 848.3 334.2 848.6 339.4 849C344.6 849.4 352.2 850.7 354.8 851M177.6 851C179.5 851.7 185.1 853.8 189 855C192.9 856.2 197 857.5 201 858C205 858.5 209.9 858.2 213 858C216.1 857.8 218.5 857.2 219.6 857M312.8 857C313.9 857.2 316.3 857.8 319.4 858C322.5 858.2 327.4 858.5 331.4 858C335.4 857.5 339.5 856.2 343.4 855C347.3 853.8 352.9 851.7 354.8 851M177.6 874.4C179.5 874 185.1 873.4 189 872C192.9 870.6 197 867.5 201 866C205 864.5 209.9 863.5 213 863C216.1 862.5 218.5 863 219.6 863M312.8 863C313.9 863 316.3 862.5 319.4 863C322.5 863.5 327.4 864.5 331.4 866C335.4 867.5 339.5 870.6 343.4 872C347.3 873.4 352.9 874 354.8 874.4M177.6 886C179.5 885.3 185.1 883.1 189 882C192.9 880.9 195.9 880.1 201 879.6C206.1 879.1 216.5 879.1 219.6 879M312.8 879C315.9 879.1 326.3 879.1 331.4 879.6C336.5 880.1 339.5 880.9 343.4 882C347.3 883.1 352.9 885.3 354.8 886M177.6 888.4C179.5 889 185.1 890.9 189 892C192.9 893.1 195.9 894.3 201 895C206.1 895.7 216.5 895.8 219.6 896M312.8 896C315.9 895.8 326.3 895.7 331.4 895C336.5 894.3 339.5 893.1 343.4 892C347.3 890.9 352.9 889 354.8 888.4M177.6 912C180.8 912.2 190 912.8 197 913C204 913.2 215.8 913.3 219.6 913.4M312.8 913.4C316.6 913.3 328.4 913.2 335.4 913C342.4 912.8 351.6 912.2 354.8 912M177.6 918C179.2 918.8 183.8 920.3 187 923C190.2 925.7 193.7 930.5 197 934C200.3 937.5 204 941.5 207 944C210 946.5 212.9 947.9 215 949C217.1 950.1 218.8 950.2 219.6 950.4M312.8 950.4C313.6 950.2 315.3 950.1 317.4 949C319.5 947.9 322.4 946.5 325.4 944C328.4 941.5 332.1 937.5 335.4 934C338.7 930.5 342.2 925.7 345.4 923C348.6 920.3 353.2 918.8 354.8 918M219.6 835C221.8 834 228.1 831.5 233 829C237.9 826.5 243.4 822.7 249 820C254.6 817.3 263.5 814.2 266.4 813M266 813C268.9 814.2 277.8 817.3 283.4 820C289 822.7 294.5 826.5 299.4 829C304.3 831.5 310.6 834 312.8 835M219.6 835C221.8 836 228.8 839 233 841C237.2 843 241 845.3 245 847C249 848.7 253.4 850.2 257 851C260.6 851.8 264.8 851.5 266.4 851.6M266 851.6C267.6 851.5 271.8 851.8 275.4 851C279 850.2 283.4 848.7 287.4 847C291.4 845.3 295.2 843 299.4 841C303.6 839 310.6 836 312.8 835M219.6 849.6C221.8 849 228.1 847.8 233 846C237.9 844.2 243.4 840.5 249 839C254.6 837.5 263.5 837.3 266.4 837M266 837C268.9 837.3 277.8 837.5 283.4 839C289 840.5 294.5 844.2 299.4 846C304.3 847.8 310.6 849 312.8 849.6M219.6 849.6C222.5 849 231.4 846.8 237 846C242.6 845.2 248.1 845.2 253 845C257.9 844.8 264.2 845 266.4 845M266 845C268.2 845 274.5 844.8 279.4 845C284.3 845.2 289.8 845.2 295.4 846C301 846.8 309.9 849 312.8 849.6M219.6 857C222.5 856.5 231.4 854.7 237 854C242.6 853.3 248.1 853.2 253 853C257.9 852.8 264.2 853 266.4 853M266 853C268.2 853 274.5 852.8 279.4 853C284.3 853.2 289.8 853.3 295.4 854C301 854.7 309.9 856.5 312.8 857M219.6 857C222.5 857.7 231.4 860.2 237 861C242.6 861.8 248.1 861.6 253 861.6C257.9 861.6 264.2 861.1 266.4 861M266 861C268.2 861.1 274.5 861.6 279.4 861.6C284.3 861.6 289.8 861.8 295.4 861C301 860.2 309.9 857.7 312.8 857M219.6 863C221.8 863.5 228.1 865.2 233 866C237.9 866.8 243.4 867.7 249 868C254.6 868.3 263.5 867.7 266.4 867.6M266 867.6C268.9 867.7 277.8 868.3 283.4 868C289 867.7 294.5 866.8 299.4 866C304.3 865.2 310.6 863.5 312.8 863M219.6 863C222.5 863.7 231.4 866 237 867C242.6 868 248.1 868.6 253 869C257.9 869.4 264.2 869.5 266.4 869.6M266 869.6C268.2 869.5 274.5 869.4 279.4 869C284.3 868.6 289.8 868 295.4 867C301 866 309.9 863.7 312.8 863M219.6 879C222.5 878.9 231.4 878.8 237 878.4C242.6 878 248.1 876.9 253 876.4C257.9 875.9 264.2 875.7 266.4 875.6M266 875.6C268.2 875.7 274.5 875.9 279.4 876.4C284.3 876.9 289.8 878 295.4 878.4C301 878.8 309.9 878.9 312.8 879M219.6 879C222.5 879.3 231.4 880.4 237 881C242.6 881.6 248.1 882.2 253 882.4C257.9 882.6 264.2 882.4 266.4 882.4M266 882.4C268.2 882.4 274.5 882.6 279.4 882.4C284.3 882.2 289.8 881.6 295.4 881C301 880.4 309.9 879.3 312.8 879M219.6 896C221.2 894.7 226.1 890.5 229 888C231.9 885.5 234.3 882.9 237 881C239.7 879.1 241.7 877.6 245 876.4C248.3 875.2 253.4 874.5 257 874C260.6 873.5 264.8 873.7 266.4 873.6M266 873.6C267.6 873.7 271.8 873.5 275.4 874C279 874.5 284.1 875.2 287.4 876.4C290.7 877.6 292.7 879.1 295.4 881C298.1 882.9 300.5 885.5 303.4 888C306.3 890.5 311.2 894.7 312.8 896M219.6 896C221.8 897 228.1 900 233 902C237.9 904 243.4 906.5 249 908C254.6 909.5 263.5 910.5 266.4 911M266 911C268.9 910.5 277.8 909.5 283.4 908C289 906.5 294.5 904 299.4 902C304.3 900 310.6 897 312.8 896M219.6 913.4C221.8 912.2 228.1 908.4 233 906C237.9 903.6 243.4 900.7 249 899C254.6 897.3 263.5 896.5 266.4 896M266 896C268.9 896.5 277.8 897.3 283.4 899C289 900.7 294.5 903.6 299.4 906C304.3 908.4 310.6 912.2 312.8 913.4M219.6 913.4C221.8 914.8 228.1 919.1 233 922C237.9 924.9 243.4 928.8 249 931C254.6 933.2 263.5 934.3 266.4 935M266 935C268.9 934.3 277.8 933.2 283.4 931C289 928.8 294.5 924.9 299.4 922C304.3 919.1 310.6 914.8 312.8 913.4M219.6 950.4C221.8 949.5 228.1 946.4 233 945C237.9 943.6 243.4 942.7 249 942C254.6 941.3 263.5 941.2 266.4 941M266 941C268.9 941.2 277.8 941.3 283.4 942C289 942.7 294.5 943.6 299.4 945C304.3 946.4 310.6 949.5 312.8 950.4M219.6 950.4C221.8 951.8 228.1 956.6 233 959C237.9 961.4 243.4 963.7 249 965C254.6 966.3 263.5 966.7 266.4 967M266 967C268.9 966.7 277.8 966.3 283.4 965C289 963.7 294.5 961.4 299.4 959C304.3 956.6 310.6 951.8 312.8 950.4M354.4 823C356.3 823.7 362.1 824.7 366 827C369.9 829.3 374 833.7 378 837C382 840.3 386.3 844.3 390 847C393.7 849.7 398.7 852 400.4 853M354.4 851C357 850.8 364.7 850 370 850C375.3 850 380.9 850.3 386 851C391.1 851.7 398 853.5 400.4 854M354.4 853C357 853.2 364.7 853.7 370 854C375.3 854.3 380.9 854.7 386 855C391.1 855.3 398 855.5 400.4 855.6M354.4 874.4C356.3 874.3 362.1 874.3 366 873.6C369.9 872.9 374 871.8 378 870C382 868.2 386.3 865.2 390 863C393.7 860.8 398.7 858 400.4 857M354.4 886C356.3 885.7 362.1 885.2 366 884.4C369.9 883.6 374 881.9 378 881C382 880.1 386.3 879.5 390 879C393.7 878.5 398.7 878.2 400.4 878M354.4 888.4C357 888.3 364.7 887.7 370 887.6C375.3 887.5 380.9 887.6 386 887.6C391.1 887.6 398 887.6 400.4 887.6M354.4 912C355.7 911.8 358.7 912.2 362 911C365.3 909.8 370 907.2 374 905C378 902.8 382.3 899.8 386 898C389.7 896.2 393.6 895.1 396 894.4C398.4 893.7 399.7 894.1 400.4 894M354.4 918C356.3 918.5 362.1 919.7 366 921C369.9 922.3 374 924.6 378 926C382 927.4 386.3 928.7 390 929.6C393.7 930.5 398.7 931.1 400.4 931.4M89.8 995.5C91.5 995.6 96.6 995.7 100 996.2C103.4 996.7 106.7 997.7 110 998.5C113.3 999.3 116.5 1000.2 120 1000.8C123.5 1001.3 129.3 1001.6 131.2 1001.8M89.8 999C91.5 999.2 96.6 999.5 100 1000C103.4 1000.5 106.7 1001.3 110 1002C113.3 1002.7 117.5 1003.7 120 1004C122.5 1004.3 123.1 1004.2 125 1004C126.9 1003.8 130.2 1003.2 131.2 1003M89.8 1007C91.5 1007 96.6 1006.8 100 1006.8C103.4 1006.8 106.7 1006.8 110 1007C113.3 1007.2 116.5 1007.4 120 1008C123.5 1008.6 129.3 1010.1 131.2 1010.5M89.8 1008C91.5 1008.1 96.6 1008.2 100 1008.5C103.4 1008.8 106.7 1009.3 110 1009.8C113.3 1010.3 116.5 1011 120 1011.5C123.5 1012 129.3 1012.3 131.2 1012.5M89.8 1014C91 1013.9 94.5 1014 97 1013.5C99.5 1013 102.3 1011.7 105 1011C107.7 1010.3 110.3 1009.7 113 1009.5C115.7 1009.3 118 1009.5 121 1010C124 1010.5 129.5 1012.3 131.2 1012.8M89.8 1015.5C91.5 1015.5 96.6 1015.4 100 1015.2C103.4 1015 106.7 1014.8 110 1014.5C113.3 1014.2 116.5 1013.8 120 1013.5C123.5 1013.2 129.3 1013.1 131.2 1013M89.8 1017.5C91.5 1017.6 96.6 1018.1 100 1018.2C103.4 1018.3 107 1018.3 110 1018C113 1017.7 115.5 1017 118 1016.5C120.5 1016 122.8 1015.5 125 1015C127.2 1014.5 130.2 1013.8 131.2 1013.5M89.8 1020.5C91 1020.7 94.5 1021.2 97 1021.8C99.5 1022.4 102.3 1023.4 105 1024C107.7 1024.6 110.3 1025 113 1025.5C115.7 1026 118.7 1026.4 121 1027C123.3 1027.6 125.3 1028.5 127 1029C128.7 1029.5 130.5 1030 131.2 1030.2M89.8 1029C91 1028.9 94.5 1028.8 97 1028.5C99.5 1028.2 102.3 1027.4 105 1027C107.7 1026.6 110.7 1026.2 113 1026C115.3 1025.8 117 1025.7 119 1026C121 1026.3 123 1027.3 125 1028C127 1028.7 130.2 1029.8 131.2 1030.2M89.8 1062C90.5 1060.5 92.5 1056 94 1053C95.5 1050 97.2 1047 99 1044C100.8 1041 103 1037.8 105 1035C107 1032.2 109 1029.4 111 1027C113 1024.6 115 1022.3 117 1020.5C119 1018.7 121.2 1017.2 123 1016C124.8 1014.8 126.6 1014 128 1013.5C129.4 1013 130.7 1012.9 131.2 1012.8M89.8 1062C90.7 1060.8 93.1 1057.3 95 1055C96.9 1052.7 99 1050.1 101 1048C103 1045.9 105 1044.2 107 1042.5C109 1040.8 111 1039.3 113 1038C115 1036.7 117 1035.5 119 1034.5C121 1033.5 123 1032.7 125 1032C127 1031.3 130.2 1030.5 131.2 1030.2M89.8 1062C90.7 1060.9 93.1 1057.7 95 1055.5C96.9 1053.3 99 1050.8 101 1048.8C103 1046.8 105 1045 107 1043.3C109 1041.6 111 1040.1 113 1038.8C115 1037.5 117 1036.2 119 1035.2C121 1034.2 123 1033.4 125 1032.6C127 1031.8 130.2 1030.9 131.2 1030.6M131.2 1001.8C132.8 1001.9 137.4 1002 141 1002.2C144.6 1002.4 149 1002.7 153 1003C157 1003.3 160.9 1003.9 165 1004.2C169.1 1004.5 175.7 1004.9 177.8 1005M131.2 1010.5C132.5 1010.4 136 1010.3 139 1010C142 1009.7 145.7 1009 149 1008.5C152.3 1008 155.7 1007.3 159 1006.8C162.3 1006.3 165.9 1005.8 169 1005.5C172.1 1005.2 176.3 1005.1 177.8 1005M131.2 1012.5C132.8 1012.5 137.4 1012.5 141 1012.8C144.6 1013.1 149 1013.9 153 1014.5C157 1015.1 160.9 1015.7 165 1016.2C169.1 1016.7 175.7 1017.3 177.8 1017.5M131.2 1013.5C132.8 1013.5 137.4 1013.2 141 1013.5C144.6 1013.8 149 1014.4 153 1015C157 1015.6 160.9 1016.5 165 1017C169.1 1017.5 175.7 1018 177.8 1018.2M131.2 1030.2C132.5 1030.1 136.4 1030.2 139 1029.8C141.6 1029.4 144.3 1028.7 147 1028C149.7 1027.3 152.3 1026.3 155 1025.5C157.7 1024.7 160.3 1023.7 163 1023C165.7 1022.3 168.5 1021.6 171 1021.2C173.5 1020.8 176.7 1020.9 177.8 1020.8M131.2 1030.6C132.5 1030.6 136.4 1030.8 139 1030.5C141.6 1030.2 144.3 1029.7 147 1029C149.7 1028.3 152.3 1027.3 155 1026.5C157.7 1025.7 160.3 1024.7 163 1024C165.7 1023.3 168.5 1022.6 171 1022.2C173.5 1021.8 176.7 1021.7 177.8 1021.6M177.8 1005C179.2 1004.5 183 1002.9 186 1002C189 1001.1 192.3 1000.3 196 999.8C199.7 999.3 204 999.2 208 999C212 998.8 217.8 998.8 219.8 998.8M312.6 998.8C314.6 998.8 320.4 998.8 324.4 999C328.4 999.2 332.7 999.3 336.4 999.8C340.1 1000.3 343.4 1001.1 346.4 1002C349.4 1002.9 353.2 1004.5 354.6 1005M177.8 1005C178.8 1005.3 181.6 1006.1 184 1007C186.4 1007.9 189.3 1009.1 192 1010.2C194.7 1011.3 197.3 1012.5 200 1013.5C202.7 1014.5 204.7 1015.3 208 1016.2C211.3 1017.1 217.8 1018.5 219.8 1019M312.6 1019C314.6 1018.5 321.1 1017.1 324.4 1016.2C327.7 1015.3 329.7 1014.5 332.4 1013.5C335.1 1012.5 337.7 1011.3 340.4 1010.2C343.1 1009.1 346 1007.9 348.4 1007C350.8 1006.1 353.6 1005.3 354.6 1005M177.8 1017.5C179.2 1017.2 183.3 1016.7 186 1015.8C188.7 1014.9 191.3 1013.2 194 1012.2C196.7 1011.2 199 1010.3 202 1009.5C205 1008.7 209 1008 212 1007.5C215 1007 218.5 1006.9 219.8 1006.8M312.6 1006.8C313.9 1006.9 317.4 1007 320.4 1007.5C323.4 1008 327.4 1008.7 330.4 1009.5C333.4 1010.3 335.7 1011.2 338.4 1012.2C341.1 1013.2 343.7 1014.9 346.4 1015.8C349.1 1016.7 353.2 1017.2 354.6 1017.5M177.8 1018.2C179.5 1018.3 184.6 1018.6 188 1019C191.4 1019.4 194.7 1020 198 1020.5C201.3 1021 204.4 1021.6 208 1022C211.6 1022.4 217.8 1022.8 219.8 1023M312.6 1023C314.6 1022.8 320.8 1022.4 324.4 1022C328 1021.6 331.1 1021 334.4 1020.5C337.7 1020 341 1019.4 344.4 1019C347.8 1018.6 352.9 1018.3 354.6 1018.2M177.8 1020.8C179.2 1020.8 183.3 1020.4 186 1020.5C188.7 1020.6 191.3 1020.8 194 1021.2C196.7 1021.6 199 1022.2 202 1022.8C205 1023.3 209 1024.1 212 1024.5C215 1024.9 218.5 1024.9 219.8 1025M312.6 1025C313.9 1024.9 317.4 1024.9 320.4 1024.5C323.4 1024.1 327.4 1023.3 330.4 1022.8C333.4 1022.2 335.7 1021.6 338.4 1021.2C341.1 1020.8 343.7 1020.6 346.4 1020.5C349.1 1020.4 353.2 1020.8 354.6 1020.8M177.8 1021.6C178.8 1021.8 181.6 1022.3 184 1023C186.4 1023.7 189.3 1025 192 1026C194.7 1027 197.3 1028.2 200 1029C202.7 1029.8 205.7 1030.4 208 1030.8C210.3 1031.2 212 1031.4 214 1031.5C216 1031.6 218.8 1031.5 219.8 1031.5M312.6 1031.5C313.6 1031.5 316.4 1031.6 318.4 1031.5C320.4 1031.4 322.1 1031.2 324.4 1030.8C326.7 1030.4 329.7 1029.8 332.4 1029C335.1 1028.2 337.7 1027 340.4 1026C343.1 1025 346 1023.7 348.4 1023C350.8 1022.3 353.6 1021.8 354.6 1021.6M177.8 1019C179.5 1019.2 184.3 1019.5 188 1020C191.7 1020.5 196 1021.3 200 1022C204 1022.7 208.7 1023.6 212 1024C215.3 1024.4 218.5 1024.4 219.8 1024.5M312.6 1024.5C313.9 1024.4 317.1 1024.4 320.4 1024C323.7 1023.6 328.4 1022.7 332.4 1022C336.4 1021.3 340.7 1020.5 344.4 1020C348.1 1019.5 352.9 1019.2 354.6 1019M219.8 998.8C221.5 998.6 226.3 997.9 230 997.5C233.7 997.1 238 996.6 242 996.2C246 995.8 250 995.4 254 995.2C258 995 264 994.9 266 994.8M266.4 994.8C268.4 994.9 274.4 995 278.4 995.2C282.4 995.4 286.4 995.8 290.4 996.2C294.4 996.6 298.7 997.1 302.4 997.5C306.1 997.9 310.9 998.6 312.6 998.8M219.8 998.8C221.2 999.1 225.3 1000.2 228 1000.8C230.7 1001.4 233.3 1002 236 1002.2C238.7 1002.4 241.3 1002.3 244 1002C246.7 1001.7 249.3 1000.7 252 1000.2C254.7 999.7 257.7 999.2 260 999C262.3 998.8 265 999 266 999M266.4 999C267.4 999 270.1 998.8 272.4 999C274.7 999.2 277.7 999.7 280.4 1000.2C283.1 1000.7 285.7 1001.7 288.4 1002C291.1 1002.3 293.7 1002.4 296.4 1002.2C299.1 1002 301.7 1001.4 304.4 1000.8C307.1 1000.2 311.2 999.1 312.6 998.8M219.8 1006.8C221.5 1006.9 227 1007.1 230 1007.2C233 1007.3 235.3 1007.8 238 1007.5C240.7 1007.2 243.3 1006 246 1005.5C248.7 1005 250.7 1004.5 254 1004.2C257.3 1004 264 1004 266 1004M266.4 1004C268.4 1004 275.1 1004 278.4 1004.2C281.7 1004.5 283.7 1005 286.4 1005.5C289.1 1006 291.7 1007.2 294.4 1007.5C297.1 1007.8 299.4 1007.3 302.4 1007.2C305.4 1007.1 310.9 1006.9 312.6 1006.8M219.8 1007C221.2 1007.2 225.3 1007.7 228 1008C230.7 1008.3 233.3 1008.8 236 1009C238.7 1009.2 241.3 1009.3 244 1009.5C246.7 1009.7 248.3 1009.9 252 1010C255.7 1010.1 263.7 1010 266 1010M266.4 1010C268.7 1010 276.7 1010.1 280.4 1010C284.1 1009.9 285.7 1009.7 288.4 1009.5C291.1 1009.3 293.7 1009.2 296.4 1009C299.1 1008.8 301.7 1008.3 304.4 1008C307.1 1007.7 311.2 1007.2 312.6 1007M219.8 1019C221.2 1018.5 225.3 1016.9 228 1016C230.7 1015.1 233.3 1014.2 236 1013.5C238.7 1012.8 241.3 1012.2 244 1012C246.7 1011.8 249.7 1012.1 252 1012.5C254.3 1012.9 255.7 1014.1 258 1014.5C260.3 1014.9 264.7 1014.8 266 1014.8M266.4 1014.8C267.7 1014.8 272.1 1014.9 274.4 1014.5C276.7 1014.1 278.1 1012.9 280.4 1012.5C282.7 1012.1 285.7 1011.8 288.4 1012C291.1 1012.2 293.7 1012.8 296.4 1013.5C299.1 1014.2 301.7 1015.1 304.4 1016C307.1 1016.9 311.2 1018.5 312.6 1019M219.8 1023C221.2 1022.8 225 1022.2 228 1022C231 1021.8 234.7 1021.6 238 1021.5C241.3 1021.4 244.7 1021.5 248 1021.5C251.3 1021.5 255 1021.5 258 1021.5C261 1021.5 264.7 1021.2 266 1021.2M266.4 1021.2C267.7 1021.2 271.4 1021.5 274.4 1021.5C277.4 1021.5 281.1 1021.5 284.4 1021.5C287.7 1021.5 291.1 1021.4 294.4 1021.5C297.7 1021.6 301.4 1021.8 304.4 1022C307.4 1022.2 311.2 1022.8 312.6 1023M219.8 1024.5C221.5 1024.4 226.3 1024.1 230 1024C233.7 1023.9 238 1024 242 1023.8C246 1023.6 250 1023.2 254 1023C258 1022.8 264 1022.8 266 1022.8M266.4 1022.8C268.4 1022.8 274.4 1022.8 278.4 1023C282.4 1023.2 286.4 1023.6 290.4 1023.8C294.4 1024 298.7 1023.9 302.4 1024C306.1 1024.1 310.9 1024.4 312.6 1024.5M219.8 1025C221.2 1025.2 225 1025.8 228 1026C231 1026.2 234.7 1026.7 238 1026.5C241.3 1026.3 244.7 1025.5 248 1025C251.3 1024.5 255 1023.8 258 1023.5C261 1023.2 264.7 1023.1 266 1023M266.4 1023C267.7 1023.1 271.4 1023.2 274.4 1023.5C277.4 1023.8 281.1 1024.5 284.4 1025C287.7 1025.5 291.1 1026.3 294.4 1026.5C297.7 1026.7 301.4 1026.2 304.4 1026C307.4 1025.8 311.2 1025.2 312.6 1025M219.8 1031.5C220.8 1031.7 223.6 1032.2 226 1032.5C228.4 1032.8 231.3 1033.2 234 1033.2C236.7 1033.2 239.3 1033 242 1032.5C244.7 1032 247.3 1031.2 250 1030.5C252.7 1029.8 255.3 1029 258 1028.5C260.7 1028 264.7 1027.4 266 1027.2M266.4 1027.2C267.7 1027.4 271.7 1028 274.4 1028.5C277.1 1029 279.7 1029.8 282.4 1030.5C285.1 1031.2 287.7 1032 290.4 1032.5C293.1 1033 295.7 1033.2 298.4 1033.2C301.1 1033.2 304 1032.8 306.4 1032.5C308.8 1032.2 311.6 1031.7 312.6 1031.5M219.8 1029C221.2 1029.1 225.3 1029.8 228 1029.5C230.7 1029.2 233.3 1028.2 236 1027.5C238.7 1026.8 241.3 1025.8 244 1025C246.7 1024.2 248.3 1023.6 252 1023C255.7 1022.4 263.7 1021.5 266 1021.2M266.4 1021.2C268.7 1021.5 276.7 1022.4 280.4 1023C284.1 1023.6 285.7 1024.2 288.4 1025C291.1 1025.8 293.7 1026.8 296.4 1027.5C299.1 1028.2 301.7 1029.2 304.4 1029.5C307.1 1029.8 311.2 1029.1 312.6 1029M354.2 1005C355.8 1004.7 360.4 1003.6 364 1003C367.6 1002.4 372 1001.9 376 1001.5C380 1001.1 383.9 1000.7 388 1000.5C392.1 1000.3 398.7 1000.2 400.8 1000.2M354.2 1005C355.8 1005.2 360.4 1006.1 364 1006.5C367.6 1006.9 372 1007 376 1007.2C380 1007.4 383.9 1007.6 388 1007.8C392.1 1008 398.7 1008.1 400.8 1008.2M354.2 1017C355.8 1016.8 360.4 1016.6 364 1016C367.6 1015.4 372 1014.3 376 1013.5C380 1012.7 383.9 1011.8 388 1011C392.1 1010.2 398.7 1009.3 400.8 1009M354.2 1017.5C356.2 1017.3 362 1016.6 366 1016.5C370 1016.4 374 1016.8 378 1017C382 1017.2 386.2 1017.7 390 1018C393.8 1018.3 399 1018.7 400.8 1018.8M354.2 1019C355.8 1019.2 360.4 1019.6 364 1020C367.6 1020.4 372 1021 376 1021.2C380 1021.5 383.9 1021.5 388 1021.5C392.1 1021.5 398.7 1021.5 400.8 1021.5M354.2 1020.8C355.8 1021 360.4 1021.5 364 1022C367.6 1022.5 372 1023.4 376 1023.8C380 1024.2 383.9 1024.3 388 1024.5C392.1 1024.7 398.7 1024.7 400.8 1024.7M354.2 1021.6C355.8 1021.8 360.4 1022.4 364 1023C367.6 1023.6 372 1024.5 376 1025C380 1025.5 383.9 1025.8 388 1026C392.1 1026.2 398.7 1026.2 400.8 1026.2" fill="none" stroke="#000" stroke-width="1.7" stroke-linejoin="round" stroke-linecap="round"/>
<line x1="131" y1="614.5" x2="131" y2="1098.5" stroke="#000" stroke-width="1.8"/>
<line x1="177.5" y1="614.5" x2="177.5" y2="1098.5" stroke="#000" stroke-width="1.8"/>
<line x1="219" y1="614.5" x2="219" y2="1098.5" stroke="#000" stroke-width="1.8"/>
<line x1="266" y1="614.5" x2="266" y2="1098.5" stroke="#000" stroke-width="1.8"/>
<line x1="312.5" y1="614.5" x2="312.5" y2="1098.5" stroke="#000" stroke-width="1.8"/>
<line x1="354" y1="614.5" x2="354" y2="1098.5" stroke="#000" stroke-width="1.8"/>
<line x1="89.5" y1="1061.3" x2="405.5" y2="1061.3" stroke="#d8202a" stroke-width="1.9" stroke-dasharray="8 8.2"/>
<line x1="419" y1="1061.3" x2="580" y2="1061.3" stroke="#d8202a" stroke-width="1.9" stroke-dasharray="8 8.2"/>
<clipPath id="cpc"><rect x="419.8" y="614.5" width="161" height="484"/></clipPath>
<g clip-path="url(#cpc)">
<path d="M418.7 702C418.9 702.5 419.4 703.8 419.8 705C420.2 706.2 420 707.9 421 709C422 710.1 423.2 710.8 426 711.6C428.8 712.4 433.3 712.9 438 713.6C442.7 714.3 448 715.2 454 716C460 716.8 468.3 717.8 474 718.6C479.7 719.4 485.4 720.1 488 720.6C490.6 721.1 490.6 721 489.6 721.6C488.6 722.2 484.8 723.2 482 724C479.2 724.8 475 725.6 473 726.4C471 727.2 470.8 728.1 470 729C469.2 729.9 469.7 730.8 468 731.6C466.3 732.4 463.3 733 460 734C456.7 735 452 736.3 448 737.6C444 738.9 439.7 740.3 436 741.6C432.3 742.9 428.5 744.4 426 745.6C423.5 746.8 422 748.1 421 749C420 749.9 419.7 750.2 420 751C420.3 751.8 421.7 752.8 423 754C424.3 755.2 426.7 756.7 428 758C429.3 759.3 430.2 760.5 431 762C431.8 763.5 432 765.3 433 767C434 768.7 435.2 770.5 437 772C438.8 773.5 441.5 774.7 444 776C446.5 777.3 450.2 778.6 452 779.6C453.8 780.6 455 781.3 455 782C455 782.7 453 783.3 452 784C451 784.7 449.3 785.3 449 786C448.7 786.7 448.8 787.3 450 788C451.2 788.7 453.7 789.5 456 790.4C458.3 791.3 462.2 792.7 464 793.6C465.8 794.5 467.2 795.1 467 796C466.8 796.9 465.5 798.1 463 799C460.5 799.9 456.2 800.8 452 801.6C447.8 802.4 442 803.1 438 804C434 804.9 430.3 806 428 807C425.7 808 424.4 809 424 810C423.6 811 425.3 812.2 425.6 813C425.9 813.8 424.3 813.8 426 815C427.7 816.2 433.7 818.5 436 820C438.3 821.5 439.2 822.5 440 824C440.8 825.5 440 827.5 441 829C442 830.5 443.2 831.5 446 833C448.8 834.5 453.3 836.2 458 838C462.7 839.8 468.7 842.2 474 844C479.3 845.8 485.7 847.5 490 849C494.3 850.5 497.8 851.8 500 853C502.2 854.2 503.3 855 503 856C502.7 857 500.8 858 498 859C495.2 860 490 861 486 862C482 863 476.8 863.8 474 865C471.2 866.2 469.7 867.7 469 869C468.3 870.3 468.5 871.7 470 873C471.5 874.3 475.7 875.7 478 877C480.3 878.3 483.3 879.9 484 881C484.7 882.1 484.3 882.6 482 883.6C479.7 884.6 474 885.8 470 887C466 888.2 460.3 889.8 458 891C455.7 892.2 455.7 892.8 456 894C456.3 895.2 458.9 896.7 460 898C461.1 899.3 462.6 900.3 462.4 901.6C462.2 902.9 461.4 904.2 459 905.6C456.6 907 451.3 908.4 448 910C444.7 911.6 440.9 913.5 439 915C437.1 916.5 436.4 917.3 436.4 919C436.4 920.7 437.7 923.2 439 925C440.3 926.8 442.8 928.5 444 930C445.2 931.5 446 932.5 446 934C446 935.5 445.2 937.3 444 939C442.8 940.7 441 942.3 439 944C437 945.7 433.5 947.3 432 949C430.5 950.7 430.7 952.3 430 954C429.3 955.7 429 957.3 428 959C427 960.7 425.3 962.3 424 964C422.7 965.7 421.3 967.3 420.4 969C419.5 970.7 419 971.2 418.7 974C418.4 976.8 418.7 983.8 418.7 986C418.7 988.2 418.3 986.8 418.7 987.4C419.1 988 419.6 989 421.2 989.8C422.8 990.6 424.9 991.3 428.4 992C431.9 992.7 436.7 993.5 442.4 994.2C448.1 994.9 455.1 995.5 462.4 996.2C469.7 996.9 479 997.8 486.4 998.6C493.8 999.4 501.5 1000.3 506.6 1001C511.7 1001.7 514.1 1002.1 516.8 1003C519.5 1003.9 520.6 1005.1 523 1006.2C525.4 1007.3 527.6 1008.4 531 1009.6C534.4 1010.8 539.5 1011.9 543.2 1013.2C546.9 1014.5 551 1015.9 553.4 1017.2C555.8 1018.5 557.2 1019.9 557.6 1021C558 1022.1 557.8 1022.8 556 1023.6C554.2 1024.4 551.7 1025.1 546.8 1025.8C541.9 1026.5 533.8 1027.1 526.4 1027.8C519 1028.5 510.2 1029.2 502.2 1030C494.2 1030.8 485.5 1031.6 478.2 1032.4C470.9 1033.2 464.2 1034.1 458.2 1035C452.2 1035.9 446.5 1036.7 442.2 1037.8C437.9 1038.9 434.9 1040.1 432.2 1041.4C429.5 1042.7 427.8 1043.9 426.2 1045.4C424.6 1046.9 423.5 1048.4 422.6 1050.2C421.7 1052 421.2 1054 420.6 1056C420 1058 419 1061 418.7 1062" fill="none" stroke="#000" stroke-width="1.7" stroke-linejoin="round"/>
<path d="M418.7 706C418.9 706.3 419.2 707.2 419.8 708C420.4 708.8 420.3 710 422 711C423.7 712 426.7 713 430 714C433.3 715 438.5 716.1 442 717C445.5 717.9 449.3 718.9 451 719.6C452.7 720.3 453.1 720.3 452.4 721C451.7 721.7 448.4 723.1 447 724C445.6 724.9 444.8 725.4 444 726.4C443.2 727.4 443.3 728.7 442 730C440.7 731.3 438.3 732.5 436 734C433.7 735.5 430.3 737.3 428 739C425.7 740.7 423.3 742.3 422 744C420.7 745.7 420.3 747.8 420 749C419.7 750.2 419.9 750.2 420.4 751C420.9 751.8 421.8 752.8 423 754C424.2 755.2 426.4 756.7 427.6 758C428.8 759.3 429.6 760.5 430.4 762C431.2 763.5 431.5 765.3 432.4 767C433.3 768.7 434.2 770.5 436 772C437.8 773.5 440.7 774.7 443 776C445.3 777.3 448.5 778.7 450 779.6C451.5 780.5 452.2 780.9 452 781.6C451.8 782.3 450.2 783.2 449 784C447.8 784.8 445.3 785.7 445 786.4C444.7 787.1 445.5 787.6 447 788.4C448.5 789.2 451.5 790.1 454 791C456.5 791.9 460.3 793.2 462 794C463.7 794.8 464.6 795.2 464.4 796C464.2 796.8 463.2 798.1 461 799C458.8 799.9 455 800.8 451 801.6C447 802.4 441 803.1 437 804C433 804.9 429.3 806 427 807C424.7 808 423.6 809 423 810C422.4 811 423.3 812.2 423.6 813C423.9 813.8 423.8 813.7 425 815C426.2 816.3 429.8 818.8 431 821C432.2 823.2 430.8 826 432 828C433.2 830 435 831.2 438 833C441 834.8 445.7 837 450 839C454.3 841 459.5 843 464 845C468.5 847 473.8 849.3 477 851C480.2 852.7 482 854 483 855C484 856 484.5 856.1 483 857C481.5 857.9 478.2 859.3 474 860.4C469.8 861.5 463 862.4 458 863.6C453 864.8 448 866 444 867.6C440 869.2 436.4 870.9 434 873C431.6 875.1 430.6 877.5 429.6 880C428.6 882.5 428.2 885.3 428 888C427.8 890.7 428.2 893.7 428.4 896C428.6 898.3 429.4 899.7 429 902C428.6 904.3 426.9 907.3 426 910C425.1 912.7 424.1 915.3 423.6 918C423.1 920.7 422.9 923.3 423 926C423.1 928.7 424 931.3 424 934C424 936.7 423.5 939 423 942C422.5 945 421.5 948.7 421 952C420.5 955.3 420.2 959 419.8 962C419.4 965 418.9 968.7 418.7 970" fill="none" stroke="#7dc242" stroke-width="1.65" stroke-linejoin="round"/>
<path d="M418.7 705C418.9 705.3 419.2 706.1 419.8 707C420.4 707.9 420.3 709.3 422 710.4C423.7 711.5 426.3 712.5 430 713.6C433.7 714.7 439.8 715.9 444 717C448.2 718.1 453 719.2 455 720C457 720.8 456.8 720.9 456 721.6C455.2 722.3 451.5 723.5 450 724.4C448.5 725.3 447.5 726 447 727C446.5 728 447.8 729.2 447 730.4C446.2 731.6 444.2 733 442 734.4C439.8 735.8 436.7 737.4 434 739C431.3 740.6 428.2 742.5 426 744C423.8 745.5 422.2 746.7 421 748C419.8 749.3 418.8 750 418.7 752C418.6 754 419.8 757.3 420.4 760C420.9 762.7 421.5 765 422 768C422.5 771 423.5 775.3 423.6 778C423.7 780.7 422.7 781.7 422.4 784C422.1 786.3 421.7 789.3 421.6 792C421.5 794.7 421.8 797.3 422 800C422.2 802.7 422.7 805.8 423 808C423.3 810.2 423.4 811.7 423.6 813C423.8 814.3 423.3 814.2 424 816C424.7 817.8 427 821.3 428 824C429 826.7 428.7 829.3 430 832C431.3 834.7 434.2 837.5 436 840C437.8 842.5 440 845.2 441 847C442 848.8 442.3 849.7 442 851C441.7 852.3 439.7 853.7 439 855C438.3 856.3 437.5 857.5 438 859C438.5 860.5 440 862.3 442 864C444 865.7 447 867.3 450 869C453 870.7 456.7 872.4 460 874C463.3 875.6 467.6 877.1 470 878.4C472.4 879.7 474.4 880.7 474.4 881.6C474.4 882.5 472.7 883 470 884C467.3 885 461.3 886.4 458 887.6C454.7 888.8 451.6 889.9 450 891C448.4 892.1 448.2 892.8 448.4 894C448.6 895.2 450.3 896.7 451 898C451.7 899.3 452.9 900.6 452.4 902C451.9 903.4 450.2 904.9 448 906.4C445.8 907.9 441.4 909.5 439 911C436.6 912.5 434.6 914.1 433.6 915.6C432.6 917.1 432.4 918.3 433 920C433.6 921.7 435.8 924 437 926C438.2 928 439.6 930 440 932C440.4 934 440.4 936 439.6 938C438.8 940 436.7 942 435 944C433.3 946 430.7 948 429.6 950C428.5 952 429.1 954 428.4 956C427.7 958 426.7 960.2 425.6 962C424.5 963.8 422.8 965.3 421.6 967C420.5 968.7 419.2 967.5 418.7 972C418.2 976.5 418.4 987 418.7 994C419 1001 420.2 1007.3 420.4 1014C420.6 1020.7 419.9 1030.7 419.8 1034" fill="none" stroke="#3a53c5" stroke-width="1.65" stroke-linejoin="round"/>
<path d="M418.7 844C418.9 849 419.7 862.3 420 874C420.3 885.7 420.6 902.3 420.6 914C420.6 925.7 420.3 935.3 420 944C419.7 952.7 418.9 959.2 418.7 966C418.5 972.8 418.7 981.4 418.7 985C418.7 988.6 418.3 986.6 418.7 987.4C419.1 988.2 419.4 989.2 421 990C422.6 990.8 424.5 991.6 428 992.4C431.5 993.2 436.3 993.9 442 994.6C447.7 995.3 454.7 995.9 462 996.6C469.3 997.3 478.7 998.2 486 999C493.3 999.8 501 1000.7 506 1001.4C511 1002.1 513.3 1002.5 516 1003.4C518.7 1004.3 519.7 1005.5 522 1006.6C524.3 1007.7 526.7 1008.8 530 1010C533.3 1011.2 538.3 1012.4 542 1013.6C545.7 1014.8 549.7 1016.2 552 1017.4C554.3 1018.6 555.6 1020 556 1021C556.4 1022 556.1 1022.7 554.4 1023.4C552.7 1024.1 550.7 1024.7 546 1025.4C541.3 1026.1 533.3 1026.7 526 1027.4C518.7 1028.1 510 1028.8 502 1029.6C494 1030.4 485.3 1031.2 478 1032C470.7 1032.8 464 1033.7 458 1034.6C452 1035.5 446.3 1036.3 442 1037.4C437.7 1038.5 434.7 1039.7 432 1041C429.3 1042.3 427.6 1043.5 426 1045C424.4 1046.5 423.3 1048.2 422.4 1050C421.5 1051.8 421 1054 420.4 1056C419.8 1058 419 1061 418.7 1062" fill="none" stroke="#e0202a" stroke-width="1.65" stroke-linejoin="round"/>
</g>
<line x1="90" y1="614.5" x2="90" y2="1098.5" stroke="#000" stroke-width="1.9"/>
<line x1="401.5" y1="614.5" x2="401.5" y2="1098.5" stroke="#000" stroke-width="1.8"/>
<line x1="82.5" y1="614.5" x2="409" y2="614.5" stroke="#000" stroke-width="1.9"/>
<line x1="85.5" y1="1098.5" x2="406" y2="1098.5" stroke="#000" stroke-width="1.9"/>
<line x1="419" y1="614.5" x2="419" y2="1098.5" stroke="#000" stroke-width="1.9"/>
<line x1="580" y1="613.5" x2="580" y2="1099.5" stroke="#000" stroke-width="1.9"/>
<line x1="411.5" y1="614.5" x2="580" y2="614.5" stroke="#000" stroke-width="1.9"/>
<line x1="414.5" y1="1098.5" x2="580" y2="1098.5" stroke="#000" stroke-width="1.9"/>
<line x1="82.5" y1="614.5" x2="90" y2="614.5" stroke="#000" stroke-width="1.9"/>
<line x1="401.5" y1="614.5" x2="409" y2="614.5" stroke="#000" stroke-width="1.9"/>
<line x1="411.5" y1="614.5" x2="419" y2="614.5" stroke="#000" stroke-width="1.9"/>
<text x="78.8" y="623.9" font-size="32" text-anchor="end">30</text>
<line x1="85.5" y1="651.7" x2="90" y2="651.7" stroke="#000" stroke-width="1.9"/>
<line x1="401.5" y1="651.7" x2="406" y2="651.7" stroke="#000" stroke-width="1.9"/>
<line x1="414.5" y1="651.7" x2="419" y2="651.7" stroke="#000" stroke-width="1.9"/>
<line x1="82.5" y1="689" x2="90" y2="689" stroke="#000" stroke-width="1.9"/>
<line x1="401.5" y1="689" x2="409" y2="689" stroke="#000" stroke-width="1.9"/>
<line x1="411.5" y1="689" x2="419" y2="689" stroke="#000" stroke-width="1.9"/>
<text x="78.8" y="698.4" font-size="32" text-anchor="end">25</text>
<line x1="85.5" y1="726.2" x2="90" y2="726.2" stroke="#000" stroke-width="1.9"/>
<line x1="401.5" y1="726.2" x2="406" y2="726.2" stroke="#000" stroke-width="1.9"/>
<line x1="414.5" y1="726.2" x2="419" y2="726.2" stroke="#000" stroke-width="1.9"/>
<line x1="82.5" y1="763.4" x2="90" y2="763.4" stroke="#000" stroke-width="1.9"/>
<line x1="401.5" y1="763.4" x2="409" y2="763.4" stroke="#000" stroke-width="1.9"/>
<line x1="411.5" y1="763.4" x2="419" y2="763.4" stroke="#000" stroke-width="1.9"/>
<text x="78.8" y="772.8" font-size="32" text-anchor="end">20</text>
<line x1="85.5" y1="800.7" x2="90" y2="800.7" stroke="#000" stroke-width="1.9"/>
<line x1="401.5" y1="800.7" x2="406" y2="800.7" stroke="#000" stroke-width="1.9"/>
<line x1="414.5" y1="800.7" x2="419" y2="800.7" stroke="#000" stroke-width="1.9"/>
<line x1="82.5" y1="837.9" x2="90" y2="837.9" stroke="#000" stroke-width="1.9"/>
<line x1="401.5" y1="837.9" x2="409" y2="837.9" stroke="#000" stroke-width="1.9"/>
<line x1="411.5" y1="837.9" x2="419" y2="837.9" stroke="#000" stroke-width="1.9"/>
<text x="78.8" y="847.3" font-size="32" text-anchor="end">15</text>
<line x1="85.5" y1="875.1" x2="90" y2="875.1" stroke="#000" stroke-width="1.9"/>
<line x1="401.5" y1="875.1" x2="406" y2="875.1" stroke="#000" stroke-width="1.9"/>
<line x1="414.5" y1="875.1" x2="419" y2="875.1" stroke="#000" stroke-width="1.9"/>
<line x1="82.5" y1="912.3" x2="90" y2="912.3" stroke="#000" stroke-width="1.9"/>
<line x1="401.5" y1="912.3" x2="409" y2="912.3" stroke="#000" stroke-width="1.9"/>
<line x1="411.5" y1="912.3" x2="419" y2="912.3" stroke="#000" stroke-width="1.9"/>
<text x="78.8" y="921.7" font-size="32" text-anchor="end">10</text>
<line x1="85.5" y1="949.6" x2="90" y2="949.6" stroke="#000" stroke-width="1.9"/>
<line x1="401.5" y1="949.6" x2="406" y2="949.6" stroke="#000" stroke-width="1.9"/>
<line x1="414.5" y1="949.6" x2="419" y2="949.6" stroke="#000" stroke-width="1.9"/>
<line x1="82.5" y1="986.8" x2="90" y2="986.8" stroke="#000" stroke-width="1.9"/>
<line x1="401.5" y1="986.8" x2="409" y2="986.8" stroke="#000" stroke-width="1.9"/>
<line x1="411.5" y1="986.8" x2="419" y2="986.8" stroke="#000" stroke-width="1.9"/>
<text x="78.8" y="996.2" font-size="32" text-anchor="end">5</text>
<line x1="85.5" y1="1024" x2="90" y2="1024" stroke="#000" stroke-width="1.9"/>
<line x1="401.5" y1="1024" x2="406" y2="1024" stroke="#000" stroke-width="1.9"/>
<line x1="414.5" y1="1024" x2="419" y2="1024" stroke="#000" stroke-width="1.9"/>
<line x1="82.5" y1="1061.3" x2="90" y2="1061.3" stroke="#000" stroke-width="1.9"/>
<line x1="401.5" y1="1061.3" x2="409" y2="1061.3" stroke="#000" stroke-width="1.9"/>
<line x1="411.5" y1="1061.3" x2="419" y2="1061.3" stroke="#000" stroke-width="1.9"/>
<text x="78.8" y="1070.7" font-size="32" text-anchor="end">0</text>
<line x1="85.5" y1="1098.5" x2="90" y2="1098.5" stroke="#000" stroke-width="1.9"/>
<line x1="401.5" y1="1098.5" x2="406" y2="1098.5" stroke="#000" stroke-width="1.9"/>
<line x1="414.5" y1="1098.5" x2="419" y2="1098.5" stroke="#000" stroke-width="1.9"/>
<text x="419" y="1129.5" font-size="32" text-anchor="middle">0</text>
<line x1="488" y1="1098.5" x2="488" y2="1091" stroke="#000" stroke-width="1.9"/>
<text x="488" y="1129.5" font-size="32" text-anchor="middle">3</text>
<line x1="557" y1="1098.5" x2="557" y2="1091" stroke="#000" stroke-width="1.9"/>
<text x="557" y="1129.5" font-size="32" text-anchor="middle">6</text>
<line x1="453.5" y1="1098.5" x2="453.5" y2="1094" stroke="#000" stroke-width="1.9"/>
<line x1="522.5" y1="1098.5" x2="522.5" y2="1094" stroke="#000" stroke-width="1.9"/>
<text x="92" y="1129.5" font-size="32" text-anchor="middle">Γ</text>
<text x="131" y="1129.5" font-size="32" text-anchor="middle">Z</text>
<text x="177.5" y="1129.5" font-size="32" text-anchor="middle">T</text>
<text x="219" y="1129.5" font-size="32" text-anchor="middle">Y</text>
<text x="266" y="1129.5" font-size="32" text-anchor="middle">S</text>
<text x="312.5" y="1129.5" font-size="32" text-anchor="middle">X</text>
<text x="354" y="1129.5" font-size="32" text-anchor="middle">U</text>
<text x="399.5" y="1129.5" font-size="32" text-anchor="middle">R</text>
<text x="23.3" y="863" font-size="32.5" text-anchor="middle" transform="rotate(-90 23.3 863)">Frequency(THz)</text>
<text x="94.5" y="651.5" font-size="30.5" text-anchor="start">(c)</text>
<line x1="489" y1="670.5" x2="532.5" y2="670.5" stroke="#000" stroke-width="1.7"/>
<text x="537.5" y="676.8" font-size="19" text-anchor="start">Total</text>
<line x1="489" y1="694.5" x2="532.5" y2="694.5" stroke="#e0202a" stroke-width="1.7"/>
<text x="537.5" y="700.8" font-size="19" text-anchor="start">Th</text>
<line x1="489" y1="718" x2="532.5" y2="718" stroke="#7dc242" stroke-width="1.7"/>
<text x="537.5" y="724.3" font-size="19" text-anchor="start">B</text>
<line x1="489" y1="742" x2="532.5" y2="742" stroke="#3a53c5" stroke-width="1.7"/>
<text x="537.5" y="748.3" font-size="19" text-anchor="start">C</text>
<path d="M803 754C805 754.7 811 757.2 815 758C819 758.8 823 759.5 827 759C831 758.5 835.3 756.5 839 755C842.7 753.5 845.8 751.2 849 750C852.2 748.8 856.5 748.3 858 748M803 759C805 759.8 811 762 815 764C819 766 823.7 769.5 827 771C830.3 772.5 831.7 773 835 773C838.3 773 843.2 771.5 847 771C850.8 770.5 856.2 770.2 858 770M803 760C805 761.7 811 765.3 815 770C819 774.7 823 781.7 827 788C831 794.3 835.3 802 839 808C842.7 814 845.8 819.8 849 824C852.2 828.2 856.5 831.5 858 833M803 830C805 829.7 810.3 828.8 815 828C819.7 827.2 825.7 825.7 831 825C836.3 824.3 842.5 824.1 847 824C851.5 823.9 856.2 824.3 858 824.4M803 838C805.7 837.8 813.7 837.3 819 837C824.3 836.7 830.3 836.1 835 836C839.7 835.9 843.2 836.2 847 836.4C850.8 836.6 856.2 836.9 858 837M803 850C804.3 849 808.3 846.7 811 844C813.7 841.3 816.3 836.8 819 834C821.7 831.2 824.7 828.3 827 827C829.3 825.7 831 825.3 833 826C835 826.7 836.7 828 839 831C841.3 834 844.3 839.8 847 844C849.7 848.2 853.2 853.7 855 856C856.8 858.3 857.5 857.7 858 858M803 855.6C805.7 855.3 813.7 854.8 819 854C824.3 853.2 830.3 851.9 835 851C839.7 850.1 843.2 848.9 847 848.4C850.8 847.9 856.2 848.1 858 848M803 857C805 857.5 811 859.2 815 860C819 860.8 823.7 861.8 827 862C830.3 862.2 832.3 862 835 861C837.7 860 840.3 858.2 843 856C845.7 853.8 848.5 850.5 851 848C853.5 845.5 856.8 842.2 858 841M803 858C805 859 811 862 815 864C819 866 823 868.8 827 870C831 871.2 835.3 871.2 839 871C842.7 870.8 845.8 869.7 849 869C852.2 868.3 856.5 867.3 858 867M803 888C805 887.5 811 886.5 815 885C819 883.5 823 881.2 827 879C831 876.8 835.3 873.6 839 872C842.7 870.4 845.8 869.9 849 869.6C852.2 869.3 856.5 869.9 858 870M803 924C805 922 811 916.3 815 912C819 907.7 823 902.7 827 898C831 893.3 835.3 887.7 839 884C842.7 880.3 845.8 877.7 849 876C852.2 874.3 856.5 874.3 858 874M803 924C805 923.2 811 921.7 815 919C819 916.3 823 912.5 827 908C831 903.5 835.3 896.3 839 892C842.7 887.7 845.8 884 849 882C852.2 880 856.5 880.3 858 880M858 748C859.5 748.3 863.5 748.8 867 750C870.5 751.2 875.2 753.7 879 755C882.8 756.3 887.8 757.5 889.6 758M858 770C859.5 770.5 864.2 771 867 773C869.8 775 872.3 779 875 782C877.7 785 880.6 788.7 883 791C885.4 793.3 888.5 795.2 889.6 796M858 824.4C859.5 824.4 864.2 824.6 867 824.4C869.8 824.2 872.7 824.1 875 823C877.3 821.9 878.6 820.2 881 818C883.4 815.8 888.2 811 889.6 809.6M858 833C859.2 832.7 862.5 831.8 865 831C867.5 830.2 870.3 828.3 873 828C875.7 827.7 878.2 828.7 881 829C883.8 829.3 888.2 829.8 889.6 830M858 837C859.5 836.5 863.5 835 867 834C870.5 833 875.2 831.7 879 831C882.8 830.3 887.8 830.2 889.6 830M858 841C859.5 840.5 863.5 839 867 838C870.5 837 875.2 835.7 879 835C882.8 834.3 887.8 834.2 889.6 834M858 848C859.5 848 863.5 848.5 867 848C870.5 847.5 875.2 845.7 879 845C882.8 844.3 887.8 844.2 889.6 844M858 858C859.5 858.5 863.5 859.7 867 861C870.5 862.3 875.2 865 879 866C882.8 867 887.8 866.8 889.6 867M858 867C859.5 866.8 863.5 865.7 867 866C870.5 866.3 875.2 868.2 879 869C882.8 869.8 887.8 870.7 889.6 871M858 870C860.2 870.2 866.8 870.7 871 871C875.2 871.3 879.9 871.8 883 872C886.1 872.2 888.5 872 889.6 872M858 874C859.5 874.2 863.5 874.3 867 875C870.5 875.7 875.2 877.7 879 878C882.8 878.3 887.8 877.2 889.6 877M858 880C859.5 880 863.5 880.2 867 880C870.5 879.8 875.2 879 879 879C882.8 879 887.8 879.8 889.6 880M889.6 758C892.5 757.8 902.1 756.8 907 757C911.9 757.2 915.3 758.3 919 759C922.7 759.7 924.8 761.1 929 761C933.2 760.9 941.5 758.8 944 758.4M889.6 796C891.2 795.3 895.4 794.7 899 792C902.6 789.3 907 784 911 780C915 776 919.3 770.7 923 768C926.7 765.3 929.5 764.5 933 764C936.5 763.5 942.2 764.8 944 765M889.6 809.6C891.2 809 895.4 808.3 899 806C902.6 803.7 907 799.2 911 796C915 792.8 919.7 788.7 923 787C926.3 785.3 927.5 785.3 931 785.6C934.5 785.9 941.8 788.4 944 789M889.6 830C890.8 830.5 894.8 831.8 897 833C899.2 834.2 901.3 836.7 903 837C904.7 837.3 905 836.8 907 835C909 833.2 911.7 829.5 915 826C918.3 822.5 923 817.3 927 814C931 810.7 936.2 807.5 939 806C941.8 804.5 943.2 805.2 944 805M889.6 830C892.5 829.7 901.4 828.5 907 828C912.6 827.5 916.8 827 923 827C929.2 827 940.5 827.8 944 828M889.6 834C892.5 833.7 901.4 832.2 907 832C912.6 831.8 916.8 832.7 923 833C929.2 833.3 940.5 833.8 944 834M889.6 844C891.8 844.5 898.8 845.7 903 847C907.2 848.3 911 850.2 915 852C919 853.8 923 856.5 927 858C931 859.5 936.2 860.5 939 861C941.8 861.5 943.2 861 944 861M889.6 871C890.5 869.8 893.1 866.8 895 864C896.9 861.2 899.3 856 901 854C902.7 852 903.3 851.8 905 852C906.7 852.2 908.7 853 911 855C913.3 857 915.7 861 919 864C922.3 867 926.8 871 931 873C935.2 875 941.8 875.5 944 876M889.6 867C891.8 867.2 898.8 867.3 903 868C907.2 868.7 911 869.7 915 871C919 872.3 923 875 927 876C931 877 936.2 877 939 877C941.8 877 943.2 876.2 944 876M889.6 872C891.8 872.2 898.8 872.3 903 873C907.2 873.7 911 874.3 915 876C919 877.7 923 880.7 927 883C931 885.3 936.2 888.7 939 890C941.8 891.3 943.2 890.8 944 891M889.6 877C891.2 878.2 895.4 881.2 899 884C902.6 886.8 907 891 911 894C915 897 919 899.8 923 902C927 904.2 931.5 906 935 907C938.5 908 942.5 907.8 944 908M889.6 880C891.2 881.7 895.4 886 899 890C902.6 894 907 900.2 911 904C915 907.8 919 910.6 923 913C927 915.4 931.5 917.2 935 918.4C938.5 919.6 942.5 919.7 944 920M944 758.4C945.8 759 951.2 760.4 955 762C958.8 763.6 963 766.6 967 768C971 769.4 974.4 770 979 770.4C983.6 770.8 992 770.4 994.6 770.4M944 765C945.8 765 951.2 765.8 955 765C958.8 764.2 963 762 967 760C971 758 975.7 754.8 979 753C982.3 751.2 984.4 749.8 987 749C989.6 748.2 993.3 748.2 994.6 748M944 789C945.8 789.5 951.2 789.5 955 792C958.8 794.5 963.7 800 967 804C970.3 808 972.3 812 975 816C977.7 820 979.7 824.7 983 828C986.3 831.3 992.7 834.7 994.6 836M944 805C946.5 804.8 955.2 803.7 959 804C962.8 804.3 964.3 804.3 967 807C969.7 809.7 972.3 814.8 975 820C977.7 825.2 980.3 832.3 983 838C985.7 843.7 989.1 850.7 991 854C992.9 857.3 994 857.3 994.6 858M944 828C946.5 827.8 953.8 827.5 959 827C964.2 826.5 969.1 825.5 975 825C980.9 824.5 991.3 824.2 994.6 824M944 834C946.5 834.2 953.8 834.7 959 835C964.2 835.3 969.1 835.7 975 836C980.9 836.3 991.3 836.8 994.6 837M944 861C945.8 860.7 951.2 860.2 955 859C958.8 857.8 963 855.5 967 854C971 852.5 974.4 851 979 850C983.6 849 992 848.3 994.6 848M944 876C945.8 875.7 951.2 875.2 955 874C958.8 872.8 963 871 967 869C971 867 975.7 864.8 979 862C982.3 859.2 984.4 855.5 987 852C989.6 848.5 993.3 842.8 994.6 841M944 876C946.5 875.8 953.8 875.8 959 875C964.2 874.2 969.1 872.3 975 871C980.9 869.7 991.3 867.7 994.6 867M944 891C945.8 890.5 951.2 889.8 955 888C958.8 886.2 963 882.5 967 880C971 877.5 974.4 874.7 979 873C983.6 871.3 992 870.5 994.6 870M944 908C945.8 907.5 951.2 907 955 905C958.8 903 963 899.5 967 896C971 892.5 975.7 887.2 979 884C982.3 880.8 984.4 878.7 987 877C989.6 875.3 993.3 874.5 994.6 874M944 920C945.8 919.7 951.2 919.7 955 918C958.8 916.3 963 914 967 910C971 906 975.7 898.3 979 894C982.3 889.7 984.4 886.3 987 884C989.6 881.7 993.3 880.7 994.6 880M994.4 748C996.3 748.6 1002.4 750.3 1006 751.6C1009.6 752.9 1012.5 754.9 1016 756C1019.5 757.1 1025.2 757.7 1027 758M994.4 770.4C995.7 770.8 999.4 771.4 1002 773C1004.6 774.6 1007.3 777.2 1010 780C1012.7 782.8 1015.2 787.3 1018 790C1020.8 792.7 1025.5 795 1027 796M994.4 824C995.7 824.1 999.4 824.7 1002 824.4C1004.6 824.1 1007.3 823.5 1010 822.4C1012.7 821.3 1015.2 820.1 1018 818C1020.8 815.9 1025.5 811 1027 809.6M994.4 833C995.3 832.7 997.7 831.8 1000 831C1002.3 830.2 1005.3 828.3 1008 828C1010.7 827.7 1012.8 828.7 1016 829C1019.2 829.3 1025.2 829.8 1027 830M994.4 837C996.3 836.4 1002.4 834.6 1006 833.6C1009.6 832.6 1012.5 831.6 1016 831C1019.5 830.4 1025.2 830.2 1027 830M994.4 841C996.3 840.5 1002.4 839 1006 838C1009.6 837 1012.5 835.7 1016 835C1019.5 834.3 1025.2 834.2 1027 834M994.4 848C996.3 847.9 1002.4 848.2 1006 847.6C1009.6 847 1012.5 845.1 1016 844.4C1019.5 843.7 1025.2 843.7 1027 843.6M994.4 858C995.7 858.5 998.7 859.7 1002 861C1005.3 862.3 1009.8 865 1014 866C1018.2 867 1024.8 866.8 1027 867M994.4 867C996.3 866.8 1002.4 865.7 1006 866C1009.6 866.3 1012.5 868.2 1016 869C1019.5 869.8 1025.2 870.7 1027 871M994.4 870C997 870.2 1004.6 870.7 1010 871C1015.4 871.3 1024.2 871.8 1027 872M994.4 874C996.3 874.3 1002.4 874.9 1006 875.6C1009.6 876.3 1012.5 877.8 1016 878C1019.5 878.2 1025.2 877.2 1027 877M994.4 880C996.3 880 1002.4 880.2 1006 880C1009.6 879.8 1012.5 879 1016 879C1019.5 879 1025.2 879.8 1027 880M1027 758C1029.5 757.8 1037.5 756.5 1042 756.6C1046.5 756.7 1050.3 757.7 1054 758.4C1057.7 759.1 1060.7 760.9 1064 761C1067.3 761.1 1071.1 759.4 1074 759C1076.9 758.6 1080.3 758.5 1081.6 758.4M1027 796C1028.5 795.3 1032.5 794.8 1036 792C1039.5 789.2 1044.3 783 1048 779C1051.7 775 1055 770.5 1058 768C1061 765.5 1062.1 764.5 1066 764C1069.9 763.5 1079 764.8 1081.6 765M1027 809.6C1028.5 809 1032.5 808.3 1036 806C1039.5 803.7 1044.3 799 1048 796C1051.7 793 1055 789.8 1058 788C1061 786.2 1063.3 785.3 1066 785C1068.7 784.7 1071.4 785.8 1074 786.4C1076.6 787 1080.3 788.1 1081.6 788.4M1027 830C1028.2 830.4 1031.8 831.2 1034 832.4C1036.2 833.6 1038.3 836.4 1040 837C1041.7 837.6 1042 837.8 1044 836C1046 834.2 1048.7 829.7 1052 826C1055.3 822.3 1060 817.3 1064 814C1068 810.7 1073.1 807.5 1076 806C1078.9 804.5 1080.7 805.2 1081.6 805M1027 830C1029.8 829.7 1038.5 828.5 1044 828C1049.5 827.5 1053.7 827.1 1060 827C1066.3 826.9 1078 827.5 1081.6 827.6M1027 834C1029.8 833.7 1038.5 832.3 1044 832C1049.5 831.7 1053.7 832.1 1060 832.4C1066.3 832.7 1078 833.4 1081.6 833.6M1027 843.6C1028.8 844 1034.2 844.6 1038 846C1041.8 847.4 1046 850 1050 852C1054 854 1058 856.5 1062 858C1066 859.5 1070.7 860.4 1074 861C1077.3 861.6 1080.3 861.5 1081.6 861.6M1027 871C1027.8 869.8 1030.2 866.8 1032 864C1033.8 861.2 1036.3 856 1038 854C1039.7 852 1040.7 851.8 1042.4 852C1044.1 852.2 1045.7 853 1048 855C1050.3 857 1052.7 861 1056 864C1059.3 867 1063.7 871 1068 873C1072.3 875 1079.3 875.5 1081.6 876M1027 867C1029.2 867.2 1035.8 867.3 1040 868C1044.2 868.7 1048 869.7 1052 871C1056 872.3 1060 875 1064 876C1068 877 1073.1 877 1076 877C1078.9 877 1080.7 876.2 1081.6 876M1027 872C1029.2 872.2 1035.8 872.3 1040 873C1044.2 873.7 1048 874.3 1052 876C1056 877.7 1060 880.7 1064 883C1068 885.3 1073.1 888.7 1076 890C1078.9 891.3 1080.7 890.8 1081.6 891M1027 877C1028.5 878.2 1032.5 881.2 1036 884C1039.5 886.8 1044 891 1048 894C1052 897 1056 899.8 1060 902C1064 904.2 1068.4 906 1072 907C1075.6 908 1080 907.8 1081.6 908M1027 880C1028.5 881.7 1032.5 886 1036 890C1039.5 894 1044 900.2 1048 904C1052 907.8 1056 910.6 1060 913C1064 915.4 1068.4 917.2 1072 918.4C1075.6 919.6 1080 919.7 1081.6 920M1081.6 758.4C1084.3 758.3 1092.6 758.1 1098 758C1103.4 757.9 1111.3 758 1114 758M1081.6 765C1084.3 765.1 1092.6 765.6 1098 765.6C1103.4 765.6 1111.3 765.1 1114 765M1081.6 788.4C1082.7 788 1085.6 787.9 1088 786C1090.4 784.1 1093.3 780 1096 777C1098.7 774 1101 770.2 1104 768C1107 765.8 1112.3 764.7 1114 764M1081.6 805C1083 806.2 1087.3 808.8 1090 812C1092.7 815.2 1095.3 820 1098 824C1100.7 828 1103.3 832.8 1106 836C1108.7 839.2 1112.7 841.8 1114 843M1081.6 827.6C1083.7 827.3 1089.9 826.6 1094 826C1098.1 825.4 1102.7 824.5 1106 824C1109.3 823.5 1112.7 823.2 1114 823M1081.6 833.6C1084.3 833.5 1092.6 833.2 1098 833C1103.4 832.8 1111.3 832.5 1114 832.4M1081.6 861.6C1083.7 861.3 1089.9 860.6 1094 860C1098.1 859.4 1102.7 858.7 1106 858C1109.3 857.3 1112.7 856.3 1114 856M1081.6 876C1083.7 875.5 1089.9 874.3 1094 873C1098.1 871.7 1102.7 869.2 1106 868C1109.3 866.8 1112.7 866.3 1114 866M1081.6 876C1084.3 876.3 1092.6 877.2 1098 877.6C1103.4 878 1111.3 878.3 1114 878.4M1081.6 891C1083 890.2 1087.3 888.5 1090 886C1092.7 883.5 1095.3 879.7 1098 876C1100.7 872.3 1103.3 868 1106 864C1108.7 860 1112.7 854 1114 852M1081.6 908C1083 908.3 1087.3 909 1090 910C1092.7 911 1095.3 913 1098 914C1100.7 915 1103.3 915.6 1106 916C1108.7 916.4 1112.7 916.3 1114 916.4M1081.6 920C1083 919.9 1087.3 919.9 1090 919.6C1092.7 919.3 1095.3 918.5 1098 918C1100.7 917.5 1103.3 916.7 1106 916.4C1108.7 916.1 1112.7 916.4 1114 916.4M803 976C805 976.4 811 977.7 815 978.6C819 979.5 823.7 981.2 827 981.4C830.3 981.6 832 981.1 835 980C838 978.9 842 976.3 845 975C848 973.7 850.8 972.6 853 972C855.2 971.4 857.2 971.5 858 971.4M803 999C805 998.6 811 997.7 815 996.6C819 995.5 823.7 993 827 992.6C830.3 992.2 831.7 993 835 994C838.3 995 843.2 997.5 847 998.6C850.8 999.7 856.2 1000.3 858 1000.6M803 1015C805.7 1015 813.7 1015.1 819 1015C824.3 1014.9 828.5 1014.7 835 1014.6C841.5 1014.5 854.2 1014.6 858 1014.6M803 1062C804 1058.5 806.7 1048.2 809 1041C811.3 1033.8 814.3 1025.7 817 1019C819.7 1012.3 822.3 1006.2 825 1001C827.7 995.8 830.3 991.6 833 988C835.7 984.4 838.3 981.5 841 979.4C843.7 977.3 846.2 976.2 849 975.4C851.8 974.6 856.5 974.7 858 974.6M803 1062C804.3 1059.2 808.3 1050.2 811 1045C813.7 1039.8 816.3 1035.2 819 1031C821.7 1026.8 824.3 1023.2 827 1020C829.7 1016.8 832.3 1014.2 835 1012C837.7 1009.8 840.3 1007.9 843 1006.6C845.7 1005.3 848.5 1004.6 851 1004C853.5 1003.4 856.8 1003.2 858 1003M803 1062C804.3 1059.3 808.3 1050.8 811 1046C813.7 1041.2 816.3 1036.8 819 1033C821.7 1029.2 824.3 1025.8 827 1023C829.7 1020.2 832.3 1017.8 835 1016C837.7 1014.2 840.3 1013 843 1012C845.7 1011 848.5 1010.4 851 1010C853.5 1009.6 856.8 1009.5 858 1009.4M858 971.4C859.5 971.7 863.5 972 867 973C870.5 974 875.2 976.2 879 977.4C882.8 978.6 887.8 979.6 889.6 980M858 974.6C859.5 974.7 863.5 974.7 867 975.4C870.5 976.1 875.2 977.7 879 978.6C882.8 979.5 887.8 980.3 889.6 980.6M858 1000.6C859.5 1000.4 863.5 1000.2 867 999.4C870.5 998.6 875.2 997.1 879 996C882.8 994.9 887.8 993.5 889.6 993M858 1003C859.5 1002.8 863.5 1002.8 867 1002C870.5 1001.2 875.2 999.3 879 998C882.8 996.7 887.8 994.7 889.6 994M858 1009.4C860.8 1009.3 869.7 1009.1 875 1009C880.3 1008.9 887.2 1009 889.6 1009M858 1014.6C860.8 1014.6 869.7 1014.6 875 1014.6C880.3 1014.6 887.2 1014.6 889.6 1014.6M889.6 980C891.8 979.9 898.8 979.3 903 979.4C907.2 979.5 911 979.5 915 980.6C919 981.7 923.3 983.9 927 986C930.7 988.1 934.2 991.3 937 993C939.8 994.7 942.8 995.5 944 996M889.6 980.6C891.2 981 895.4 981.4 899 983C902.6 984.6 907 987.5 911 990C915 992.5 919.3 996.2 923 998C926.7 999.8 930.3 1000.6 933 1000.6C935.7 1000.6 937.2 998.9 939 998C940.8 997.1 943.2 995.8 944 995.4M889.6 993C890.8 992.5 894.8 990.7 897 990C899.2 989.3 900.7 988.5 903 989C905.3 989.5 907.7 990.7 911 993C914.3 995.3 919 1000.2 923 1003C927 1005.8 931.5 1008.7 935 1010C938.5 1011.3 942.5 1010.8 944 1011M889.6 994C891.2 994.8 895.4 996.8 899 999C902.6 1001.2 907 1004.8 911 1007C915 1009.2 919 1010.8 923 1012C927 1013.2 931.5 1013.8 935 1014C938.5 1014.2 942.5 1013.2 944 1013M889.6 1009C892.5 1009.2 901.4 1009.2 907 1010C912.6 1010.8 918.3 1013.2 923 1014C927.7 1014.8 931.5 1015 935 1015C938.5 1015 942.5 1014.2 944 1014M889.6 1014.6C892.5 1014.7 902.1 1014.4 907 1015C911.9 1015.6 915 1017.2 919 1018C923 1018.8 926.8 1019.9 931 1020C935.2 1020.1 941.8 1018.8 944 1018.6M944 996C945.8 995.7 951.2 995.8 955 994C958.8 992.2 963 988 967 985C971 982 975.7 978.1 979 976C982.3 973.9 984.4 973.4 987 972.6C989.6 971.8 993.3 971.6 994.6 971.4M944 995.4C945.8 995.1 951.2 995 955 993.4C958.8 991.8 963 988.6 967 986C971 983.4 975.7 979.8 979 978C982.3 976.2 984.4 975.6 987 975C989.6 974.4 993.3 974.7 994.6 974.6M944 1011C945.8 1010.5 951.2 1009.2 955 1008C958.8 1006.8 963 1005 967 1004C971 1003 974.4 1002.6 979 1002C983.6 1001.4 992 1000.8 994.6 1000.6M944 1013C945.8 1012.5 951.2 1011.2 955 1010C958.8 1008.8 963 1007 967 1006C971 1005 974.4 1004.5 979 1004C983.6 1003.5 992 1003.2 994.6 1003M944 1014C945.8 1013.8 951.2 1013.5 955 1013C958.8 1012.5 963 1011.5 967 1011C971 1010.5 974.4 1010.1 979 1009.8C983.6 1009.5 992 1009.5 994.6 1009.4M944 1018.6C945.8 1018.5 951.2 1018.4 955 1018C958.8 1017.6 963 1016.5 967 1016C971 1015.5 974.4 1015.2 979 1015C983.6 1014.8 992 1014.7 994.6 1014.6M994.4 971.4C996 971.7 1000.4 972 1004 973C1007.6 974 1012.2 976.2 1016 977.4C1019.8 978.6 1025.2 979.6 1027 980M994.4 974.6C996 974.7 1000.4 974.7 1004 975.4C1007.6 976.1 1012.2 977.7 1016 978.6C1019.8 979.5 1025.2 980.3 1027 980.6M994.4 1000.6C996 1000.4 1000.4 1000.2 1004 999.4C1007.6 998.6 1012.2 997.1 1016 996C1019.8 994.9 1025.2 993.5 1027 993M994.4 1003C996 1002.8 1000.4 1002.8 1004 1002C1007.6 1001.2 1012.2 999.3 1016 998C1019.8 996.7 1025.2 994.7 1027 994M994.4 1009.4C997 1009.3 1004.6 1009.1 1010 1009C1015.4 1008.9 1024.2 1009 1027 1009M994.4 1014.6C997 1014.6 1004.6 1014.6 1010 1014.6C1015.4 1014.6 1024.2 1014.6 1027 1014.6M1027 980C1029.2 979.9 1035.8 979.3 1040 979.4C1044.2 979.5 1048 979.5 1052 980.6C1056 981.7 1060.3 983.9 1064 986C1067.7 988.1 1071.1 991.3 1074 993C1076.9 994.7 1080.3 995.5 1081.6 996M1027 980.6C1028.5 981 1032.5 981.4 1036 983C1039.5 984.6 1044 987.5 1048 990C1052 992.5 1056.3 996.2 1060 998C1063.7 999.8 1067.3 1000.6 1070 1000.6C1072.7 1000.6 1074.1 998.9 1076 998C1077.9 997.1 1080.7 995.8 1081.6 995.4M1027 993C1028.2 992.5 1031.8 990.7 1034 990C1036.2 989.3 1037.7 988.5 1040 989C1042.3 989.5 1044.7 990.7 1048 993C1051.3 995.3 1056 1000.2 1060 1003C1064 1005.8 1068.4 1008.7 1072 1010C1075.6 1011.3 1080 1010.8 1081.6 1011M1027 994C1028.5 994.8 1032.5 996.8 1036 999C1039.5 1001.2 1044 1004.8 1048 1007C1052 1009.2 1056 1010.8 1060 1012C1064 1013.2 1068.4 1013.8 1072 1014C1075.6 1014.2 1080 1013.2 1081.6 1013M1027 1009C1029.8 1009.2 1038.5 1009.2 1044 1010C1049.5 1010.8 1055.3 1013.2 1060 1014C1064.7 1014.8 1068.4 1015 1072 1015C1075.6 1015 1080 1014.2 1081.6 1014M1027 1014.6C1029.8 1014.7 1039.2 1014.4 1044 1015C1048.8 1015.6 1052 1017.2 1056 1018C1060 1018.8 1063.7 1019.9 1068 1020C1072.3 1020.1 1079.3 1018.8 1081.6 1018.6M1081.6 996C1082.7 995.2 1085.6 993.3 1088 991C1090.4 988.7 1093.3 984.7 1096 982C1098.7 979.3 1101 976.6 1104 975C1107 973.4 1112.3 973 1114 972.6M1081.6 996C1082.7 997 1085.6 999.7 1088 1002C1090.4 1004.3 1093.3 1007.7 1096 1010C1098.7 1012.3 1101 1014.3 1104 1016C1107 1017.7 1112.3 1019.3 1114 1020M1081.6 1011C1083 1010.7 1087.3 1009.8 1090 1009C1092.7 1008.2 1095.3 1006.8 1098 1006C1100.7 1005.2 1103.3 1004.5 1106 1004C1108.7 1003.5 1112.7 1003.2 1114 1003M1081.6 1014C1083 1014 1087.3 1014.5 1090 1014C1092.7 1013.5 1095.3 1012 1098 1011C1100.7 1010 1103.3 1008.7 1106 1008C1108.7 1007.3 1112.7 1007.2 1114 1007M1081.6 1018.6C1083 1018.6 1087.3 1019.2 1090 1018.6C1092.7 1018 1095.3 1016.3 1098 1015C1100.7 1013.7 1103.3 1011.9 1106 1011C1108.7 1010.1 1112.7 1009.7 1114 1009.4M1081.6 1015C1083.7 1015.2 1089.9 1015.3 1094 1016C1098.1 1016.7 1102.7 1018.2 1106 1019C1109.3 1019.8 1112.7 1020.3 1114 1020.6" fill="none" stroke="#000" stroke-width="1.7" stroke-linejoin="round" stroke-linecap="round"/>
<line x1="857.5" y1="614.5" x2="857.5" y2="1098.5" stroke="#000" stroke-width="1.8"/>
<line x1="890" y1="614.5" x2="890" y2="1098.5" stroke="#000" stroke-width="1.8"/>
<line x1="944" y1="614.5" x2="944" y2="1098.5" stroke="#000" stroke-width="1.8"/>
<line x1="995" y1="614.5" x2="995" y2="1098.5" stroke="#000" stroke-width="1.8"/>
<line x1="1027.5" y1="614.5" x2="1027.5" y2="1098.5" stroke="#000" stroke-width="1.8"/>
<line x1="1081.5" y1="614.5" x2="1081.5" y2="1098.5" stroke="#000" stroke-width="1.8"/>
<line x1="802.5" y1="1061.3" x2="1118" y2="1061.3" stroke="#d8202a" stroke-width="1.9" stroke-dasharray="8 8.2"/>
<line x1="1132.5" y1="1061.3" x2="1292.5" y2="1061.3" stroke="#d8202a" stroke-width="1.9" stroke-dasharray="8 8.2"/>
<clipPath id="cpd"><rect x="1133.3" y="614.5" width="160" height="484"/></clipPath>
<g clip-path="url(#cpd)">
<path d="M1132.2 738C1132.2 738.5 1131.9 739.8 1132.2 741C1132.5 742.2 1132.4 743.7 1134 745C1135.6 746.3 1138 747.8 1142 749C1146 750.2 1152 751.3 1158 752.4C1164 753.5 1172 754.7 1178 755.6C1184 756.5 1191 757.4 1194 758C1197 758.6 1197 758.8 1196 759.4C1195 760 1191.7 760.6 1188 761.6C1184.3 762.6 1178.3 764 1174 765.6C1169.7 767.2 1165.2 769.3 1162 771C1158.8 772.7 1156.5 774.5 1155 776C1153.5 777.5 1153.3 778.7 1153 780C1152.7 781.3 1153.5 782.3 1153 784C1152.5 785.7 1151.3 788 1150 790C1148.7 792 1146.1 794.5 1145 796C1143.9 797.5 1143.1 797.8 1143.6 799C1144.1 800.2 1146.9 801.5 1148 803C1149.1 804.5 1149.7 806 1150 808C1150.3 810 1149.3 813.3 1149.6 815C1149.9 816.7 1149.3 817.2 1152 818C1154.7 818.8 1159.7 819.3 1166 820C1172.3 820.7 1182 821.5 1190 822.4C1198 823.3 1207.7 824.5 1214 825.6C1220.3 826.7 1224.8 827.8 1228 829C1231.2 830.2 1233 831.9 1233 833C1233 834.1 1233.2 834.7 1228 835.6C1222.8 836.5 1210.7 837.5 1202 838.4C1193.3 839.3 1181.8 840.3 1176 841C1170.2 841.7 1167.3 841.7 1167 842.4C1166.7 843.1 1171.2 843.9 1174 845C1176.8 846.1 1181.3 847.6 1184 849C1186.7 850.4 1189.5 852.3 1190 853.6C1190.5 854.9 1188.7 855.9 1187 857C1185.3 858.1 1181.3 859 1180 860C1178.7 861 1177.3 862.2 1179 863C1180.7 863.8 1184.8 864.2 1190 865C1195.2 865.8 1204 866.8 1210 867.6C1216 868.4 1222.8 869.4 1226 870C1229.2 870.6 1230 870.7 1229 871.4C1228 872.1 1224.8 873.1 1220 874.4C1215.2 875.7 1207.3 877.4 1200 879C1192.7 880.6 1182.7 882.3 1176 884C1169.3 885.7 1164.2 887.3 1160 889C1155.8 890.7 1152.8 892.5 1151 894C1149.2 895.5 1148.8 896.3 1149 898C1149.2 899.7 1150.5 902 1152 904C1153.5 906 1155.7 908.2 1158 910C1160.3 911.8 1164.2 913.7 1166 915C1167.8 916.3 1169.3 916.8 1169 917.6C1168.7 918.4 1167.2 919.1 1164 920C1160.8 920.9 1154.3 922.1 1150 923C1145.7 923.9 1141 924.8 1138 925.6C1135 926.4 1133.2 926.9 1132.2 928C1131.2 929.1 1132.2 926.2 1132.2 932C1132.2 937.8 1132.2 957.5 1132.2 963C1132.2 968.5 1131.9 964.3 1132.2 965C1132.5 965.7 1132.5 966.5 1134.2 967.2C1135.9 967.9 1138.4 968.3 1142.4 969C1146.4 969.7 1152.4 970.7 1158.4 971.6C1164.4 972.5 1172.4 973.8 1178.4 974.6C1184.4 975.4 1190.7 975.9 1194.4 976.6C1198.1 977.3 1200.6 978.1 1200.6 979C1200.6 979.9 1197.8 980.9 1194.4 981.8C1191 982.7 1184 983.6 1180.4 984.4C1176.8 985.2 1174.1 986.1 1172.6 986.8C1171.1 987.5 1171.1 987.8 1171.6 988.6C1172.1 989.4 1173.4 990.6 1175.6 991.8C1177.8 993 1181.4 994.5 1184.6 995.8C1187.8 997.1 1192.1 998.7 1194.6 999.8C1197.1 1000.9 1197.6 1001.8 1199.6 1002.6C1201.6 1003.4 1203.1 1003.9 1206.6 1004.6C1210.1 1005.3 1215.3 1006.2 1220.6 1007C1225.9 1007.8 1233.2 1008.8 1238.6 1009.6C1244 1010.4 1249 1011.1 1252.8 1011.6C1256.6 1012.1 1259.6 1012.4 1261.2 1012.8C1262.8 1013.2 1263.8 1013.5 1262.4 1014C1261 1014.5 1258.1 1015.3 1252.8 1016C1247.5 1016.7 1238.8 1017.3 1230.4 1018C1222 1018.7 1211.1 1019.4 1202.4 1020C1193.7 1020.6 1185.1 1021.1 1178.4 1021.8C1171.7 1022.5 1167.1 1023.1 1162.4 1024C1157.7 1024.9 1153.7 1026 1150.4 1027.4C1147.1 1028.8 1144.6 1030.4 1142.4 1032.4C1140.2 1034.4 1138.8 1036.9 1137.4 1039.4C1136 1041.9 1135.1 1044.6 1134.2 1047.2C1133.3 1049.8 1132.5 1052.5 1132.2 1055C1131.9 1057.5 1132.2 1060.8 1132.2 1062" fill="none" stroke="#000" stroke-width="1.7" stroke-linejoin="round"/>
<path d="M1132.2 740C1132.2 740.5 1131.6 741.7 1132.2 743C1132.8 744.3 1134 746.4 1136 748C1138 749.6 1141.2 751 1144 752.4C1146.8 753.8 1151 755.3 1153 756.4C1155 757.5 1155.7 758.1 1156 759C1156.3 759.9 1156 760.5 1155 762C1154 763.5 1151.7 765.7 1150 768C1148.3 770.3 1146.3 773.3 1145 776C1143.7 778.7 1142.8 781.3 1142 784C1141.2 786.7 1140.2 789.7 1140 792C1139.8 794.3 1140.3 796 1141 798C1141.7 800 1143.7 802 1144 804C1144.3 806 1142.8 808 1143 810C1143.2 812 1143.5 814.4 1145 816C1146.5 817.6 1147.8 818.6 1152 819.6C1156.2 820.6 1163.3 821.1 1170 822C1176.7 822.9 1185.3 824 1192 825C1198.7 826 1206.2 827 1210 828C1213.8 829 1214.1 830.1 1215 831C1215.9 831.9 1217.1 832.8 1215.6 833.6C1214.1 834.4 1211.6 835.2 1206 836C1200.4 836.8 1190 837.6 1182 838.4C1174 839.2 1164.2 840.2 1158 841C1151.8 841.8 1147.3 842.3 1145 843C1142.7 843.7 1143.5 844 1144 845C1144.5 846 1146.8 847.5 1148 849C1149.2 850.5 1150.4 852.3 1151 854C1151.6 855.7 1150.8 857.5 1151.6 859C1152.4 860.5 1153.6 861.7 1156 863C1158.4 864.3 1162.8 865.9 1166 867C1169.2 868.1 1173.2 868.9 1175 869.6C1176.8 870.3 1177.8 870.3 1177 871C1176.2 871.7 1173.2 872.8 1170 874C1166.8 875.2 1161.7 876.3 1158 878C1154.3 879.7 1150.8 881.8 1148 884C1145.2 886.2 1142.6 888.7 1141 891C1139.4 893.3 1138.6 895.8 1138.4 898C1138.2 900.2 1139.1 902 1140 904C1140.9 906 1142.8 908.2 1144 910C1145.2 911.8 1146.7 913.5 1147 915C1147.3 916.5 1147.2 917.8 1146 919C1144.8 920.2 1142 921.4 1140 922.4C1138 923.4 1135.3 924.2 1134 925C1132.7 925.8 1132.5 926.7 1132.2 927" fill="none" stroke="#7dc242" stroke-width="1.65" stroke-linejoin="round"/>
<path d="M1132.2 739C1132.2 739.5 1131.7 740.7 1132.2 742C1132.7 743.3 1132.7 745.5 1135 747C1137.3 748.5 1141.8 749.8 1146 751C1150.2 752.2 1155.8 753.4 1160 754.4C1164.2 755.4 1168.8 756.3 1171 757C1173.2 757.7 1173.5 757.9 1173 758.6C1172.5 759.3 1170.5 759.8 1168 761C1165.5 762.2 1161 764 1158 766C1155 768 1152.2 770.7 1150 773C1147.8 775.3 1146.3 777.8 1145 780C1143.7 782.2 1143 783.8 1142 786C1141 788.2 1139.7 790.7 1139 793C1138.3 795.3 1138 797.5 1138 800C1138 802.5 1138.5 805.3 1139 808C1139.5 810.7 1140 813.3 1141 816C1142 818.7 1143.8 821.7 1145 824C1146.2 826.3 1147.3 828 1148 830C1148.7 832 1149.2 834.3 1149 836C1148.8 837.7 1146.5 838.8 1147 840C1147.5 841.2 1149.5 842 1152 843C1154.5 844 1159 844.8 1162 846C1165 847.2 1168.3 848.7 1170 850C1171.7 851.3 1172.3 852.7 1172 854C1171.7 855.3 1170 856.8 1168 858C1166 859.2 1161.5 860.2 1160 861C1158.5 861.8 1157.7 862.2 1159 863C1160.3 863.8 1164.5 865 1168 866C1171.5 867 1177.4 868.1 1180 869C1182.6 869.9 1183.6 870.4 1183.6 871.4C1183.6 872.4 1182.3 873.6 1180 875C1177.7 876.4 1173.7 878.5 1170 880C1166.3 881.5 1161.5 882.5 1158 884C1154.5 885.5 1151.2 887.2 1149 889C1146.8 890.8 1145.6 892.8 1145 895C1144.4 897.2 1144.9 899.7 1145.6 902C1146.3 904.3 1147.8 906.8 1149 909C1150.2 911.2 1152.2 913.5 1153 915C1153.8 916.5 1154.4 917 1153.6 918C1152.8 919 1150.6 919.8 1148 921C1145.4 922.2 1140.6 923.8 1138 925C1135.4 926.2 1133.2 927.5 1132.2 928" fill="none" stroke="#3a53c5" stroke-width="1.65" stroke-linejoin="round"/>
<path d="M1132.2 820C1132.4 826.7 1132.9 846.7 1133.2 860C1133.5 873.3 1134 890 1134 900C1134 910 1133.5 915 1133.2 920C1132.9 925 1132.4 922.8 1132.2 930C1132 937.2 1132.2 957.2 1132.2 963C1132.2 968.8 1131.9 964.3 1132.2 965C1132.5 965.7 1132.4 966.7 1134 967.4C1135.6 968.1 1138 968.6 1142 969.4C1146 970.2 1152 971.1 1158 972C1164 972.9 1172 974.2 1178 975C1184 975.8 1190.4 976.3 1194 977C1197.6 977.7 1199.6 978.3 1199.6 979C1199.6 979.7 1197.3 980.6 1194 981.4C1190.7 982.2 1183.7 983.1 1180 984C1176.3 984.9 1173.5 985.8 1172 986.6C1170.5 987.4 1170.5 987.7 1171 988.6C1171.5 989.5 1172.8 990.8 1175 992C1177.2 993.2 1180.8 994.7 1184 996C1187.2 997.3 1191.5 998.8 1194 1000C1196.5 1001.2 1197 1002.2 1199 1003C1201 1003.8 1202.5 1004.3 1206 1005C1209.5 1005.7 1214.7 1006.6 1220 1007.4C1225.3 1008.2 1232.7 1009.2 1238 1010C1243.3 1010.8 1248.3 1011.5 1252 1012C1255.7 1012.5 1258.5 1012.7 1260 1013C1261.5 1013.3 1262.3 1013.6 1261 1014C1259.7 1014.4 1257.2 1015 1252 1015.6C1246.8 1016.2 1238.3 1016.9 1230 1017.6C1221.7 1018.3 1210.7 1019 1202 1019.6C1193.3 1020.2 1184.7 1020.7 1178 1021.4C1171.3 1022.1 1166.7 1022.7 1162 1023.6C1157.3 1024.5 1153.3 1025.6 1150 1027C1146.7 1028.4 1144.2 1030 1142 1032C1139.8 1034 1138.3 1036.5 1137 1039C1135.7 1041.5 1134.8 1044.3 1134 1047C1133.2 1049.7 1132.5 1052.5 1132.2 1055C1131.9 1057.5 1132.2 1060.8 1132.2 1062" fill="none" stroke="#e0202a" stroke-width="1.65" stroke-linejoin="round"/>
</g>
<line x1="803" y1="614.5" x2="803" y2="1098.5" stroke="#000" stroke-width="1.9"/>
<line x1="1114" y1="614.5" x2="1114" y2="1098.5" stroke="#000" stroke-width="1.8"/>
<line x1="795.5" y1="614.5" x2="1121.5" y2="614.5" stroke="#000" stroke-width="1.9"/>
<line x1="798.5" y1="1098.5" x2="1118.5" y2="1098.5" stroke="#000" stroke-width="1.9"/>
<line x1="1132.5" y1="614.5" x2="1132.5" y2="1098.5" stroke="#000" stroke-width="1.9"/>
<line x1="1292.5" y1="613.5" x2="1292.5" y2="1099.5" stroke="#000" stroke-width="1.9"/>
<line x1="1125" y1="614.5" x2="1292.5" y2="614.5" stroke="#000" stroke-width="1.9"/>
<line x1="1128" y1="1098.5" x2="1292.5" y2="1098.5" stroke="#000" stroke-width="1.9"/>
<line x1="795.5" y1="614.5" x2="803" y2="614.5" stroke="#000" stroke-width="1.9"/>
<line x1="1114" y1="614.5" x2="1121.5" y2="614.5" stroke="#000" stroke-width="1.9"/>
<line x1="1125" y1="614.5" x2="1132.5" y2="614.5" stroke="#000" stroke-width="1.9"/>
<text x="791.8" y="623.9" font-size="32" text-anchor="end">30</text>
<line x1="798.5" y1="651.7" x2="803" y2="651.7" stroke="#000" stroke-width="1.9"/>
<line x1="1114" y1="651.7" x2="1118.5" y2="651.7" stroke="#000" stroke-width="1.9"/>
<line x1="1128" y1="651.7" x2="1132.5" y2="651.7" stroke="#000" stroke-width="1.9"/>
<line x1="795.5" y1="689" x2="803" y2="689" stroke="#000" stroke-width="1.9"/>
<line x1="1114" y1="689" x2="1121.5" y2="689" stroke="#000" stroke-width="1.9"/>
<line x1="1125" y1="689" x2="1132.5" y2="689" stroke="#000" stroke-width="1.9"/>
<text x="791.8" y="698.4" font-size="32" text-anchor="end">25</text>
<line x1="798.5" y1="726.2" x2="803" y2="726.2" stroke="#000" stroke-width="1.9"/>
<line x1="1114" y1="726.2" x2="1118.5" y2="726.2" stroke="#000" stroke-width="1.9"/>
<line x1="1128" y1="726.2" x2="1132.5" y2="726.2" stroke="#000" stroke-width="1.9"/>
<line x1="795.5" y1="763.4" x2="803" y2="763.4" stroke="#000" stroke-width="1.9"/>
<line x1="1114" y1="763.4" x2="1121.5" y2="763.4" stroke="#000" stroke-width="1.9"/>
<line x1="1125" y1="763.4" x2="1132.5" y2="763.4" stroke="#000" stroke-width="1.9"/>
<text x="791.8" y="772.8" font-size="32" text-anchor="end">20</text>
<line x1="798.5" y1="800.7" x2="803" y2="800.7" stroke="#000" stroke-width="1.9"/>
<line x1="1114" y1="800.7" x2="1118.5" y2="800.7" stroke="#000" stroke-width="1.9"/>
<line x1="1128" y1="800.7" x2="1132.5" y2="800.7" stroke="#000" stroke-width="1.9"/>
<line x1="795.5" y1="837.9" x2="803" y2="837.9" stroke="#000" stroke-width="1.9"/>
<line x1="1114" y1="837.9" x2="1121.5" y2="837.9" stroke="#000" stroke-width="1.9"/>
<line x1="1125" y1="837.9" x2="1132.5" y2="837.9" stroke="#000" stroke-width="1.9"/>
<text x="791.8" y="847.3" font-size="32" text-anchor="end">15</text>
<line x1="798.5" y1="875.1" x2="803" y2="875.1" stroke="#000" stroke-width="1.9"/>
<line x1="1114" y1="875.1" x2="1118.5" y2="875.1" stroke="#000" stroke-width="1.9"/>
<line x1="1128" y1="875.1" x2="1132.5" y2="875.1" stroke="#000" stroke-width="1.9"/>
<line x1="795.5" y1="912.3" x2="803" y2="912.3" stroke="#000" stroke-width="1.9"/>
<line x1="1114" y1="912.3" x2="1121.5" y2="912.3" stroke="#000" stroke-width="1.9"/>
<line x1="1125" y1="912.3" x2="1132.5" y2="912.3" stroke="#000" stroke-width="1.9"/>
<text x="791.8" y="921.7" font-size="32" text-anchor="end">10</text>
<line x1="798.5" y1="949.6" x2="803" y2="949.6" stroke="#000" stroke-width="1.9"/>
<line x1="1114" y1="949.6" x2="1118.5" y2="949.6" stroke="#000" stroke-width="1.9"/>
<line x1="1128" y1="949.6" x2="1132.5" y2="949.6" stroke="#000" stroke-width="1.9"/>
<line x1="795.5" y1="986.8" x2="803" y2="986.8" stroke="#000" stroke-width="1.9"/>
<line x1="1114" y1="986.8" x2="1121.5" y2="986.8" stroke="#000" stroke-width="1.9"/>
<line x1="1125" y1="986.8" x2="1132.5" y2="986.8" stroke="#000" stroke-width="1.9"/>
<text x="791.8" y="996.2" font-size="32" text-anchor="end">5</text>
<line x1="798.5" y1="1024" x2="803" y2="1024" stroke="#000" stroke-width="1.9"/>
<line x1="1114" y1="1024" x2="1118.5" y2="1024" stroke="#000" stroke-width="1.9"/>
<line x1="1128" y1="1024" x2="1132.5" y2="1024" stroke="#000" stroke-width="1.9"/>
<line x1="795.5" y1="1061.3" x2="803" y2="1061.3" stroke="#000" stroke-width="1.9"/>
<line x1="1114" y1="1061.3" x2="1121.5" y2="1061.3" stroke="#000" stroke-width="1.9"/>
<line x1="1125" y1="1061.3" x2="1132.5" y2="1061.3" stroke="#000" stroke-width="1.9"/>
<text x="791.8" y="1070.7" font-size="32" text-anchor="end">0</text>
<line x1="798.5" y1="1098.5" x2="803" y2="1098.5" stroke="#000" stroke-width="1.9"/>
<line x1="1114" y1="1098.5" x2="1118.5" y2="1098.5" stroke="#000" stroke-width="1.9"/>
<line x1="1128" y1="1098.5" x2="1132.5" y2="1098.5" stroke="#000" stroke-width="1.9"/>
<text x="1132.5" y="1129.5" font-size="32" text-anchor="middle">0</text>
<line x1="1212.5" y1="1098.5" x2="1212.5" y2="1091" stroke="#000" stroke-width="1.9"/>
<text x="1212.5" y="1129.5" font-size="32" text-anchor="middle">2</text>
<text x="1292.5" y="1129.5" font-size="32" text-anchor="middle">4</text>
<line x1="1172.5" y1="1098.5" x2="1172.5" y2="1094" stroke="#000" stroke-width="1.9"/>
<line x1="1252.5" y1="1098.5" x2="1252.5" y2="1094" stroke="#000" stroke-width="1.9"/>
<text x="805" y="1129.5" font-size="32" text-anchor="middle">Γ</text>
<text x="857.5" y="1129.5" font-size="32" text-anchor="middle">Z</text>
<text x="891.5" y="1129.5" font-size="32" text-anchor="middle">T</text>
<text x="944" y="1129.5" font-size="32" text-anchor="middle">Y</text>
<text x="995" y="1129.5" font-size="32" text-anchor="middle">S</text>
<text x="1028.5" y="1129.5" font-size="32" text-anchor="middle">X</text>
<text x="1081" y="1129.5" font-size="32" text-anchor="middle">U</text>
<text x="1112.5" y="1129.5" font-size="32" text-anchor="middle">R</text>
<text x="736.8" y="863" font-size="32.5" text-anchor="middle" transform="rotate(-90 736.8 863)">Frequency(THz)</text>
<text x="809" y="673" font-size="30.5" text-anchor="start">(d)</text>
<line x1="1200" y1="643" x2="1245" y2="643" stroke="#000" stroke-width="1.7"/>
<text x="1249" y="649.3" font-size="19" text-anchor="start">Total</text>
<line x1="1200" y1="667" x2="1245" y2="667" stroke="#e0202a" stroke-width="1.7"/>
<text x="1249" y="673.3" font-size="19" text-anchor="start">Th</text>
<line x1="1200" y1="690.5" x2="1245" y2="690.5" stroke="#7dc242" stroke-width="1.7"/>
<text x="1249" y="696.8" font-size="19" text-anchor="start">B</text>
<line x1="1200" y1="714.5" x2="1245" y2="714.5" stroke="#3a53c5" stroke-width="1.7"/>
<text x="1249" y="720.8" font-size="19" text-anchor="start">C</text>
</svg>
</body></html>
